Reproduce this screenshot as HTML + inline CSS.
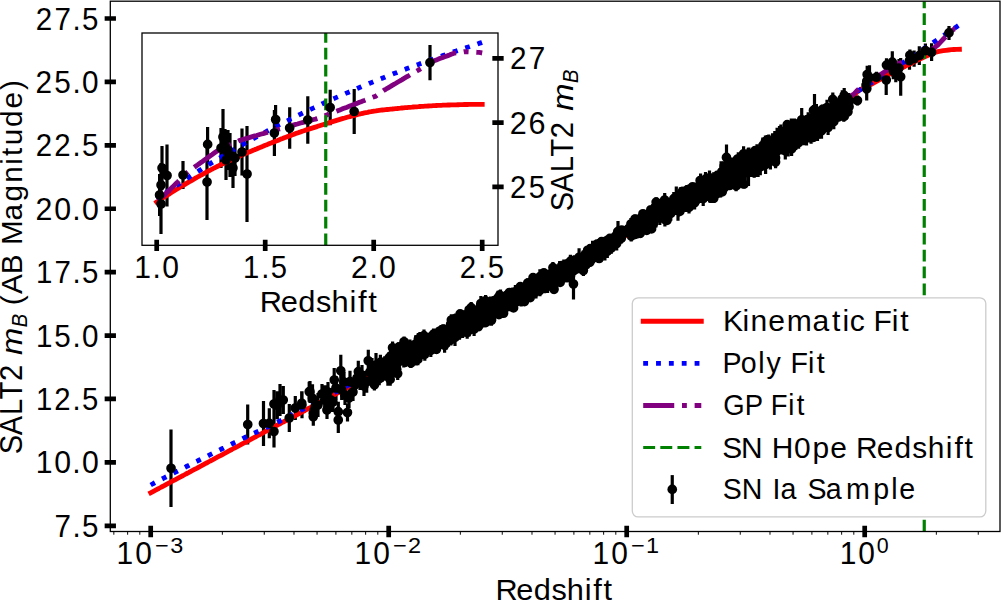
<!DOCTYPE html>
<html><head><meta charset="utf-8"><title>SN Ia Hubble diagram</title>
<style>html,body{margin:0;padding:0;background:#fff;width:1001px;height:600px;overflow:hidden}
svg{display:block}
text{font-family:"Liberation Sans",sans-serif;fill:#000}</style></head><body>
<svg width="1001" height="600" viewBox="0 0 1001 600">
<rect x="0" y="0" width="1001" height="600" fill="#fff"/>
<defs><clipPath id="cm"><rect x="110.30" y="1.20" width="889.70" height="530.30"/></clipPath>
<clipPath id="ci"><rect x="142.00" y="33.00" width="356.00" height="212.30"/></clipPath></defs>
<g clip-path="url(#cm)">
<path d="M171.0 507.1V429.5M247.7 444.5V404.5M263.5 446.0V401.0M269.3 438.3V408.3M274.0 447.5V415.5M274.0 418.0V390.0M277.3 419.3V391.3M280.0 416.0V384.0M283.3 414.0V386.0M289.3 432.0V404.0M295.3 420.0V396.0M302.0 418.2V391.2M310.0 403.0V381.0M312.7 408.7V388.7M313.3 425.3V401.3M315.3 416.7V396.7M324.7 412.5V387.5M328.7 408.7V388.7M301.7 415.3V391.3M309.2 401.7V381.7M312.5 412.3V384.3M314.2 420.0V400.0M313.3 425.7V407.7M325.0 411.3V385.3M328.0 402.0V382.0M331.0 412.0V388.0M334.2 392.0V368.0M340.8 386.8V354.8M338.3 421.7V401.7M338.3 433.0V407.0M347.5 421.5V403.5M341.7 400.0V380.0M345.0 405.0V385.0M350.0 392.7V370.7M358.3 382.7V360.7M368.3 371.8V349.8M366.7 392.7V370.7M355.0 395.0V375.0M362.0 385.0V365.0M372.0 378.0V358.0M376.0 377.0V353.0M318.0 417.0V393.0M322.0 404.0V384.0M336.0 400.0V376.0M344.0 392.0V372.0M353.0 401.0V383.0M360.0 390.0V370.0M370.0 383.0V361.0M333.0 412.0V392.0M327.0 419.0V401.0M364.0 396.0V376.0M357.0 387.0V369.0M349.0 408.0V388.0M377.0 379.1V365.8M379.2 385.3V372.5M378.2 374.9V363.5M373.8 385.1V373.7M374.4 390.4V379.0M379.0 380.2V368.9M372.0 382.3V368.5M378.6 379.9V369.3M378.4 383.5V370.6M375.7 380.4V369.0M374.4 385.3V373.3M428.4 346.1V334.5M394.0 368.5V358.5M405.9 354.3V340.3M380.3 379.8V365.9M438.1 342.0V329.2M390.8 363.0V351.6M398.7 352.2V342.3M441.6 338.9V327.4M415.7 352.9V335.2M439.3 335.3V327.3M424.8 360.7V347.8M431.9 353.1V342.7M386.4 366.7V356.2M417.9 365.2V353.7M415.5 353.9V343.4M441.0 341.9V333.5M405.3 367.1V356.0M421.9 355.7V347.5M384.1 371.7V359.2M407.1 354.7V345.1M402.6 362.7V352.8M390.5 374.8V362.3M437.1 349.9V338.6M406.6 359.8V341.2M448.5 346.8V334.0M421.3 352.5V341.7M422.4 358.9V349.1M424.7 346.6V336.1M427.4 348.8V338.9M390.6 362.1V350.0M410.8 368.0V358.1M396.8 373.9V365.0M408.2 362.4V347.1M386.8 371.5V360.7M447.7 345.5V331.7M395.1 364.3V352.3M427.0 350.0V339.3M401.0 356.4V343.5M441.2 340.7V332.6M426.4 346.5V337.3M389.2 362.8V352.3M439.2 344.8V334.6M446.1 349.8V333.2M443.3 333.7V324.6M419.9 348.9V337.1M390.2 385.7V373.0M393.5 367.1V354.9M445.0 345.7V336.2M418.7 355.9V341.4M392.6 365.3V353.3M441.9 334.1V325.1M424.9 351.2V343.3M419.9 345.5V331.9M406.3 353.8V340.8M408.8 356.8V345.1M396.8 365.0V353.5M382.7 378.0V361.1M441.3 339.9V329.9M412.7 358.1V348.3M418.3 345.2V333.0M402.6 359.0V348.2M432.6 353.3V343.0M381.8 371.1V359.0M406.1 359.4V348.5M382.1 375.1V364.2M388.6 371.7V360.7M447.7 333.6V325.2M426.0 349.6V333.8M410.0 357.9V347.8M416.7 352.9V341.9M441.1 348.6V337.2M404.1 347.3V336.4M421.3 352.2V343.3M427.9 346.6V338.2M404.9 367.0V351.8M416.3 360.6V346.5M433.6 339.6V328.6M443.6 342.4V324.6M390.6 369.9V358.7M445.3 347.2V337.0M380.4 369.9V354.8M432.7 351.6V342.9M436.7 348.6V337.5M389.6 371.5V358.9M409.3 355.0V344.4M437.1 345.9V335.1M381.0 378.8V364.9M424.0 341.7V329.5M435.5 344.7V337.2M415.9 350.7V342.5M430.8 356.9V343.9M395.8 360.2V348.6M393.9 376.2V364.8M405.4 363.2V350.2M392.6 354.0V341.5M404.2 362.6V353.0M446.4 339.8V330.1M420.1 358.8V347.8M403.8 367.4V352.8M399.0 357.0V342.3M446.6 342.7V331.1M411.1 356.6V346.2M448.6 338.8V331.3M416.1 363.1V350.0M416.5 355.3V343.8M442.8 335.3V328.2M432.0 352.1V341.2M420.6 349.8V339.8M409.9 351.2V339.5M441.5 347.9V339.7M408.8 353.2V340.8M444.6 352.7V338.0M384.8 372.4V356.2M410.1 358.5V347.9M416.4 365.5V344.0M446.6 343.4V327.5M397.6 367.0V354.8M436.4 354.0V344.5M427.4 343.2V334.9M430.2 343.3V331.9M424.1 355.9V346.3M448.0 341.0V331.0M403.3 361.8V351.7M407.9 358.4V348.8M394.2 373.6V361.8M383.5 368.9V358.2M394.9 364.8V353.9M444.1 347.4V334.6M438.8 349.6V334.1M387.9 376.8V363.7M422.3 352.1V342.8M413.5 351.8V341.1M421.6 348.6V337.9M426.1 355.7V345.3M401.5 361.2V347.1M447.3 343.7V333.7M412.6 366.0V353.2M424.0 355.3V347.4M424.5 352.7V338.7M392.9 375.5V365.1M384.3 378.6V367.6M408.8 354.3V344.5M433.5 351.8V339.8M437.1 349.9V338.4M431.1 352.1V343.9M387.9 385.8V367.6M443.9 343.2V332.4M436.1 346.3V335.6M441.4 346.2V328.6M416.6 358.4V349.9M444.1 345.0V337.4M383.3 371.9V357.4M382.1 382.0V371.0M381.4 381.5V365.0M397.7 380.1V367.1M397.4 370.9V356.3M527.7 295.1V283.6M534.8 286.9V276.6M456.2 322.0V314.0M530.6 289.1V281.4M539.9 284.2V269.2M499.0 318.0V311.2M456.9 331.7V319.4M525.1 292.7V284.3M477.1 321.4V310.1M520.8 300.4V288.3M491.4 325.8V314.7M520.1 304.8V292.9M478.4 321.9V314.5M502.4 305.7V298.9M507.7 308.0V302.3M519.4 300.0V289.8M472.3 320.2V311.1M555.8 277.2V268.8M481.8 321.2V310.2M483.7 313.5V305.2M478.2 322.8V313.9M457.4 332.1V324.2M496.5 306.5V298.5M534.9 288.1V281.6M528.1 293.4V283.6M471.5 331.8V314.0M465.1 330.9V314.4M485.4 312.7V305.1M534.5 293.5V283.7M503.7 307.5V298.5M551.6 282.9V278.1M522.2 296.5V291.9M518.3 297.2V290.3M534.4 294.0V286.1M532.5 289.4V284.0M487.8 323.4V316.6M478.3 330.3V323.1M498.1 302.5V295.8M503.8 303.3V297.3M465.6 327.1V318.3M498.5 311.7V301.0M520.4 291.2V282.0M464.9 327.7V320.2M465.2 326.1V317.1M469.1 323.0V313.6M481.2 310.4V304.7M555.8 284.3V273.0M452.8 336.8V328.6M470.2 326.3V319.5M468.2 332.5V311.9M502.2 302.2V295.8M451.7 340.5V331.5M500.4 304.1V297.1M467.9 332.4V320.0M479.7 316.6V308.2M537.2 293.2V287.9M470.2 327.8V322.1M517.9 295.9V288.7M494.7 314.3V297.7M495.9 305.5V299.0M539.9 287.1V274.6M467.7 330.3V322.8M551.6 282.3V277.2M548.3 276.6V272.6M523.5 301.3V293.3M455.4 335.9V325.6M523.0 295.7V287.6M516.0 294.0V289.3M534.9 290.2V283.4M473.5 324.2V314.2M554.9 285.0V278.2M547.5 282.5V273.1M462.6 338.1V320.1M484.7 306.2V299.9M453.6 339.7V318.5M541.4 285.1V276.0M550.7 284.1V277.1M558.9 280.4V273.4M517.3 296.5V288.8M523.3 297.6V291.6M524.6 295.4V288.9M512.7 305.4V293.0M554.8 281.3V271.4M516.9 299.0V290.1M486.9 317.2V308.8M506.4 301.7V295.2M452.1 329.8V319.7M529.7 296.1V288.7M526.3 298.5V289.4M496.3 317.0V304.0M543.7 288.3V284.1M533.1 293.1V288.4M487.0 318.9V306.2M458.5 328.3V321.2M464.5 336.7V320.1M470.3 324.8V315.3M483.4 319.7V299.3M499.2 304.6V295.2M552.1 282.7V272.4M480.6 322.2V315.3M548.8 283.4V277.2M524.9 296.5V287.6M543.9 276.1V269.7M494.4 313.2V304.6M450.4 336.8V323.4M536.6 291.4V284.9M477.0 329.2V321.9M465.7 326.4V316.7M537.9 293.5V286.0M525.5 296.4V286.2M473.4 327.1V318.3M479.4 328.5V321.6M553.3 273.9V269.6M479.5 323.0V313.1M527.3 295.4V288.8M464.3 330.0V320.4M539.7 287.4V282.6M462.9 330.2V322.4M506.8 308.8V299.3M453.9 333.6V320.9M510.5 307.7V295.9M543.1 284.3V272.0M459.3 325.5V316.1M480.2 322.9V311.0M534.1 297.6V288.4M516.9 302.3V294.6M484.4 325.5V318.3M519.2 300.8V289.2M500.0 305.2V296.5M544.9 286.4V279.9M482.2 317.5V308.9M533.4 292.6V277.2M519.9 297.4V291.9M531.4 294.8V289.3M491.6 322.2V308.4M529.7 290.9V285.5M526.8 294.5V281.4M492.6 314.7V307.2M452.9 338.0V327.3M555.9 280.9V268.5M528.5 291.0V278.2M472.5 319.7V308.2M530.4 299.5V291.3M480.7 318.6V310.3M501.6 304.4V296.3M544.6 293.2V279.5M499.3 307.5V297.9M481.7 317.5V304.6M483.6 315.3V310.1M458.5 335.6V326.9M474.1 329.1V319.1M479.8 314.9V306.8M469.0 336.6V318.8M456.9 334.7V327.4M501.2 308.7V298.5M473.6 329.1V317.1M531.3 293.7V287.3M551.5 284.0V273.2M480.0 324.3V314.1M512.9 310.0V287.4M505.7 312.3V298.4M458.3 333.1V323.6M463.7 328.0V315.4M547.3 280.6V271.2M502.2 310.6V303.0M538.5 288.2V277.9M457.3 327.2V316.2M515.4 299.5V285.1M545.2 284.1V278.9M545.4 289.7V284.4M450.6 328.3V320.1M507.4 301.2V290.5M490.6 308.9V296.4M533.6 291.8V283.8M458.1 332.9V322.7M479.1 323.8V314.6M539.4 280.5V275.5M501.7 306.7V299.8M499.8 310.4V298.7M556.5 282.7V271.9M485.2 327.2V314.2M454.6 338.9V327.2M493.1 310.6V305.8M466.9 332.2V322.0M459.0 325.4V314.8M512.5 300.3V294.5M554.9 279.6V264.1M513.7 301.8V293.6M521.2 306.6V295.0M485.6 306.5V295.0M512.8 298.0V287.6M532.7 298.7V285.3M514.8 306.8V298.6M538.3 289.8V278.4M510.6 302.7V292.8M471.8 327.8V321.0M514.1 300.9V293.9M504.0 312.0V305.9M468.3 328.1V322.0M518.1 304.0V298.7M539.9 288.7V279.0M464.9 318.3V311.6M509.9 308.8V297.0M530.7 293.5V285.8M494.3 304.7V296.6M479.7 325.1V318.5M491.0 313.7V303.7M509.6 309.4V302.9M525.5 294.3V283.9M511.5 307.3V296.5M461.8 326.7V320.2M540.0 290.7V281.0M551.6 283.8V279.5M461.1 334.0V321.9M477.4 313.1V307.5M469.1 313.4V306.2M543.4 285.3V272.6M550.1 280.2V271.4M454.9 341.5V329.8M486.6 318.4V313.4M471.2 313.5V301.9M501.6 299.7V292.9M551.4 280.4V266.1M457.7 325.6V315.9M468.8 332.7V323.6M503.6 315.9V310.4M507.6 304.0V297.5M532.0 292.9V284.7M498.1 304.4V290.8M465.5 331.3V317.5M488.9 319.1V310.8M558.0 275.4V269.8M532.6 291.9V286.2M462.8 333.0V317.2M538.9 292.8V283.6M484.2 321.5V314.7M536.0 298.5V284.7M451.4 325.7V314.3M545.8 290.2V279.6M467.9 330.6V318.5M500.1 308.8V299.0M522.8 293.9V286.7M505.9 306.6V301.2M468.2 328.2V321.5M465.3 328.8V321.3M481.3 320.4V309.8M455.8 340.4V332.4M473.8 330.0V318.2M464.3 322.8V310.5M501.1 313.4V299.1M489.2 325.4V310.8M514.6 302.4V298.2M480.9 311.1V295.9M453.7 340.8V330.4M486.4 318.4V309.0M533.1 297.4V290.5M478.1 320.1V310.1M494.5 307.5V298.2M533.0 281.0V274.2M494.7 309.7V304.3M547.6 293.0V279.8M551.0 288.5V278.5M484.2 317.7V310.8M531.0 293.7V286.4M477.8 325.6V313.9M465.3 325.3V317.1M498.2 315.3V305.5M516.3 303.0V290.8M552.9 273.2V262.0M466.0 328.7V319.5M528.4 296.8V290.3M502.3 312.5V304.6M464.5 332.8V320.9M557.0 282.4V274.6M526.5 303.6V288.7M464.2 330.8V314.2M549.6 283.8V269.9M461.3 333.6V321.7M460.2 317.5V310.3M486.5 315.2V299.4M553.2 282.2V271.4M453.6 328.4V320.0M551.0 281.0V274.7M517.3 302.5V295.4M457.4 334.4V324.2M512.5 299.3V293.6M500.5 302.5V289.4M512.0 299.4V291.6M531.1 294.1V283.7M524.6 292.7V287.5M559.7 284.1V260.9M467.2 338.8V325.9M539.4 287.3V279.1M495.2 304.7V298.3M536.2 292.6V278.5M548.1 285.4V278.1M559.1 279.0V271.8M479.3 312.9V305.7M499.8 304.5V298.3M553.7 279.5V271.4M554.0 293.5V285.1M491.0 319.2V311.2M553.4 274.7V269.0M494.6 320.4V305.9M491.2 317.1V302.0M533.2 289.3V282.9M501.8 311.3V297.9M499.3 305.8V296.9M492.5 313.5V304.8M497.6 317.8V300.7M465.4 327.8V320.7M456.7 337.4V325.3M532.9 288.9V280.8M512.1 306.2V297.3M523.9 302.6V296.9M538.3 285.4V278.2M475.3 323.9V310.1M475.7 320.2V310.8M480.6 311.5V300.1M483.4 321.9V310.2M533.7 288.8V282.3M491.2 314.1V305.5M485.6 326.9V318.1M520.0 299.5V291.9M470.5 333.8V325.2M461.7 331.4V321.5M526.7 301.2V290.5M533.2 296.9V288.9M482.6 312.4V304.8M520.0 303.0V290.5M453.7 337.0V327.9M494.5 313.6V300.9M513.6 311.2V304.5M477.9 325.7V318.8M488.3 319.3V312.1M517.1 298.0V291.4M514.9 301.7V291.7M467.0 332.0V322.0M527.7 287.8V278.2M458.8 335.8V326.2M556.7 285.5V276.3M472.3 320.1V312.6M477.9 325.0V311.8M472.0 328.0V318.0M559.1 283.4V277.1M481.5 327.1V308.6M516.6 301.8V294.4M559.0 282.2V274.4M554.5 279.7V270.8M454.7 325.1V314.6M507.3 299.7V290.1M516.1 296.7V291.1M527.3 295.2V286.8M487.0 316.2V310.9M486.1 313.0V304.8M450.5 339.1V329.8M453.9 337.1V326.0M510.5 308.5V301.9M458.3 331.7V321.5M472.3 326.3V318.2M486.7 320.9V311.9M457.8 326.4V318.8M453.4 329.4V316.9M552.0 286.5V275.6M497.9 315.8V310.2M472.5 330.7V322.2M527.9 295.2V287.9M451.0 334.7V328.2M477.0 318.9V312.4M555.7 283.8V276.6M548.7 288.1V282.7M520.0 303.2V294.5M460.3 329.9V318.5M485.0 321.8V314.4M453.1 341.0V329.8M474.1 336.0V322.2M452.8 337.5V329.3M463.9 330.0V316.9M519.7 299.3V287.0M461.0 332.9V319.0M467.1 322.0V312.7M549.3 278.7V269.9M486.9 315.6V308.5M486.6 319.8V308.1M459.5 339.7V328.0M537.6 288.8V279.5M524.4 305.8V297.4M510.2 300.4V293.4M518.0 297.4V292.9M461.0 327.4V319.3M478.6 315.9V310.0M514.2 298.6V290.5M554.7 277.6V271.4M539.9 296.3V278.1M520.5 301.3V294.3M507.1 306.0V299.4M451.7 334.0V317.4M548.0 286.3V281.4M457.4 329.6V316.1M464.2 327.8V314.2M526.2 298.9V290.7M539.3 293.4V288.0M536.5 285.3V278.5M499.8 299.8V290.6M469.5 331.1V319.1M453.9 327.2V315.9M543.7 292.8V283.2M557.5 274.4V267.3M476.9 328.0V315.2M545.3 284.5V278.6M494.3 313.7V306.5M484.2 317.3V307.8M505.6 302.7V291.6M450.9 345.4V334.3M498.7 307.1V296.8M472.0 319.9V311.7M528.4 299.8V288.1M505.3 309.6V304.7M545.6 281.0V274.4M548.6 284.6V279.2M484.8 323.1V316.3M480.8 322.7V312.3M553.3 293.5V282.7M505.4 310.8V304.4M460.6 328.3V318.8M455.0 345.9V328.8M558.9 284.1V275.0M513.7 303.9V290.0M456.0 338.1V325.0M506.2 311.6V298.8M505.5 309.7V301.8M497.9 302.9V293.0M554.6 286.4V268.5M554.4 279.7V273.3M463.7 325.2V318.0M466.7 325.0V311.3M494.8 314.4V306.9M541.7 287.2V278.7M518.6 304.7V294.2M530.3 301.4V293.9M513.4 303.8V295.8M473.1 322.0V315.2M540.0 286.0V278.0M451.5 338.6V331.3M526.8 300.7V291.0M471.4 330.4V320.7M501.8 305.8V293.4M557.3 274.0V266.5M509.3 311.2V298.9M456.3 334.4V320.8M497.2 313.4V300.2M522.6 294.8V283.9M456.2 332.2V321.2M477.8 321.4V311.4M452.0 330.9V322.1M509.4 296.8V288.3M492.0 309.6V300.8M505.4 312.1V294.8M482.5 319.6V313.0M522.2 300.2V292.4M469.0 317.1V307.0M588.6 259.2V253.6M587.7 258.5V246.5M605.3 248.0V243.5M601.4 259.3V247.8M596.9 249.6V240.5M606.2 244.3V237.7M563.3 278.3V270.0M598.5 251.8V246.9M583.2 263.4V250.5M597.6 258.9V253.7M574.8 268.0V261.4M583.4 275.9V265.0M601.2 252.2V245.2M561.8 270.0V261.3M574.6 273.7V265.1M584.4 267.5V261.1M602.6 250.3V243.5M573.5 276.1V261.5M601.2 251.2V240.4M572.2 270.5V260.7M575.2 264.0V255.8M587.7 253.3V247.3M592.7 258.4V253.2M604.0 253.8V244.0M604.0 244.9V238.3M572.5 271.2V263.9M597.3 257.6V252.1M591.7 257.4V252.8M579.3 267.0V258.7M598.8 256.5V250.6M604.9 260.5V244.8M584.0 272.9V258.8M605.8 247.5V240.3M566.4 282.2V270.4M568.3 266.1V260.1M598.2 258.4V246.6M575.3 272.7V256.2M589.3 264.2V254.3M584.9 273.4V256.4M567.3 276.0V271.9M597.7 256.0V248.2M597.1 247.8V240.4M567.3 276.0V265.9M573.0 264.8V256.7M600.0 250.7V240.9M605.6 251.9V243.5M603.5 250.7V244.7M585.1 257.2V252.0M578.4 264.8V253.3M582.3 265.0V258.6M568.8 275.7V266.0M584.8 261.3V252.2M571.5 267.5V260.7M568.1 271.9V266.9M579.0 264.6V256.0M563.2 281.4V269.1M583.5 259.4V256.1M594.8 255.8V250.7M592.6 260.2V240.7M608.8 250.5V242.1M604.3 253.0V243.7M591.7 259.2V246.4M604.9 258.1V244.0M582.2 269.8V260.7M599.9 250.6V240.1M574.2 273.6V267.1M586.3 264.8V256.7M609.0 241.9V236.6M589.9 259.7V249.5M585.3 262.0V252.3M599.4 249.1V239.4M575.6 267.1V257.1M601.6 243.9V239.6M560.9 273.4V265.8M571.9 272.1V266.1M568.9 281.3V274.0M572.9 275.1V265.3M607.3 258.1V244.7M561.2 277.4V269.8M574.9 272.2V265.8M588.7 265.4V258.5M595.2 257.0V249.3M598.7 260.5V253.0M579.2 271.4V262.7M571.0 265.9V255.7M602.6 252.1V247.3M566.1 279.9V275.1M563.3 273.7V267.2M571.6 271.3V264.6M584.6 266.2V252.9M607.1 251.9V244.6M596.4 261.2V250.1M588.2 264.7V259.0M586.1 267.3V262.1M594.7 261.6V241.6M591.3 265.4V254.0M576.8 266.7V261.0M564.6 277.6V269.9M570.0 280.0V264.0M599.1 263.1V253.8M591.7 257.4V250.6M599.9 255.1V244.0M562.2 278.2V268.7M605.0 246.1V242.0M579.1 266.3V248.3M606.3 247.8V236.2M589.7 266.4V258.5M587.4 264.9V258.1M600.9 248.7V242.4M591.3 258.4V254.0M593.7 259.0V250.5M567.9 276.7V270.2M590.2 251.3V245.8M577.8 271.7V265.4M563.8 276.7V259.6M566.7 273.2V266.7M584.0 268.0V256.1M573.1 277.8V264.2M598.3 249.6V241.2M566.1 274.3V263.6M560.7 271.6V265.7M609.8 242.0V234.8M575.6 273.0V264.5M585.5 263.2V257.3M570.5 278.5V272.4M570.4 271.0V254.8M580.1 266.3V253.9M599.5 256.5V248.5M562.0 276.0V270.2M601.9 257.2V248.7M609.5 247.7V242.0M588.0 259.9V252.4M578.0 264.0V255.8M571.7 273.7V265.0M569.1 273.7V267.1M576.2 272.3V261.6M602.6 252.2V239.4M560.2 286.1V278.8M599.3 256.6V247.9M593.4 259.6V252.7M612.0 245.1V234.2M610.4 245.1V238.6M631.5 240.3V225.7M620.3 239.8V232.4M630.9 230.0V218.1M633.4 230.6V223.4M635.1 223.7V214.4M628.5 232.4V224.7M635.4 236.9V231.7M629.8 233.4V224.0M637.8 231.4V226.0M636.9 237.5V230.3M611.3 253.7V242.5M618.0 243.0V221.1M621.7 233.6V226.9M617.6 242.0V239.4M615.3 245.2V237.5M636.2 229.4V219.3M610.8 244.6V235.7M615.5 242.8V229.3M632.8 237.2V230.2M616.7 250.6V236.3M617.8 237.0V226.3M639.0 236.5V227.9M632.9 234.5V226.1M623.5 238.1V228.3M614.1 247.0V236.0M618.1 239.4V232.0M639.4 231.1V224.1M633.7 229.5V222.0M612.1 243.9V236.7M631.2 241.6V230.4M621.3 243.6V233.3M631.6 230.4V225.7M618.9 243.3V236.5M613.9 246.1V240.7M610.6 243.4V235.9M680.1 208.0V195.5M691.1 203.4V196.8M664.3 211.8V198.6M695.2 197.0V188.9M692.9 199.1V188.8M688.5 197.3V191.0M662.8 214.1V205.6M671.7 216.6V206.6M650.4 221.8V214.5M685.6 200.8V194.9M693.5 201.7V190.2M649.7 223.9V211.6M684.7 208.8V203.1M681.7 206.1V194.9M642.2 221.5V211.3M695.0 205.8V192.6M668.7 214.4V208.9M656.2 207.0V197.3M641.8 227.5V217.6M686.9 195.6V184.9M660.3 209.2V203.0M670.8 220.8V205.7M651.7 216.0V205.8M676.4 208.2V198.2M663.8 220.6V205.3M688.4 200.9V189.3M680.0 207.5V193.9M683.3 204.6V192.2M655.1 224.6V214.3M643.8 218.2V211.3M692.8 203.4V189.9M696.1 195.7V183.2M678.6 216.4V205.2M695.3 204.4V196.9M682.4 203.0V194.4M676.3 214.6V186.4M665.1 211.6V200.1M661.3 218.5V211.4M669.4 216.2V208.6M653.3 223.9V217.1M665.7 213.2V206.9M670.5 216.4V210.7M641.9 227.8V219.4M663.6 211.9V199.0M657.1 219.8V208.8M678.0 220.7V199.8M688.7 196.8V187.8M676.9 214.8V204.1M679.8 215.0V207.8M676.8 205.4V195.7M655.4 222.3V210.2M662.6 220.0V210.2M690.7 203.3V195.9M696.8 195.1V188.0M650.9 213.3V206.3M640.6 221.1V215.5M697.7 193.7V187.1M691.6 208.5V198.1M676.5 204.1V198.1M689.0 195.9V188.5M675.7 209.4V198.7M694.3 194.9V189.6M654.6 213.0V202.5M666.6 213.8V207.5M680.2 213.4V207.5M652.9 217.6V210.0M682.9 210.5V202.5M655.7 210.9V203.1M682.6 211.7V196.3M688.3 201.1V191.2M665.5 214.6V209.3M699.4 202.7V194.2M677.9 209.9V199.2M685.4 202.4V191.9M641.2 228.0V222.2M646.8 233.9V226.9M682.7 209.5V201.9M696.6 198.6V192.1M677.7 213.4V204.3M694.8 198.4V190.4M643.6 225.8V218.1M693.5 205.8V195.7M692.6 190.7V182.9M677.7 205.7V190.5M665.8 205.7V198.9M682.3 196.7V186.7M654.6 219.8V211.8M680.1 204.4V194.8M681.7 210.0V195.0M672.4 212.7V206.3M655.6 216.0V204.9M640.1 225.3V219.6M651.7 217.6V207.5M690.0 192.0V185.7M652.7 219.3V211.5M644.5 233.1V226.6M654.8 213.4V206.1M671.2 216.3V203.8M675.2 206.8V193.7M692.6 204.9V195.2M691.3 195.7V187.8M698.1 203.7V190.2M693.1 191.5V184.8M667.0 223.0V217.6M648.5 228.2V220.1M697.3 195.3V185.7M653.7 223.1V214.0M677.3 212.9V203.7M655.9 227.5V205.4M689.0 197.7V190.3M652.0 224.8V217.5M665.2 220.2V213.2M653.2 225.0V213.3M691.6 202.5V195.0M677.2 213.3V207.1M677.8 208.2V199.5M658.9 210.6V203.6M650.6 218.3V209.0M691.4 199.2V194.3M685.9 212.1V199.5M684.1 198.9V188.6M699.8 192.8V184.0M673.6 211.1V203.7M650.7 218.7V209.1M676.6 209.5V201.1M657.2 215.2V205.5M670.8 219.1V202.4M667.6 211.7V202.6M673.8 205.3V192.1M695.3 201.2V189.1M688.6 207.3V199.5M664.9 226.5V212.7M689.0 213.5V201.1M691.6 204.2V197.2M686.4 205.5V194.9M673.1 211.7V194.5M694.0 200.4V186.8M669.5 216.0V204.3M646.4 224.6V217.5M656.3 218.0V209.5M679.5 207.3V196.4M662.7 216.1V209.2M665.4 208.4V203.4M664.1 220.3V204.9M651.5 232.3V225.5M645.6 221.8V217.1M642.9 215.5V212.1M680.4 203.7V187.3M659.4 211.9V203.7M667.4 210.1V203.4M696.1 193.6V186.8M677.6 211.6V198.3M688.6 207.9V199.3M685.7 201.9V195.8M697.2 193.5V182.1M644.0 234.0V225.9M663.0 217.3V210.2M697.0 197.3V189.5M667.9 207.3V200.2M696.9 193.9V184.0M651.1 217.6V210.5M643.6 228.8V223.3M693.7 199.6V185.8M664.7 207.1V193.0M670.5 210.1V201.6M696.2 197.2V187.3M653.2 215.7V203.7M698.1 201.4V193.5M663.8 208.8V198.8M654.8 222.1V209.0M654.0 220.8V213.0M671.1 211.2V206.6M668.0 207.2V201.2M693.2 202.5V194.8M643.0 225.5V217.4M642.6 227.0V222.4M649.2 222.2V217.2M676.3 208.2V197.5M686.9 209.1V189.2M668.8 211.0V199.8M676.8 207.8V199.0M678.6 205.6V191.7M641.2 237.3V225.5M654.8 218.4V206.4M699.9 193.2V186.6M659.8 225.1V208.5M696.8 195.7V189.6M669.5 209.9V201.8M653.4 225.7V221.8M640.1 237.9V228.9M653.1 220.2V212.3M659.3 216.1V205.2M666.4 222.4V214.2M666.8 215.3V209.4M672.9 212.9V204.1M668.4 211.9V206.4M642.0 235.6V219.0M656.0 220.6V215.7M697.7 198.2V185.8M641.6 226.5V220.9M684.0 199.3V192.0M668.6 216.7V209.3M682.4 207.9V195.7M660.0 213.2V204.5M662.2 211.0V201.9M671.0 205.5V199.9M694.6 209.5V196.4M659.7 221.8V213.9M645.2 226.6V219.6M642.3 233.6V220.3M735.3 181.5V175.1M772.6 152.8V133.3M723.4 183.9V178.9M775.7 143.4V132.7M775.1 146.0V134.8M782.8 148.1V138.4M748.5 166.9V147.7M722.2 195.7V187.9M763.2 150.3V140.1M791.0 148.8V137.5M731.0 181.4V170.7M702.0 198.2V189.0M718.5 190.7V178.7M793.3 143.7V133.5M700.6 200.6V184.6M705.4 192.4V182.4M709.8 190.2V178.1M789.2 137.3V123.8M738.3 170.4V152.2M769.2 156.3V146.4M770.6 151.9V138.2M743.4 172.6V165.8M773.2 165.1V152.2M746.1 170.4V155.0M754.2 177.8V161.1M730.7 185.0V172.3M700.2 193.8V186.1M759.3 164.5V158.9M726.6 185.8V180.0M727.5 180.6V169.4M787.9 138.8V126.0M736.2 182.6V169.9M710.2 195.2V182.3M763.0 157.9V149.7M753.8 168.1V156.3M705.8 197.8V183.7M734.9 168.7V158.8M761.1 161.6V156.4M728.0 182.6V173.1M798.6 148.8V136.5M779.9 144.3V135.5M750.4 171.0V162.7M791.6 134.2V127.6M703.5 202.1V181.8M722.5 186.2V173.5M791.5 139.8V132.3M750.9 171.3V157.8M717.0 194.5V182.5M757.0 161.2V144.3M773.0 161.4V153.3M760.3 175.3V158.5M704.6 193.2V180.0M703.7 198.2V191.3M740.7 175.6V163.8M701.6 201.1V190.3M708.4 190.0V178.7M764.3 163.4V157.9M743.8 176.0V163.8M708.6 193.5V184.5M787.6 148.8V134.3M736.8 178.4V166.7M788.3 147.3V138.2M760.9 160.2V152.1M762.1 168.7V158.4M742.4 168.5V156.2M767.2 149.7V138.7M724.4 184.1V177.4M725.7 190.5V172.5M787.5 143.2V128.6M720.4 182.8V172.1M738.6 178.4V166.6M774.5 150.1V136.7M733.0 177.5V165.7M736.6 181.9V171.6M790.9 148.9V132.9M720.6 197.4V187.4M724.1 171.1V161.4M788.7 149.0V137.8M727.5 175.5V165.1M733.1 176.7V165.1M788.2 156.4V122.4M732.1 179.1V169.9M799.7 139.0V126.2M782.1 146.8V131.9M784.7 142.4V135.6M722.6 182.1V172.3M721.7 185.3V178.9M775.3 154.4V145.5M782.7 144.9V138.1M722.5 185.5V174.2M720.6 191.5V182.8M724.4 191.2V176.3M713.8 202.9V193.5M742.1 183.8V173.9M750.3 164.5V155.2M762.8 159.2V150.7M705.5 186.3V172.1M719.2 179.2V172.5M711.7 199.4V184.1M727.0 183.7V173.7M718.6 183.9V177.0M793.6 135.1V123.8M737.3 173.8V164.8M713.9 186.2V177.9M766.6 156.0V138.9M797.3 133.0V119.6M779.4 142.2V137.8M764.8 154.7V144.3M737.8 176.3V166.1M740.3 183.0V173.6M730.2 181.3V163.2M780.6 150.4V142.2M780.3 138.9V130.6M748.9 159.4V147.6M786.2 151.6V135.7M765.2 147.7V140.8M768.6 147.8V137.4M726.9 174.4V164.8M724.2 194.3V181.3M722.8 186.2V163.6M791.3 132.8V118.5M780.0 149.3V139.8M789.9 142.1V133.7M782.3 145.4V140.8M780.5 147.5V136.2M743.6 161.3V146.3M776.6 155.4V141.5M716.7 194.1V185.5M765.6 174.0V155.0M704.3 190.3V183.5M796.6 140.0V124.4M787.9 141.2V128.3M716.5 192.2V183.7M776.9 152.8V137.1M782.4 150.0V142.4M704.2 187.8V180.4M756.6 160.3V147.7M742.0 174.9V153.9M761.9 160.0V144.9M788.6 146.6V137.8M772.3 155.0V135.4M721.1 185.5V161.2M755.5 165.5V153.0M756.2 160.6V148.9M701.1 195.4V188.4M713.2 183.5V176.3M735.9 173.3V166.5M717.8 180.5V173.1M723.7 178.0V171.7M767.6 163.5V146.1M796.1 142.4V131.0M745.8 172.7V167.5M764.6 159.4V146.0M776.1 159.3V145.4M767.3 161.1V153.0M765.7 158.1V149.1M700.1 183.4V177.5M787.0 141.9V126.0M716.1 197.0V191.2M718.0 184.0V175.0M751.0 170.7V153.4M758.7 164.9V156.9M775.6 168.2V155.9M729.3 187.7V175.4M794.5 135.4V128.5M762.8 154.2V137.4M784.4 138.9V131.4M747.7 173.4V163.8M707.1 194.1V187.0M701.2 194.9V183.8M764.0 157.6V147.9M742.6 167.8V155.6M744.0 188.6V179.4M732.6 182.7V167.1M717.8 189.1V179.3M747.4 177.6V163.0M725.5 185.4V176.5M789.3 147.7V134.0M717.9 188.4V182.5M796.8 132.7V123.9M786.0 143.2V130.3M738.4 172.8V156.5M777.3 153.9V143.1M758.1 177.1V156.2M746.6 173.8V154.9M781.2 146.9V141.4M783.1 138.1V126.4M720.2 186.1V175.2M790.6 138.9V125.4M703.2 206.1V191.1M700.6 198.9V190.3M748.4 163.9V147.8M730.1 180.7V174.9M742.3 175.3V161.5M747.9 170.4V162.9M746.8 175.1V167.6M790.8 141.9V126.9M791.8 133.6V124.9M734.6 179.0V165.4M728.8 184.7V174.3M765.4 147.8V135.5M719.8 181.4V172.2M740.0 173.4V167.1M771.8 158.1V140.7M700.6 188.9V173.5M777.2 147.2V135.6M773.4 156.9V146.1M738.7 172.1V163.5M724.8 177.6V169.9M754.0 176.5V168.4M729.6 188.9V182.0M782.1 140.5V130.0M759.1 165.9V148.5M730.7 173.3V164.0M780.8 141.6V128.6M760.8 164.0V150.5M713.2 196.7V188.6M741.4 177.4V163.3M749.0 173.3V162.2M794.5 137.0V118.6M732.1 179.3V162.0M744.9 175.4V165.0M797.7 134.4V124.4M742.6 182.2V161.8M782.7 146.4V138.3M709.7 194.4V174.5M739.4 179.1V161.7M718.4 189.2V180.2M788.4 146.5V135.7M755.3 154.4V146.7M721.9 175.4V167.8M709.2 195.5V181.5M742.1 172.1V159.5M709.6 201.6V189.7M748.5 186.0V157.5M772.9 155.8V143.5M731.0 186.5V177.1M716.7 197.6V182.6M736.2 181.0V167.3M716.6 191.4V182.5M784.4 136.7V128.7M709.6 202.5V190.5M774.1 159.0V149.2M733.4 173.3V164.9M772.8 147.9V138.9M777.1 145.9V127.8M713.5 192.4V182.6M775.7 157.3V145.0M794.6 130.1V123.4M756.7 158.5V151.2M764.5 162.6V156.4M732.3 168.8V157.4M717.4 185.8V177.3M774.4 143.9V138.5M782.0 153.8V129.3M720.6 188.6V177.8M711.3 186.6V178.6M735.2 180.9V165.2M762.6 161.3V148.2M736.5 180.7V168.1M796.4 141.0V122.4M779.1 144.9V134.5M791.6 156.1V141.6M760.0 157.6V149.2M775.6 161.7V154.0M795.1 131.5V123.8M703.6 198.2V187.1M757.5 158.3V146.7M718.7 187.1V178.3M779.5 142.6V126.1M723.3 183.5V176.9M774.2 159.0V145.0M733.3 185.9V170.6M765.2 158.3V145.6M767.9 155.1V141.5M790.9 145.4V135.4M787.2 128.4V121.0M743.8 179.5V162.8M768.9 156.6V147.9M718.2 196.0V183.0M709.8 190.2V173.1M771.4 157.4V140.9M790.7 147.5V135.6M774.7 157.1V144.9M751.7 167.9V150.9M763.0 170.3V152.4M773.0 155.0V147.1M756.9 164.5V157.5M736.3 178.8V166.3M785.1 147.5V133.8M736.9 179.6V168.4M790.4 149.7V138.3M779.9 153.0V143.2M779.3 150.3V138.2M783.4 153.4V146.8M798.7 138.8V125.6M799.0 135.9V120.7M750.1 164.2V150.4M737.7 175.8V168.0M773.3 158.4V148.7M796.8 136.3V124.2M763.0 161.1V150.1M702.6 193.1V182.1M703.9 194.3V182.9M746.4 174.2V166.1M778.8 147.9V134.7M788.7 143.1V133.3M737.5 163.4V154.7M751.7 171.4V158.6M751.3 176.9V164.7M709.5 185.0V170.5M700.1 195.2V182.7M752.4 170.8V154.5M750.4 170.6V160.6M786.4 145.7V130.2M718.2 187.5V173.9M785.3 159.4V142.2M727.1 173.5V156.0M753.9 168.3V159.7M770.7 152.5V144.4M714.5 185.0V176.2M794.6 136.8V118.7M795.8 150.0V137.6M797.0 138.9V132.1M700.2 199.9V190.5M764.3 152.1V145.3M767.1 158.2V134.9M788.0 140.9V127.3M720.1 185.0V177.9M712.4 188.8V176.7M780.9 152.3V124.4M726.2 180.5V167.8M706.6 183.8V177.3M709.2 197.8V188.7M764.5 165.6V150.9M753.6 175.0V153.6M774.8 145.8V130.9M780.7 151.9V137.8M700.3 191.4V184.4M793.3 139.3V124.9M788.0 146.0V126.5M793.3 131.4V123.0M776.9 149.1V140.6M738.4 172.3V164.0M724.8 180.1V167.6M791.2 135.2V124.5M742.0 188.3V167.1M748.8 176.1V157.3M769.8 155.4V140.9M768.8 147.3V134.4M769.3 146.4V139.6M762.4 156.4V145.7M750.9 171.0V159.3M776.7 153.8V133.5M739.6 187.1V175.5M726.2 190.2V173.8M790.9 144.6V131.4M784.6 149.2V134.9M771.8 148.4V138.4M716.8 186.2V179.7M704.6 195.1V181.2M792.2 146.1V129.5M794.3 147.9V142.1M727.2 189.8V180.5M762.9 161.2V149.9M701.8 198.1V185.0M739.4 177.2V169.9M770.4 169.4V145.4M736.1 191.2V180.6M780.7 141.1V127.7M791.3 145.6V134.4M713.7 188.3V172.2M768.8 164.0V149.1M737.6 178.7V162.1M717.4 180.2V170.7M734.9 187.9V175.0M748.2 163.1V148.3M789.6 148.2V122.1M776.5 159.5V143.9M700.5 200.0V189.7M705.6 197.5V180.0M799.4 139.9V130.7M755.7 177.1V163.3M761.0 166.4V153.0M735.3 184.1V174.2M783.1 140.4V129.7M755.7 164.2V150.3M759.3 163.7V157.0M725.0 179.2V167.6M777.7 142.1V136.5M721.4 192.2V187.1M713.7 197.1V181.9M759.7 160.4V149.0M783.2 147.5V132.7M729.3 184.4V171.7M730.2 177.7V172.6M714.9 194.8V177.7M760.3 165.3V154.3M777.1 153.6V144.0M712.6 184.3V174.8M753.5 170.4V166.5M754.0 168.4V162.5M710.7 203.0V189.1M753.0 161.7V155.7M727.2 179.3V166.4M719.9 192.7V178.8M798.6 143.4V136.0M709.0 198.4V191.3M734.3 172.2V165.2M761.9 167.2V158.9M740.5 174.2V164.1M701.8 190.8V182.9M786.6 150.4V140.9M723.9 183.1V175.2M741.2 179.1V157.6M790.9 144.6V133.2M797.0 128.6V119.7M791.5 143.8V136.2M741.1 174.5V160.9M774.4 154.0V142.5M842.6 117.4V105.8M841.0 115.7V103.0M816.2 130.9V109.6M806.4 128.6V117.8M806.8 125.0V115.1M820.4 133.8V110.3M841.6 116.0V107.1M803.8 131.1V123.6M821.5 138.7V123.2M817.7 130.1V121.2M844.6 111.1V103.7M807.6 137.6V126.1M832.8 106.2V92.5M816.1 121.1V114.8M832.3 116.3V109.3M841.1 108.1V98.4M841.2 112.2V102.0M842.3 113.0V106.8M814.6 122.9V116.2M813.8 134.5V124.8M806.1 136.4V124.5M812.8 123.9V112.1M806.0 131.0V120.1M839.2 106.6V101.1M802.4 130.3V122.5M809.6 137.3V126.4M839.5 116.9V103.9M838.4 105.3V100.7M848.7 113.8V93.1M819.2 124.9V107.0M802.3 131.2V124.6M840.4 120.6V107.1M814.3 121.8V113.4M838.7 116.0V104.5M801.0 143.9V134.3M801.7 131.6V108.1M829.9 124.8V104.7M834.2 118.3V110.3M828.1 134.9V120.0M826.6 130.4V106.2M829.9 118.1V106.7M806.5 145.6V127.2M803.2 135.1V124.8M817.5 141.0V126.1M827.4 114.7V106.0M812.4 129.4V117.0M809.0 125.6V114.3M822.3 114.4V104.5M820.5 127.9V118.8M813.4 141.3V133.2M846.4 104.8V93.3M847.1 114.2V102.4M802.3 144.6V134.7M824.0 121.8V108.1M811.9 135.7V120.8M816.8 116.1V106.8M801.4 128.1V121.7M804.0 145.2V131.6M801.7 134.5V122.8M806.3 134.6V124.8M832.5 117.8V98.4M803.9 131.8V125.7M844.3 105.2V92.2M840.1 109.9V98.6M813.5 116.0V104.9M834.6 111.2V105.6M847.6 110.9V102.6M805.8 133.0V120.7M828.0 129.2V109.6M823.3 128.7V119.5M815.5 124.5V117.5M814.4 126.4V112.9M804.3 139.6V118.3M832.4 118.0V106.3M809.9 133.2V127.1M821.1 127.8V118.2M846.4 113.6V99.9M817.4 138.2V130.9M815.8 140.9V123.6M846.6 111.6V102.8M829.2 127.9V113.2M828.5 123.0V111.4M811.1 143.7V127.3M832.1 117.1V104.2M819.0 119.0V108.9M827.2 123.6V109.8M819.9 122.9V113.0M804.1 131.8V122.6M843.9 109.2V94.6M834.6 121.4V100.9M847.9 116.5V106.8M815.3 117.6V108.3M814.1 140.6V122.9M806.8 126.8V119.6M815.3 121.9V114.3M816.3 134.5V124.2M809.2 131.5V124.1M813.2 129.1V121.5M814.7 127.7V117.0M842.9 106.8V97.8M822.3 129.5V122.7M841.0 117.8V99.7M802.5 127.9V119.2M809.4 123.4V116.2M847.6 102.8V93.6M802.5 130.8V117.2M803.5 135.4V123.1M825.9 127.6V117.2M814.5 139.6V93.9M809.7 126.6V115.4M830.4 127.0V111.5M830.5 126.8V118.7M809.4 126.6V119.5M827.0 115.4V99.7M822.7 126.1V117.2M842.3 117.0V110.5M803.4 132.0V118.4M811.7 128.0V116.1M828.3 124.3V112.1M801.7 142.6V131.6M842.3 107.1V90.3M848.4 110.3V101.0M816.4 124.4V104.1M838.7 121.3V112.2M812.5 130.7V114.0M847.4 114.8V101.6M810.6 138.7V113.6M800.3 132.5V122.1M803.4 137.5V121.6M822.9 118.4V111.0M801.9 130.9V124.0M849.0 110.2V103.5M831.6 124.5V116.1M828.4 126.8V113.9M831.3 113.8V104.0M820.9 133.0V118.7M844.3 119.1V113.7M835.6 113.3V99.9M821.5 118.9V109.0M814.2 134.4V125.3M807.2 127.0V118.7M815.8 129.4V122.7M817.7 135.0V120.5M804.0 128.5V121.2M846.2 114.5V105.9M812.9 124.0V116.8M827.0 119.3V114.3M803.3 141.1V128.4M827.6 114.2V107.0M832.3 123.9V109.7M804.0 134.1V125.1M848.8 105.8V94.5M808.2 126.6V112.2M813.1 131.7V121.3M836.8 113.4V106.8M816.8 134.7V119.4M843.8 121.8V106.8M811.9 127.5V117.1M815.7 125.6V112.8M834.6 109.2V99.9M843.0 112.3V102.6M844.2 102.8V88.1M814.4 132.7V123.0M826.5 125.4V114.6M820.5 130.8V106.6M833.8 129.2V113.9M811.4 125.9V117.4M842.0 112.1V103.2M835.7 117.8V102.6M808.7 142.4V125.1M815.7 133.4V115.0M816.8 127.7V111.0M846.5 108.9V93.5M822.8 122.2V114.1M830.8 116.7V102.9M866.1 93.4V76.8M866.7 100.5V76.8M866.7 89.8V72.5M867.2 83.1V65.8M869.5 89.6V65.2M876.5 82.7V71.7M886.5 72.1V58.2M886.2 95.0V65.0M892.3 73.3V51.2M891.5 74.5V58.7M894.1 75.2V59.5M894.8 78.0V60.7M895.8 82.3V66.6M893.3 79.2V63.4M896.5 77.6V63.4M893.0 72.5V59.1M899.0 77.4V58.9M900.7 95.8V57.9M909.9 61.0V49.6M909.5 69.7V51.6M914.1 66.8V50.5M919.3 64.9V46.2M925.4 57.6V43.6M931.6 61.0V43.3M949.0 39.9V25.9M857.5 105.5V95.5M726.5 170.2V144.6M573.5 299.5V268.5" stroke="#000" stroke-width="3.2" fill="none"/>
<path d="M150.7 492.8 153.4 491.3 156.1 489.9 158.8 488.5 161.5 487.0 164.2 485.6 166.9 484.1 169.6 482.7 172.3 481.2 175.0 479.8 177.7 478.4 180.5 476.9 183.2 475.5 185.9 474.0 188.6 472.6 191.3 471.1 194.0 469.7 196.7 468.3 199.4 466.8 202.1 465.4 204.8 463.9 207.5 462.5 210.2 461.0 212.9 459.6 215.6 458.1 218.3 456.7 221.0 455.3 223.7 453.8 226.4 452.4 229.1 450.9 231.8 449.5 234.5 448.0 237.3 446.6 240.0 445.2 242.7 443.7 245.4 442.3 248.1 440.8 250.8 439.4 253.5 437.9 256.2 436.5 258.9 435.0 261.6 433.6 264.3 432.2 267.0 430.7 269.7 429.3 272.4 427.8 275.1 426.4 277.8 424.9 280.5 423.5 283.2 422.0 285.9 420.6 288.6 419.1 291.3 417.7 294.0 416.3 296.8 414.8 299.5 413.4 302.2 411.9 304.9 410.5 307.6 409.0 310.3 407.6 313.0 406.1 315.7 404.7 318.4 403.2 321.1 401.8 323.8 400.3 326.5 398.9 329.2 397.4 331.9 396.0 334.6 394.6 337.3 393.1 340.0 391.7 342.7 390.2 345.4 388.8 348.1 387.3 350.8 385.9 353.6 384.4 356.3 383.0 359.0 381.5 361.7 380.1 364.4 378.6 367.1 377.2 369.8 375.7 372.5 374.3 375.2 372.8 377.9 371.4 380.6 369.9 383.3 368.5 386.0 367.0 388.7 365.5 391.4 364.1 394.1 362.6 396.8 361.2 399.5 359.7 402.2 358.3 404.9 356.8 407.6 355.4 410.4 353.9 413.1 352.5 415.8 351.0 418.5 349.5 421.2 348.1 423.9 346.6 426.6 345.2 429.3 343.7 432.0 342.3 434.7 340.8 437.4 339.3 440.1 337.9 442.8 336.4 445.5 335.0 448.2 333.5 450.9 332.0 453.6 330.6 456.3 329.1 459.0 327.7 461.7 326.2 464.4 324.7 467.2 323.3 469.9 321.8 472.6 320.3 475.3 318.9 478.0 317.4 480.7 315.9 483.4 314.5 486.1 313.0 488.8 311.5 491.5 310.0 494.2 308.6 496.9 307.1 499.6 305.6 502.3 304.1 505.0 302.7 507.7 301.2 510.4 299.7 513.1 298.2 515.8 296.8 518.5 295.3 521.2 293.8 524.0 292.3 526.7 290.8 529.4 289.4 532.1 287.9 534.8 286.4 537.5 284.9 540.2 283.4 542.9 281.9 545.6 280.4 548.3 278.9 551.0 277.4 553.7 276.0 556.4 274.5 559.1 273.0 561.8 271.5 564.5 270.0 567.2 268.5 569.9 267.0 572.6 265.5 575.3 264.0 578.0 262.4 580.7 260.9 583.5 259.4 586.2 257.9 588.9 256.4 591.6 254.9 594.3 253.4 597.0 251.9 599.7 250.3 602.4 248.8 605.1 247.3 607.8 245.8 610.5 244.2 613.2 242.7 615.9 241.2 618.6 239.6 621.3 238.1 624.0 236.6 626.7 235.0 629.4 233.5 632.1 231.9 634.8 230.4 637.5 228.8 640.3 227.3 643.0 225.7 645.7 224.2 648.4 222.6 651.1 221.0 653.8 219.5 656.5 217.9 659.2 216.3 661.9 214.8 664.6 213.2 667.3 211.6 670.0 210.0 672.7 208.5 675.4 206.9 678.1 205.3 680.8 203.7 683.5 202.1 686.2 200.5 688.9 198.9 691.6 197.3 694.3 195.7 697.1 194.1 699.8 192.4 702.5 190.8 705.2 189.2 707.9 187.6 710.6 185.9 713.3 184.3 716.0 182.7 718.7 181.0 721.4 179.4 724.1 177.7 726.8 176.1 729.5 174.4 732.2 172.8 734.9 171.1 737.6 169.5 740.3 167.8 743.0 166.1 745.7 164.5 748.4 162.8 751.1 161.1 753.9 159.4 756.6 157.7 759.3 156.0 762.0 154.3 764.7 152.7 767.4 151.0 770.1 149.3 772.8 147.5 775.5 145.8 778.2 144.1 780.9 142.4 783.6 140.7 786.3 139.0 789.0 137.3 791.7 135.5 794.4 133.8 797.1 132.1 799.8 130.4 802.5 128.6 805.2 126.9 807.9 125.2 810.7 123.4 813.4 121.7 816.1 120.0 818.8 118.2 821.5 116.5 824.2 114.8 826.9 113.0 829.6 111.3 832.3 109.6 835.0 107.8 837.7 106.1 840.4 104.4 843.1 102.7 845.8 100.9 848.5 99.2 851.2 97.5 853.9 95.7 856.6 92.5 859.3 90.2 862.0 88.8 864.7 87.9 867.4 86.4 870.2 84.9 872.9 83.4 875.6 81.9 878.3 80.4 881.0 78.9 883.7 77.4 886.4 75.9 889.1 74.4 891.8 73.0 894.5 71.6 897.2 70.2 899.9 68.9 902.6 67.5 905.3 66.2 908.0 64.8 910.7 63.5 913.4 62.1 916.1 60.8 918.8 59.5 921.5 58.3 924.2 57.0 927.0 55.8 929.7 54.5 932.4 53.4 935.1 52.4 937.8 51.7 940.5 51.2 943.2 50.7 945.9 50.3 948.6 50.0 951.3 49.7 954.0 49.5 956.7 49.4 959.4 49.3" stroke="#ff0000" stroke-width="4.85" fill="none" stroke-linecap="square" stroke-linejoin="round"/>
<path d="M150.7 485.0 153.4 483.5 156.1 482.1 158.8 480.7 161.5 479.3 164.2 477.9 166.9 476.5 169.6 475.1 172.3 473.7 175.0 472.3 177.7 471.0 180.5 469.6 183.2 468.2 185.9 466.8 188.6 465.5 191.3 464.1 194.0 462.7 196.7 461.4 199.4 460.0 202.1 458.7 204.8 457.3 207.5 456.0 210.2 454.6 212.9 453.3 215.6 452.0 218.3 450.6 221.0 449.3 223.7 448.0 226.4 446.6 229.1 445.3 231.8 444.0 234.5 442.6 237.3 441.3 240.0 440.0 242.7 438.6 245.4 437.3 248.1 436.0 250.8 434.7 253.5 433.4 256.2 432.2 258.9 431.0 261.6 429.7 264.3 428.5 267.0 427.3 269.7 426.0 272.4 424.7 275.1 423.4 277.8 422.0 280.5 420.7 283.2 419.3 285.9 417.9 288.6 416.5 291.3 415.1 294.0 413.7 296.8 412.3 299.5 410.9 302.2 409.5 304.9 408.1 307.6 406.7 310.3 405.3 313.0 403.9 315.7 402.5 318.4 401.0 321.1 399.6 323.8 398.2 326.5 396.8 329.2 395.4 331.9 394.0 334.6 392.5 337.3 391.1 340.0 389.7 342.7 388.3 345.4 386.9 348.1 385.4 350.8 384.0 353.6 382.6 356.3 381.1 359.0 379.7 361.7 378.3 364.4 376.8 367.1 375.4 369.8 374.0 372.5 372.5 375.2 371.1 377.9 369.6 380.6 368.2 383.3 366.7 386.0 365.3 388.7 363.8 391.4 362.4 394.1 360.9 396.8 359.5 399.5 358.0 402.2 356.6 404.9 355.1 407.6 353.6 410.4 352.2 413.1 350.7 415.8 349.3 418.5 347.8 421.2 346.4 423.9 344.9 426.6 343.4 429.3 342.0 432.0 340.5 434.7 339.0 437.4 337.6 440.1 336.1 442.8 334.6 445.5 333.2 448.2 331.7 450.9 330.2 453.6 328.8 456.3 327.3 459.0 325.8 461.7 324.4 464.4 322.9 467.2 321.4 469.9 320.0 472.6 318.5 475.3 317.0 478.0 315.5 480.7 314.1 483.4 312.6 486.1 311.1 488.8 309.6 491.5 308.1 494.2 306.7 496.9 305.2 499.6 303.7 502.3 302.2 505.0 300.7 507.7 299.3 510.4 297.8 513.1 296.3 515.8 294.8 518.5 293.3 521.2 291.8 524.0 290.3 526.7 288.9 529.4 287.4 532.1 285.9 534.8 284.4 537.5 282.9 540.2 281.4 542.9 279.9 545.6 278.4 548.3 276.9 551.0 275.4 553.7 273.9 556.4 272.4 559.1 270.9 561.8 269.4 564.5 267.9 567.2 266.4 569.9 264.9 572.6 263.4 575.3 261.9 578.0 260.4 580.7 258.8 583.5 257.3 586.2 255.8 588.9 254.3 591.6 252.8 594.3 251.3 597.0 249.8 599.7 248.2 602.4 246.7 605.1 245.2 607.8 243.7 610.5 242.1 613.2 240.6 615.9 239.1 618.6 237.5 621.3 236.0 624.0 234.5 626.7 232.9 629.4 231.4 632.1 229.9 634.8 228.3 637.5 226.8 640.3 225.2 643.0 223.7 645.7 222.1 648.4 220.6 651.1 219.0 653.8 217.5 656.5 215.9 659.2 214.3 661.9 212.8 664.6 211.2 667.3 209.6 670.0 208.1 672.7 206.5 675.4 204.9 678.1 203.3 680.8 201.7 683.5 200.2 686.2 198.6 688.9 197.0 691.6 195.4 694.3 193.8 697.1 192.2 699.8 190.6 702.5 189.0 705.2 187.4 707.9 185.8 710.6 184.2 713.3 182.5 716.0 180.9 718.7 179.3 721.4 177.7 724.1 176.0 726.8 174.4 729.5 172.8 732.2 171.1 734.9 169.5 737.6 167.8 740.3 166.2 743.0 164.5 745.7 162.9 748.4 161.2 751.1 159.6 753.9 157.9 756.6 156.2 759.3 154.5 762.0 152.9 764.7 151.2 767.4 149.5 770.1 147.8 772.8 146.1 775.5 144.4 778.2 142.7 780.9 141.0 783.6 139.3 786.3 137.6 789.0 135.9 791.7 134.2 794.4 132.5 797.1 130.8 799.8 129.1 802.5 127.4 805.2 125.7 807.9 124.0 810.7 122.3 813.4 120.5 816.1 118.8 818.8 117.1 821.5 115.4 824.2 113.7 826.9 112.0 829.6 110.3 832.3 108.6 835.0 106.9 837.7 105.1 840.4 103.4 843.1 101.7 845.8 100.0 848.5 98.2 851.2 96.1 853.9 94.1 856.6 92.2 859.3 90.3 862.0 88.5 864.7 86.7 867.4 85.1 870.2 83.5 872.9 81.9 875.6 80.2 878.3 78.6 881.0 76.9 883.7 75.2 886.4 73.5 889.1 71.7 891.8 70.0 894.5 68.3 897.2 66.5 899.9 64.7 902.6 63.0 905.3 61.2 908.0 59.4 910.7 57.6 913.4 55.8 916.1 54.0 918.8 52.2 921.5 50.3 924.2 48.5 927.0 46.7 929.7 44.9 932.4 43.1 935.1 41.2 937.8 39.4 940.5 37.6 943.2 35.8 945.9 34.0 948.6 32.2 951.3 30.4 954.0 28.5 956.7 26.7 959.4 24.9" stroke="#0000ff" stroke-width="4.85" fill="none" stroke-dasharray="4.85 8.00" stroke-linejoin="round"/>
<path d="M388.7 364.1 391.4 362.6 394.1 361.2 396.8 359.7 399.5 358.3 402.2 356.8 404.9 355.4 407.6 353.9 410.4 352.5 413.1 351.0 415.8 349.5 418.5 348.1 421.2 346.6 423.9 345.2 426.6 343.7 429.3 342.3 432.0 340.8 434.7 339.3 437.4 337.9 440.1 336.4 442.8 335.0 445.5 333.5 448.2 332.0 450.9 330.6 453.6 329.1 456.3 327.7 459.0 326.2 461.7 324.7 464.4 323.3 467.2 321.8 469.9 320.3 472.6 318.9 475.3 317.4 478.0 315.9 480.7 314.5 483.4 313.0 486.1 311.5 488.8 310.1 491.5 308.6 494.2 307.1 496.9 305.7 499.6 304.2 502.3 302.7 505.0 301.2 507.7 299.8 510.4 298.3 513.1 296.8 515.8 295.3 518.5 293.9 521.2 292.4 524.0 290.9 526.7 289.4 529.4 287.9 532.1 286.5 534.8 285.0 537.5 283.5 540.2 282.0 542.9 280.5 545.6 279.0 548.3 277.5 551.0 276.0 553.7 274.6 556.4 273.1 559.1 271.6 561.8 270.1 564.5 268.6 567.2 267.1 569.9 265.6 572.6 264.1 575.3 262.6 578.0 261.1 580.7 259.6 583.5 258.1 586.2 256.5 588.9 255.0 591.6 253.5 594.3 252.0 597.0 250.5 599.7 249.0 602.4 247.5 605.1 245.9 607.8 244.4 610.5 242.9 613.2 241.4 615.9 239.8 618.6 238.3 621.3 236.8 624.0 235.2 626.7 233.7 629.4 232.2 632.1 230.6 634.8 229.1 637.5 227.5 640.3 226.0 643.0 224.4 645.7 222.9 648.4 221.3 651.1 219.8 653.8 218.2 656.5 216.6 659.2 215.1 661.9 213.5 664.6 211.9 667.3 210.4 670.0 208.8 672.7 207.2 675.4 205.6 678.1 204.0 680.8 202.4 683.5 200.9 686.2 199.3 688.9 197.7 691.6 196.1 694.3 194.5 697.1 192.9 699.8 191.2 702.5 189.6 705.2 188.0 707.9 186.4 710.6 184.8 713.3 183.2 716.0 181.5 718.7 179.9 721.4 178.3 724.1 176.6 726.8 175.0 729.5 173.3 732.2 171.7 734.9 170.0 737.6 168.4 740.3 166.7 743.0 165.0 745.7 163.4 748.4 161.7 751.1 160.0 753.9 158.3 756.6 156.7 759.3 155.0 762.0 153.3 764.7 151.6 767.4 149.9 770.1 148.2 772.8 146.5 775.5 144.8 778.2 143.1 780.9 141.4 783.6 139.6 786.3 137.9 789.0 136.2 791.7 134.5 794.4 132.7 797.1 131.0 799.8 129.3 802.5 127.5 805.2 125.8 807.9 124.1 810.7 122.3 813.4 120.6 816.1 118.8 818.8 117.1 821.5 115.3 824.2 113.5 826.9 111.8 829.6 110.0 832.3 108.3 835.0 106.5 837.7 104.7 840.4 102.9 843.1 101.2 845.8 99.4 848.5 97.6 851.2 95.8 853.9 94.0 856.6 91.0 859.3 88.6 862.0 86.9 864.7 85.9 867.4 85.5 870.2 83.5 872.9 81.2 875.6 78.8 878.3 76.3 881.0 74.3 883.7 72.4 886.4 70.5 889.1 68.5 891.8 66.9 894.5 65.5 897.2 64.1 899.9 63.0 902.6 62.0 905.3 61.1 908.0 60.1 910.7 59.2 913.4 58.2 916.1 57.2 918.8 56.1 921.5 55.1 924.2 53.7 927.0 52.1 929.7 50.5 932.4 48.9 935.1 47.2 937.8 45.0 940.5 42.1 943.2 39.3 945.9 36.5 948.6 33.5 951.3 31.1 954.0 29.1 956.7 28.6 959.4 29.1" stroke="#800080" stroke-width="4.85" fill="none" stroke-dasharray="31.04 7.76 4.85 7.76" stroke-linejoin="round"/>
<path d="M924.24 531.50V1.20" stroke="#008000" stroke-width="3.19" fill="none" stroke-dasharray="11.78 5.10"/>
<path d="M166.2 468.3a4.85 4.85 0 1 0 9.70 0a4.85 4.85 0 1 0 -9.70 0M242.9 424.5a4.85 4.85 0 1 0 9.70 0a4.85 4.85 0 1 0 -9.70 0M258.6 423.5a4.85 4.85 0 1 0 9.70 0a4.85 4.85 0 1 0 -9.70 0M264.4 423.3a4.85 4.85 0 1 0 9.70 0a4.85 4.85 0 1 0 -9.70 0M269.1 431.5a4.85 4.85 0 1 0 9.70 0a4.85 4.85 0 1 0 -9.70 0M269.1 404.0a4.85 4.85 0 1 0 9.70 0a4.85 4.85 0 1 0 -9.70 0M272.4 405.3a4.85 4.85 0 1 0 9.70 0a4.85 4.85 0 1 0 -9.70 0M275.1 400.0a4.85 4.85 0 1 0 9.70 0a4.85 4.85 0 1 0 -9.70 0M278.4 400.0a4.85 4.85 0 1 0 9.70 0a4.85 4.85 0 1 0 -9.70 0M284.4 418.0a4.85 4.85 0 1 0 9.70 0a4.85 4.85 0 1 0 -9.70 0M290.4 408.0a4.85 4.85 0 1 0 9.70 0a4.85 4.85 0 1 0 -9.70 0M297.1 404.7a4.85 4.85 0 1 0 9.70 0a4.85 4.85 0 1 0 -9.70 0M305.1 392.0a4.85 4.85 0 1 0 9.70 0a4.85 4.85 0 1 0 -9.70 0M307.9 398.7a4.85 4.85 0 1 0 9.70 0a4.85 4.85 0 1 0 -9.70 0M308.4 413.3a4.85 4.85 0 1 0 9.70 0a4.85 4.85 0 1 0 -9.70 0M310.4 406.7a4.85 4.85 0 1 0 9.70 0a4.85 4.85 0 1 0 -9.70 0M319.9 400.0a4.85 4.85 0 1 0 9.70 0a4.85 4.85 0 1 0 -9.70 0M323.9 398.7a4.85 4.85 0 1 0 9.70 0a4.85 4.85 0 1 0 -9.70 0M296.9 403.3a4.85 4.85 0 1 0 9.70 0a4.85 4.85 0 1 0 -9.70 0M304.4 391.7a4.85 4.85 0 1 0 9.70 0a4.85 4.85 0 1 0 -9.70 0M307.6 398.3a4.85 4.85 0 1 0 9.70 0a4.85 4.85 0 1 0 -9.70 0M309.4 410.0a4.85 4.85 0 1 0 9.70 0a4.85 4.85 0 1 0 -9.70 0M308.4 416.7a4.85 4.85 0 1 0 9.70 0a4.85 4.85 0 1 0 -9.70 0M320.1 398.3a4.85 4.85 0 1 0 9.70 0a4.85 4.85 0 1 0 -9.70 0M323.1 392.0a4.85 4.85 0 1 0 9.70 0a4.85 4.85 0 1 0 -9.70 0M326.1 400.0a4.85 4.85 0 1 0 9.70 0a4.85 4.85 0 1 0 -9.70 0M329.4 380.0a4.85 4.85 0 1 0 9.70 0a4.85 4.85 0 1 0 -9.70 0M335.9 370.8a4.85 4.85 0 1 0 9.70 0a4.85 4.85 0 1 0 -9.70 0M333.4 411.7a4.85 4.85 0 1 0 9.70 0a4.85 4.85 0 1 0 -9.70 0M333.4 420.0a4.85 4.85 0 1 0 9.70 0a4.85 4.85 0 1 0 -9.70 0M342.6 412.5a4.85 4.85 0 1 0 9.70 0a4.85 4.85 0 1 0 -9.70 0M336.9 390.0a4.85 4.85 0 1 0 9.70 0a4.85 4.85 0 1 0 -9.70 0M340.1 395.0a4.85 4.85 0 1 0 9.70 0a4.85 4.85 0 1 0 -9.70 0M345.1 381.7a4.85 4.85 0 1 0 9.70 0a4.85 4.85 0 1 0 -9.70 0M353.5 371.7a4.85 4.85 0 1 0 9.70 0a4.85 4.85 0 1 0 -9.70 0M363.4 360.8a4.85 4.85 0 1 0 9.70 0a4.85 4.85 0 1 0 -9.70 0M361.9 381.7a4.85 4.85 0 1 0 9.70 0a4.85 4.85 0 1 0 -9.70 0M350.1 385.0a4.85 4.85 0 1 0 9.70 0a4.85 4.85 0 1 0 -9.70 0M357.2 375.0a4.85 4.85 0 1 0 9.70 0a4.85 4.85 0 1 0 -9.70 0M367.1 368.0a4.85 4.85 0 1 0 9.70 0a4.85 4.85 0 1 0 -9.70 0M371.1 365.0a4.85 4.85 0 1 0 9.70 0a4.85 4.85 0 1 0 -9.70 0M313.1 405.0a4.85 4.85 0 1 0 9.70 0a4.85 4.85 0 1 0 -9.70 0M317.1 394.0a4.85 4.85 0 1 0 9.70 0a4.85 4.85 0 1 0 -9.70 0M331.1 388.0a4.85 4.85 0 1 0 9.70 0a4.85 4.85 0 1 0 -9.70 0M339.1 382.0a4.85 4.85 0 1 0 9.70 0a4.85 4.85 0 1 0 -9.70 0M348.1 392.0a4.85 4.85 0 1 0 9.70 0a4.85 4.85 0 1 0 -9.70 0M355.2 380.0a4.85 4.85 0 1 0 9.70 0a4.85 4.85 0 1 0 -9.70 0M365.1 372.0a4.85 4.85 0 1 0 9.70 0a4.85 4.85 0 1 0 -9.70 0M328.1 402.0a4.85 4.85 0 1 0 9.70 0a4.85 4.85 0 1 0 -9.70 0M322.1 410.0a4.85 4.85 0 1 0 9.70 0a4.85 4.85 0 1 0 -9.70 0M359.1 386.0a4.85 4.85 0 1 0 9.70 0a4.85 4.85 0 1 0 -9.70 0M352.2 378.0a4.85 4.85 0 1 0 9.70 0a4.85 4.85 0 1 0 -9.70 0M344.1 398.0a4.85 4.85 0 1 0 9.70 0a4.85 4.85 0 1 0 -9.70 0M372.2 372.4a4.85 4.85 0 1 0 9.70 0a4.85 4.85 0 1 0 -9.70 0M374.3 378.9a4.85 4.85 0 1 0 9.70 0a4.85 4.85 0 1 0 -9.70 0M373.4 369.2a4.85 4.85 0 1 0 9.70 0a4.85 4.85 0 1 0 -9.70 0M369.0 379.4a4.85 4.85 0 1 0 9.70 0a4.85 4.85 0 1 0 -9.70 0M369.6 384.7a4.85 4.85 0 1 0 9.70 0a4.85 4.85 0 1 0 -9.70 0M374.1 374.6a4.85 4.85 0 1 0 9.70 0a4.85 4.85 0 1 0 -9.70 0M367.2 375.4a4.85 4.85 0 1 0 9.70 0a4.85 4.85 0 1 0 -9.70 0M373.7 374.6a4.85 4.85 0 1 0 9.70 0a4.85 4.85 0 1 0 -9.70 0M373.5 377.1a4.85 4.85 0 1 0 9.70 0a4.85 4.85 0 1 0 -9.70 0M370.9 374.7a4.85 4.85 0 1 0 9.70 0a4.85 4.85 0 1 0 -9.70 0M369.6 379.3a4.85 4.85 0 1 0 9.70 0a4.85 4.85 0 1 0 -9.70 0M423.6 340.3a4.85 4.85 0 1 0 9.70 0a4.85 4.85 0 1 0 -9.70 0M389.2 363.5a4.85 4.85 0 1 0 9.70 0a4.85 4.85 0 1 0 -9.70 0M401.0 347.3a4.85 4.85 0 1 0 9.70 0a4.85 4.85 0 1 0 -9.70 0M375.4 372.8a4.85 4.85 0 1 0 9.70 0a4.85 4.85 0 1 0 -9.70 0M433.3 335.6a4.85 4.85 0 1 0 9.70 0a4.85 4.85 0 1 0 -9.70 0M386.0 357.3a4.85 4.85 0 1 0 9.70 0a4.85 4.85 0 1 0 -9.70 0M393.9 347.2a4.85 4.85 0 1 0 9.70 0a4.85 4.85 0 1 0 -9.70 0M436.8 333.1a4.85 4.85 0 1 0 9.70 0a4.85 4.85 0 1 0 -9.70 0M410.8 344.0a4.85 4.85 0 1 0 9.70 0a4.85 4.85 0 1 0 -9.70 0M434.5 331.3a4.85 4.85 0 1 0 9.70 0a4.85 4.85 0 1 0 -9.70 0M419.9 354.2a4.85 4.85 0 1 0 9.70 0a4.85 4.85 0 1 0 -9.70 0M427.1 347.9a4.85 4.85 0 1 0 9.70 0a4.85 4.85 0 1 0 -9.70 0M381.6 361.4a4.85 4.85 0 1 0 9.70 0a4.85 4.85 0 1 0 -9.70 0M413.0 359.4a4.85 4.85 0 1 0 9.70 0a4.85 4.85 0 1 0 -9.70 0M410.7 348.6a4.85 4.85 0 1 0 9.70 0a4.85 4.85 0 1 0 -9.70 0M436.1 337.7a4.85 4.85 0 1 0 9.70 0a4.85 4.85 0 1 0 -9.70 0M400.4 361.6a4.85 4.85 0 1 0 9.70 0a4.85 4.85 0 1 0 -9.70 0M417.0 351.6a4.85 4.85 0 1 0 9.70 0a4.85 4.85 0 1 0 -9.70 0M379.3 365.4a4.85 4.85 0 1 0 9.70 0a4.85 4.85 0 1 0 -9.70 0M402.3 349.9a4.85 4.85 0 1 0 9.70 0a4.85 4.85 0 1 0 -9.70 0M397.8 357.8a4.85 4.85 0 1 0 9.70 0a4.85 4.85 0 1 0 -9.70 0M385.7 368.5a4.85 4.85 0 1 0 9.70 0a4.85 4.85 0 1 0 -9.70 0M432.3 344.2a4.85 4.85 0 1 0 9.70 0a4.85 4.85 0 1 0 -9.70 0M401.7 350.5a4.85 4.85 0 1 0 9.70 0a4.85 4.85 0 1 0 -9.70 0M443.7 340.4a4.85 4.85 0 1 0 9.70 0a4.85 4.85 0 1 0 -9.70 0M416.4 347.1a4.85 4.85 0 1 0 9.70 0a4.85 4.85 0 1 0 -9.70 0M417.5 354.0a4.85 4.85 0 1 0 9.70 0a4.85 4.85 0 1 0 -9.70 0M419.8 341.3a4.85 4.85 0 1 0 9.70 0a4.85 4.85 0 1 0 -9.70 0M422.5 343.8a4.85 4.85 0 1 0 9.70 0a4.85 4.85 0 1 0 -9.70 0M385.7 356.1a4.85 4.85 0 1 0 9.70 0a4.85 4.85 0 1 0 -9.70 0M406.0 363.0a4.85 4.85 0 1 0 9.70 0a4.85 4.85 0 1 0 -9.70 0M391.9 369.4a4.85 4.85 0 1 0 9.70 0a4.85 4.85 0 1 0 -9.70 0M403.3 354.8a4.85 4.85 0 1 0 9.70 0a4.85 4.85 0 1 0 -9.70 0M381.9 366.1a4.85 4.85 0 1 0 9.70 0a4.85 4.85 0 1 0 -9.70 0M442.9 338.6a4.85 4.85 0 1 0 9.70 0a4.85 4.85 0 1 0 -9.70 0M390.2 358.3a4.85 4.85 0 1 0 9.70 0a4.85 4.85 0 1 0 -9.70 0M422.2 344.7a4.85 4.85 0 1 0 9.70 0a4.85 4.85 0 1 0 -9.70 0M396.2 349.9a4.85 4.85 0 1 0 9.70 0a4.85 4.85 0 1 0 -9.70 0M436.3 336.7a4.85 4.85 0 1 0 9.70 0a4.85 4.85 0 1 0 -9.70 0M421.5 341.9a4.85 4.85 0 1 0 9.70 0a4.85 4.85 0 1 0 -9.70 0M384.4 357.6a4.85 4.85 0 1 0 9.70 0a4.85 4.85 0 1 0 -9.70 0M434.3 339.7a4.85 4.85 0 1 0 9.70 0a4.85 4.85 0 1 0 -9.70 0M441.3 341.5a4.85 4.85 0 1 0 9.70 0a4.85 4.85 0 1 0 -9.70 0M438.4 329.1a4.85 4.85 0 1 0 9.70 0a4.85 4.85 0 1 0 -9.70 0M415.0 343.0a4.85 4.85 0 1 0 9.70 0a4.85 4.85 0 1 0 -9.70 0M385.3 379.4a4.85 4.85 0 1 0 9.70 0a4.85 4.85 0 1 0 -9.70 0M388.6 361.0a4.85 4.85 0 1 0 9.70 0a4.85 4.85 0 1 0 -9.70 0M440.1 341.0a4.85 4.85 0 1 0 9.70 0a4.85 4.85 0 1 0 -9.70 0M413.8 348.6a4.85 4.85 0 1 0 9.70 0a4.85 4.85 0 1 0 -9.70 0M387.8 359.3a4.85 4.85 0 1 0 9.70 0a4.85 4.85 0 1 0 -9.70 0M437.0 329.6a4.85 4.85 0 1 0 9.70 0a4.85 4.85 0 1 0 -9.70 0M420.1 347.3a4.85 4.85 0 1 0 9.70 0a4.85 4.85 0 1 0 -9.70 0M415.0 338.7a4.85 4.85 0 1 0 9.70 0a4.85 4.85 0 1 0 -9.70 0M401.5 347.3a4.85 4.85 0 1 0 9.70 0a4.85 4.85 0 1 0 -9.70 0M403.9 350.9a4.85 4.85 0 1 0 9.70 0a4.85 4.85 0 1 0 -9.70 0M391.9 359.3a4.85 4.85 0 1 0 9.70 0a4.85 4.85 0 1 0 -9.70 0M377.8 369.5a4.85 4.85 0 1 0 9.70 0a4.85 4.85 0 1 0 -9.70 0M436.5 334.9a4.85 4.85 0 1 0 9.70 0a4.85 4.85 0 1 0 -9.70 0M407.9 353.2a4.85 4.85 0 1 0 9.70 0a4.85 4.85 0 1 0 -9.70 0M413.5 339.1a4.85 4.85 0 1 0 9.70 0a4.85 4.85 0 1 0 -9.70 0M397.7 353.6a4.85 4.85 0 1 0 9.70 0a4.85 4.85 0 1 0 -9.70 0M427.7 348.1a4.85 4.85 0 1 0 9.70 0a4.85 4.85 0 1 0 -9.70 0M376.9 365.1a4.85 4.85 0 1 0 9.70 0a4.85 4.85 0 1 0 -9.70 0M401.2 353.9a4.85 4.85 0 1 0 9.70 0a4.85 4.85 0 1 0 -9.70 0M377.3 369.6a4.85 4.85 0 1 0 9.70 0a4.85 4.85 0 1 0 -9.70 0M383.8 366.2a4.85 4.85 0 1 0 9.70 0a4.85 4.85 0 1 0 -9.70 0M442.9 329.4a4.85 4.85 0 1 0 9.70 0a4.85 4.85 0 1 0 -9.70 0M421.2 341.7a4.85 4.85 0 1 0 9.70 0a4.85 4.85 0 1 0 -9.70 0M405.1 352.8a4.85 4.85 0 1 0 9.70 0a4.85 4.85 0 1 0 -9.70 0M411.8 347.4a4.85 4.85 0 1 0 9.70 0a4.85 4.85 0 1 0 -9.70 0M436.2 342.9a4.85 4.85 0 1 0 9.70 0a4.85 4.85 0 1 0 -9.70 0M399.2 341.8a4.85 4.85 0 1 0 9.70 0a4.85 4.85 0 1 0 -9.70 0M416.5 347.7a4.85 4.85 0 1 0 9.70 0a4.85 4.85 0 1 0 -9.70 0M423.0 342.4a4.85 4.85 0 1 0 9.70 0a4.85 4.85 0 1 0 -9.70 0M400.0 359.4a4.85 4.85 0 1 0 9.70 0a4.85 4.85 0 1 0 -9.70 0M411.5 353.5a4.85 4.85 0 1 0 9.70 0a4.85 4.85 0 1 0 -9.70 0M428.7 334.1a4.85 4.85 0 1 0 9.70 0a4.85 4.85 0 1 0 -9.70 0M438.8 333.5a4.85 4.85 0 1 0 9.70 0a4.85 4.85 0 1 0 -9.70 0M385.7 364.3a4.85 4.85 0 1 0 9.70 0a4.85 4.85 0 1 0 -9.70 0M440.5 342.1a4.85 4.85 0 1 0 9.70 0a4.85 4.85 0 1 0 -9.70 0M375.5 362.4a4.85 4.85 0 1 0 9.70 0a4.85 4.85 0 1 0 -9.70 0M427.9 347.2a4.85 4.85 0 1 0 9.70 0a4.85 4.85 0 1 0 -9.70 0M431.9 343.1a4.85 4.85 0 1 0 9.70 0a4.85 4.85 0 1 0 -9.70 0M384.7 365.2a4.85 4.85 0 1 0 9.70 0a4.85 4.85 0 1 0 -9.70 0M404.5 349.7a4.85 4.85 0 1 0 9.70 0a4.85 4.85 0 1 0 -9.70 0M432.2 340.5a4.85 4.85 0 1 0 9.70 0a4.85 4.85 0 1 0 -9.70 0M376.1 371.8a4.85 4.85 0 1 0 9.70 0a4.85 4.85 0 1 0 -9.70 0M419.1 335.6a4.85 4.85 0 1 0 9.70 0a4.85 4.85 0 1 0 -9.70 0M430.7 340.9a4.85 4.85 0 1 0 9.70 0a4.85 4.85 0 1 0 -9.70 0M411.1 346.6a4.85 4.85 0 1 0 9.70 0a4.85 4.85 0 1 0 -9.70 0M426.0 350.4a4.85 4.85 0 1 0 9.70 0a4.85 4.85 0 1 0 -9.70 0M391.0 354.4a4.85 4.85 0 1 0 9.70 0a4.85 4.85 0 1 0 -9.70 0M389.0 370.5a4.85 4.85 0 1 0 9.70 0a4.85 4.85 0 1 0 -9.70 0M400.6 356.7a4.85 4.85 0 1 0 9.70 0a4.85 4.85 0 1 0 -9.70 0M387.7 347.8a4.85 4.85 0 1 0 9.70 0a4.85 4.85 0 1 0 -9.70 0M399.4 357.8a4.85 4.85 0 1 0 9.70 0a4.85 4.85 0 1 0 -9.70 0M441.5 335.0a4.85 4.85 0 1 0 9.70 0a4.85 4.85 0 1 0 -9.70 0M415.3 353.3a4.85 4.85 0 1 0 9.70 0a4.85 4.85 0 1 0 -9.70 0M399.0 360.1a4.85 4.85 0 1 0 9.70 0a4.85 4.85 0 1 0 -9.70 0M394.2 349.6a4.85 4.85 0 1 0 9.70 0a4.85 4.85 0 1 0 -9.70 0M441.8 336.9a4.85 4.85 0 1 0 9.70 0a4.85 4.85 0 1 0 -9.70 0M406.3 351.4a4.85 4.85 0 1 0 9.70 0a4.85 4.85 0 1 0 -9.70 0M443.8 335.0a4.85 4.85 0 1 0 9.70 0a4.85 4.85 0 1 0 -9.70 0M411.2 356.6a4.85 4.85 0 1 0 9.70 0a4.85 4.85 0 1 0 -9.70 0M411.6 349.6a4.85 4.85 0 1 0 9.70 0a4.85 4.85 0 1 0 -9.70 0M437.9 331.8a4.85 4.85 0 1 0 9.70 0a4.85 4.85 0 1 0 -9.70 0M427.1 346.7a4.85 4.85 0 1 0 9.70 0a4.85 4.85 0 1 0 -9.70 0M415.8 344.8a4.85 4.85 0 1 0 9.70 0a4.85 4.85 0 1 0 -9.70 0M405.0 345.4a4.85 4.85 0 1 0 9.70 0a4.85 4.85 0 1 0 -9.70 0M436.6 343.8a4.85 4.85 0 1 0 9.70 0a4.85 4.85 0 1 0 -9.70 0M404.0 347.0a4.85 4.85 0 1 0 9.70 0a4.85 4.85 0 1 0 -9.70 0M439.7 345.3a4.85 4.85 0 1 0 9.70 0a4.85 4.85 0 1 0 -9.70 0M380.0 364.3a4.85 4.85 0 1 0 9.70 0a4.85 4.85 0 1 0 -9.70 0M405.2 353.2a4.85 4.85 0 1 0 9.70 0a4.85 4.85 0 1 0 -9.70 0M411.5 354.7a4.85 4.85 0 1 0 9.70 0a4.85 4.85 0 1 0 -9.70 0M441.7 335.4a4.85 4.85 0 1 0 9.70 0a4.85 4.85 0 1 0 -9.70 0M392.7 360.9a4.85 4.85 0 1 0 9.70 0a4.85 4.85 0 1 0 -9.70 0M431.6 349.3a4.85 4.85 0 1 0 9.70 0a4.85 4.85 0 1 0 -9.70 0M422.5 339.1a4.85 4.85 0 1 0 9.70 0a4.85 4.85 0 1 0 -9.70 0M425.3 337.6a4.85 4.85 0 1 0 9.70 0a4.85 4.85 0 1 0 -9.70 0M419.2 351.1a4.85 4.85 0 1 0 9.70 0a4.85 4.85 0 1 0 -9.70 0M443.2 336.0a4.85 4.85 0 1 0 9.70 0a4.85 4.85 0 1 0 -9.70 0M398.4 356.8a4.85 4.85 0 1 0 9.70 0a4.85 4.85 0 1 0 -9.70 0M403.0 353.6a4.85 4.85 0 1 0 9.70 0a4.85 4.85 0 1 0 -9.70 0M389.4 367.7a4.85 4.85 0 1 0 9.70 0a4.85 4.85 0 1 0 -9.70 0M378.7 363.5a4.85 4.85 0 1 0 9.70 0a4.85 4.85 0 1 0 -9.70 0M390.1 359.4a4.85 4.85 0 1 0 9.70 0a4.85 4.85 0 1 0 -9.70 0M439.2 341.0a4.85 4.85 0 1 0 9.70 0a4.85 4.85 0 1 0 -9.70 0M434.0 341.9a4.85 4.85 0 1 0 9.70 0a4.85 4.85 0 1 0 -9.70 0M383.0 370.2a4.85 4.85 0 1 0 9.70 0a4.85 4.85 0 1 0 -9.70 0M417.4 347.5a4.85 4.85 0 1 0 9.70 0a4.85 4.85 0 1 0 -9.70 0M408.7 346.4a4.85 4.85 0 1 0 9.70 0a4.85 4.85 0 1 0 -9.70 0M416.8 343.3a4.85 4.85 0 1 0 9.70 0a4.85 4.85 0 1 0 -9.70 0M421.3 350.5a4.85 4.85 0 1 0 9.70 0a4.85 4.85 0 1 0 -9.70 0M396.6 354.1a4.85 4.85 0 1 0 9.70 0a4.85 4.85 0 1 0 -9.70 0M442.4 338.7a4.85 4.85 0 1 0 9.70 0a4.85 4.85 0 1 0 -9.70 0M407.8 359.6a4.85 4.85 0 1 0 9.70 0a4.85 4.85 0 1 0 -9.70 0M419.1 351.3a4.85 4.85 0 1 0 9.70 0a4.85 4.85 0 1 0 -9.70 0M419.6 345.7a4.85 4.85 0 1 0 9.70 0a4.85 4.85 0 1 0 -9.70 0M388.0 370.3a4.85 4.85 0 1 0 9.70 0a4.85 4.85 0 1 0 -9.70 0M379.5 373.1a4.85 4.85 0 1 0 9.70 0a4.85 4.85 0 1 0 -9.70 0M404.0 349.4a4.85 4.85 0 1 0 9.70 0a4.85 4.85 0 1 0 -9.70 0M428.6 345.8a4.85 4.85 0 1 0 9.70 0a4.85 4.85 0 1 0 -9.70 0M432.2 344.1a4.85 4.85 0 1 0 9.70 0a4.85 4.85 0 1 0 -9.70 0M426.2 348.0a4.85 4.85 0 1 0 9.70 0a4.85 4.85 0 1 0 -9.70 0M383.1 376.7a4.85 4.85 0 1 0 9.70 0a4.85 4.85 0 1 0 -9.70 0M439.1 337.8a4.85 4.85 0 1 0 9.70 0a4.85 4.85 0 1 0 -9.70 0M431.3 341.0a4.85 4.85 0 1 0 9.70 0a4.85 4.85 0 1 0 -9.70 0M436.6 337.4a4.85 4.85 0 1 0 9.70 0a4.85 4.85 0 1 0 -9.70 0M411.8 354.1a4.85 4.85 0 1 0 9.70 0a4.85 4.85 0 1 0 -9.70 0M439.2 341.2a4.85 4.85 0 1 0 9.70 0a4.85 4.85 0 1 0 -9.70 0M378.4 364.6a4.85 4.85 0 1 0 9.70 0a4.85 4.85 0 1 0 -9.70 0M377.3 376.5a4.85 4.85 0 1 0 9.70 0a4.85 4.85 0 1 0 -9.70 0M376.6 373.2a4.85 4.85 0 1 0 9.70 0a4.85 4.85 0 1 0 -9.70 0M392.8 373.6a4.85 4.85 0 1 0 9.70 0a4.85 4.85 0 1 0 -9.70 0M392.5 363.6a4.85 4.85 0 1 0 9.70 0a4.85 4.85 0 1 0 -9.70 0M522.9 289.3a4.85 4.85 0 1 0 9.70 0a4.85 4.85 0 1 0 -9.70 0M529.9 281.7a4.85 4.85 0 1 0 9.70 0a4.85 4.85 0 1 0 -9.70 0M451.4 318.0a4.85 4.85 0 1 0 9.70 0a4.85 4.85 0 1 0 -9.70 0M525.8 285.3a4.85 4.85 0 1 0 9.70 0a4.85 4.85 0 1 0 -9.70 0M535.1 276.7a4.85 4.85 0 1 0 9.70 0a4.85 4.85 0 1 0 -9.70 0M494.1 314.6a4.85 4.85 0 1 0 9.70 0a4.85 4.85 0 1 0 -9.70 0M452.0 325.6a4.85 4.85 0 1 0 9.70 0a4.85 4.85 0 1 0 -9.70 0M520.3 288.5a4.85 4.85 0 1 0 9.70 0a4.85 4.85 0 1 0 -9.70 0M472.2 315.7a4.85 4.85 0 1 0 9.70 0a4.85 4.85 0 1 0 -9.70 0M515.9 294.4a4.85 4.85 0 1 0 9.70 0a4.85 4.85 0 1 0 -9.70 0M486.6 320.2a4.85 4.85 0 1 0 9.70 0a4.85 4.85 0 1 0 -9.70 0M515.2 298.9a4.85 4.85 0 1 0 9.70 0a4.85 4.85 0 1 0 -9.70 0M473.5 318.2a4.85 4.85 0 1 0 9.70 0a4.85 4.85 0 1 0 -9.70 0M497.6 302.3a4.85 4.85 0 1 0 9.70 0a4.85 4.85 0 1 0 -9.70 0M502.9 305.2a4.85 4.85 0 1 0 9.70 0a4.85 4.85 0 1 0 -9.70 0M514.6 294.9a4.85 4.85 0 1 0 9.70 0a4.85 4.85 0 1 0 -9.70 0M467.5 315.6a4.85 4.85 0 1 0 9.70 0a4.85 4.85 0 1 0 -9.70 0M551.0 273.0a4.85 4.85 0 1 0 9.70 0a4.85 4.85 0 1 0 -9.70 0M477.0 315.7a4.85 4.85 0 1 0 9.70 0a4.85 4.85 0 1 0 -9.70 0M478.8 309.4a4.85 4.85 0 1 0 9.70 0a4.85 4.85 0 1 0 -9.70 0M473.3 318.4a4.85 4.85 0 1 0 9.70 0a4.85 4.85 0 1 0 -9.70 0M452.6 328.1a4.85 4.85 0 1 0 9.70 0a4.85 4.85 0 1 0 -9.70 0M491.7 302.5a4.85 4.85 0 1 0 9.70 0a4.85 4.85 0 1 0 -9.70 0M530.1 284.8a4.85 4.85 0 1 0 9.70 0a4.85 4.85 0 1 0 -9.70 0M523.2 288.5a4.85 4.85 0 1 0 9.70 0a4.85 4.85 0 1 0 -9.70 0M466.7 322.9a4.85 4.85 0 1 0 9.70 0a4.85 4.85 0 1 0 -9.70 0M460.2 322.7a4.85 4.85 0 1 0 9.70 0a4.85 4.85 0 1 0 -9.70 0M480.5 308.9a4.85 4.85 0 1 0 9.70 0a4.85 4.85 0 1 0 -9.70 0M529.7 288.6a4.85 4.85 0 1 0 9.70 0a4.85 4.85 0 1 0 -9.70 0M498.8 303.0a4.85 4.85 0 1 0 9.70 0a4.85 4.85 0 1 0 -9.70 0M546.7 280.5a4.85 4.85 0 1 0 9.70 0a4.85 4.85 0 1 0 -9.70 0M517.4 294.2a4.85 4.85 0 1 0 9.70 0a4.85 4.85 0 1 0 -9.70 0M513.4 293.7a4.85 4.85 0 1 0 9.70 0a4.85 4.85 0 1 0 -9.70 0M529.6 290.1a4.85 4.85 0 1 0 9.70 0a4.85 4.85 0 1 0 -9.70 0M527.7 286.7a4.85 4.85 0 1 0 9.70 0a4.85 4.85 0 1 0 -9.70 0M483.0 320.0a4.85 4.85 0 1 0 9.70 0a4.85 4.85 0 1 0 -9.70 0M473.4 326.7a4.85 4.85 0 1 0 9.70 0a4.85 4.85 0 1 0 -9.70 0M493.3 299.2a4.85 4.85 0 1 0 9.70 0a4.85 4.85 0 1 0 -9.70 0M499.0 300.3a4.85 4.85 0 1 0 9.70 0a4.85 4.85 0 1 0 -9.70 0M460.7 322.7a4.85 4.85 0 1 0 9.70 0a4.85 4.85 0 1 0 -9.70 0M493.7 306.3a4.85 4.85 0 1 0 9.70 0a4.85 4.85 0 1 0 -9.70 0M515.5 286.6a4.85 4.85 0 1 0 9.70 0a4.85 4.85 0 1 0 -9.70 0M460.1 323.9a4.85 4.85 0 1 0 9.70 0a4.85 4.85 0 1 0 -9.70 0M460.3 321.6a4.85 4.85 0 1 0 9.70 0a4.85 4.85 0 1 0 -9.70 0M464.3 318.3a4.85 4.85 0 1 0 9.70 0a4.85 4.85 0 1 0 -9.70 0M476.3 307.5a4.85 4.85 0 1 0 9.70 0a4.85 4.85 0 1 0 -9.70 0M550.9 278.6a4.85 4.85 0 1 0 9.70 0a4.85 4.85 0 1 0 -9.70 0M448.0 332.7a4.85 4.85 0 1 0 9.70 0a4.85 4.85 0 1 0 -9.70 0M465.4 322.9a4.85 4.85 0 1 0 9.70 0a4.85 4.85 0 1 0 -9.70 0M463.3 322.2a4.85 4.85 0 1 0 9.70 0a4.85 4.85 0 1 0 -9.70 0M497.3 299.0a4.85 4.85 0 1 0 9.70 0a4.85 4.85 0 1 0 -9.70 0M446.8 336.0a4.85 4.85 0 1 0 9.70 0a4.85 4.85 0 1 0 -9.70 0M495.5 300.6a4.85 4.85 0 1 0 9.70 0a4.85 4.85 0 1 0 -9.70 0M463.1 326.2a4.85 4.85 0 1 0 9.70 0a4.85 4.85 0 1 0 -9.70 0M474.8 312.4a4.85 4.85 0 1 0 9.70 0a4.85 4.85 0 1 0 -9.70 0M532.3 290.5a4.85 4.85 0 1 0 9.70 0a4.85 4.85 0 1 0 -9.70 0M465.4 324.9a4.85 4.85 0 1 0 9.70 0a4.85 4.85 0 1 0 -9.70 0M513.0 292.3a4.85 4.85 0 1 0 9.70 0a4.85 4.85 0 1 0 -9.70 0M489.8 306.0a4.85 4.85 0 1 0 9.70 0a4.85 4.85 0 1 0 -9.70 0M491.1 302.2a4.85 4.85 0 1 0 9.70 0a4.85 4.85 0 1 0 -9.70 0M535.0 280.9a4.85 4.85 0 1 0 9.70 0a4.85 4.85 0 1 0 -9.70 0M462.9 326.6a4.85 4.85 0 1 0 9.70 0a4.85 4.85 0 1 0 -9.70 0M546.8 279.7a4.85 4.85 0 1 0 9.70 0a4.85 4.85 0 1 0 -9.70 0M543.4 274.6a4.85 4.85 0 1 0 9.70 0a4.85 4.85 0 1 0 -9.70 0M518.7 297.3a4.85 4.85 0 1 0 9.70 0a4.85 4.85 0 1 0 -9.70 0M450.6 330.7a4.85 4.85 0 1 0 9.70 0a4.85 4.85 0 1 0 -9.70 0M518.1 291.7a4.85 4.85 0 1 0 9.70 0a4.85 4.85 0 1 0 -9.70 0M511.2 291.6a4.85 4.85 0 1 0 9.70 0a4.85 4.85 0 1 0 -9.70 0M530.1 286.8a4.85 4.85 0 1 0 9.70 0a4.85 4.85 0 1 0 -9.70 0M468.7 319.2a4.85 4.85 0 1 0 9.70 0a4.85 4.85 0 1 0 -9.70 0M550.0 281.6a4.85 4.85 0 1 0 9.70 0a4.85 4.85 0 1 0 -9.70 0M542.6 277.8a4.85 4.85 0 1 0 9.70 0a4.85 4.85 0 1 0 -9.70 0M457.7 329.1a4.85 4.85 0 1 0 9.70 0a4.85 4.85 0 1 0 -9.70 0M479.8 303.1a4.85 4.85 0 1 0 9.70 0a4.85 4.85 0 1 0 -9.70 0M448.7 329.1a4.85 4.85 0 1 0 9.70 0a4.85 4.85 0 1 0 -9.70 0M536.6 280.6a4.85 4.85 0 1 0 9.70 0a4.85 4.85 0 1 0 -9.70 0M545.8 280.6a4.85 4.85 0 1 0 9.70 0a4.85 4.85 0 1 0 -9.70 0M554.0 276.9a4.85 4.85 0 1 0 9.70 0a4.85 4.85 0 1 0 -9.70 0M512.5 292.7a4.85 4.85 0 1 0 9.70 0a4.85 4.85 0 1 0 -9.70 0M518.4 294.6a4.85 4.85 0 1 0 9.70 0a4.85 4.85 0 1 0 -9.70 0M519.8 292.1a4.85 4.85 0 1 0 9.70 0a4.85 4.85 0 1 0 -9.70 0M507.9 299.2a4.85 4.85 0 1 0 9.70 0a4.85 4.85 0 1 0 -9.70 0M549.9 276.3a4.85 4.85 0 1 0 9.70 0a4.85 4.85 0 1 0 -9.70 0M512.0 294.6a4.85 4.85 0 1 0 9.70 0a4.85 4.85 0 1 0 -9.70 0M482.1 313.0a4.85 4.85 0 1 0 9.70 0a4.85 4.85 0 1 0 -9.70 0M501.6 298.5a4.85 4.85 0 1 0 9.70 0a4.85 4.85 0 1 0 -9.70 0M447.2 324.7a4.85 4.85 0 1 0 9.70 0a4.85 4.85 0 1 0 -9.70 0M524.8 292.4a4.85 4.85 0 1 0 9.70 0a4.85 4.85 0 1 0 -9.70 0M521.5 293.9a4.85 4.85 0 1 0 9.70 0a4.85 4.85 0 1 0 -9.70 0M491.5 310.5a4.85 4.85 0 1 0 9.70 0a4.85 4.85 0 1 0 -9.70 0M538.8 286.2a4.85 4.85 0 1 0 9.70 0a4.85 4.85 0 1 0 -9.70 0M528.3 290.7a4.85 4.85 0 1 0 9.70 0a4.85 4.85 0 1 0 -9.70 0M482.2 312.6a4.85 4.85 0 1 0 9.70 0a4.85 4.85 0 1 0 -9.70 0M453.7 324.8a4.85 4.85 0 1 0 9.70 0a4.85 4.85 0 1 0 -9.70 0M459.7 328.4a4.85 4.85 0 1 0 9.70 0a4.85 4.85 0 1 0 -9.70 0M465.4 320.1a4.85 4.85 0 1 0 9.70 0a4.85 4.85 0 1 0 -9.70 0M478.6 309.5a4.85 4.85 0 1 0 9.70 0a4.85 4.85 0 1 0 -9.70 0M494.4 299.9a4.85 4.85 0 1 0 9.70 0a4.85 4.85 0 1 0 -9.70 0M547.2 277.6a4.85 4.85 0 1 0 9.70 0a4.85 4.85 0 1 0 -9.70 0M475.8 318.8a4.85 4.85 0 1 0 9.70 0a4.85 4.85 0 1 0 -9.70 0M544.0 280.3a4.85 4.85 0 1 0 9.70 0a4.85 4.85 0 1 0 -9.70 0M520.0 292.1a4.85 4.85 0 1 0 9.70 0a4.85 4.85 0 1 0 -9.70 0M539.0 272.9a4.85 4.85 0 1 0 9.70 0a4.85 4.85 0 1 0 -9.70 0M489.5 308.9a4.85 4.85 0 1 0 9.70 0a4.85 4.85 0 1 0 -9.70 0M445.5 330.1a4.85 4.85 0 1 0 9.70 0a4.85 4.85 0 1 0 -9.70 0M531.7 288.1a4.85 4.85 0 1 0 9.70 0a4.85 4.85 0 1 0 -9.70 0M472.2 325.6a4.85 4.85 0 1 0 9.70 0a4.85 4.85 0 1 0 -9.70 0M460.8 321.6a4.85 4.85 0 1 0 9.70 0a4.85 4.85 0 1 0 -9.70 0M533.1 289.8a4.85 4.85 0 1 0 9.70 0a4.85 4.85 0 1 0 -9.70 0M520.6 291.3a4.85 4.85 0 1 0 9.70 0a4.85 4.85 0 1 0 -9.70 0M468.5 322.7a4.85 4.85 0 1 0 9.70 0a4.85 4.85 0 1 0 -9.70 0M474.6 325.0a4.85 4.85 0 1 0 9.70 0a4.85 4.85 0 1 0 -9.70 0M548.5 271.8a4.85 4.85 0 1 0 9.70 0a4.85 4.85 0 1 0 -9.70 0M474.7 318.1a4.85 4.85 0 1 0 9.70 0a4.85 4.85 0 1 0 -9.70 0M522.4 292.1a4.85 4.85 0 1 0 9.70 0a4.85 4.85 0 1 0 -9.70 0M459.4 325.2a4.85 4.85 0 1 0 9.70 0a4.85 4.85 0 1 0 -9.70 0M534.8 285.0a4.85 4.85 0 1 0 9.70 0a4.85 4.85 0 1 0 -9.70 0M458.1 326.3a4.85 4.85 0 1 0 9.70 0a4.85 4.85 0 1 0 -9.70 0M501.9 304.1a4.85 4.85 0 1 0 9.70 0a4.85 4.85 0 1 0 -9.70 0M449.0 327.3a4.85 4.85 0 1 0 9.70 0a4.85 4.85 0 1 0 -9.70 0M505.7 301.8a4.85 4.85 0 1 0 9.70 0a4.85 4.85 0 1 0 -9.70 0M538.3 278.2a4.85 4.85 0 1 0 9.70 0a4.85 4.85 0 1 0 -9.70 0M454.4 320.8a4.85 4.85 0 1 0 9.70 0a4.85 4.85 0 1 0 -9.70 0M475.3 317.0a4.85 4.85 0 1 0 9.70 0a4.85 4.85 0 1 0 -9.70 0M529.3 293.0a4.85 4.85 0 1 0 9.70 0a4.85 4.85 0 1 0 -9.70 0M512.0 298.4a4.85 4.85 0 1 0 9.70 0a4.85 4.85 0 1 0 -9.70 0M479.6 321.9a4.85 4.85 0 1 0 9.70 0a4.85 4.85 0 1 0 -9.70 0M514.3 295.0a4.85 4.85 0 1 0 9.70 0a4.85 4.85 0 1 0 -9.70 0M495.2 300.9a4.85 4.85 0 1 0 9.70 0a4.85 4.85 0 1 0 -9.70 0M540.0 283.1a4.85 4.85 0 1 0 9.70 0a4.85 4.85 0 1 0 -9.70 0M477.4 313.2a4.85 4.85 0 1 0 9.70 0a4.85 4.85 0 1 0 -9.70 0M528.5 284.9a4.85 4.85 0 1 0 9.70 0a4.85 4.85 0 1 0 -9.70 0M515.1 294.6a4.85 4.85 0 1 0 9.70 0a4.85 4.85 0 1 0 -9.70 0M526.6 292.0a4.85 4.85 0 1 0 9.70 0a4.85 4.85 0 1 0 -9.70 0M486.8 315.3a4.85 4.85 0 1 0 9.70 0a4.85 4.85 0 1 0 -9.70 0M524.9 288.2a4.85 4.85 0 1 0 9.70 0a4.85 4.85 0 1 0 -9.70 0M522.0 287.9a4.85 4.85 0 1 0 9.70 0a4.85 4.85 0 1 0 -9.70 0M487.8 310.9a4.85 4.85 0 1 0 9.70 0a4.85 4.85 0 1 0 -9.70 0M448.1 332.6a4.85 4.85 0 1 0 9.70 0a4.85 4.85 0 1 0 -9.70 0M551.1 274.7a4.85 4.85 0 1 0 9.70 0a4.85 4.85 0 1 0 -9.70 0M523.6 284.6a4.85 4.85 0 1 0 9.70 0a4.85 4.85 0 1 0 -9.70 0M467.7 313.9a4.85 4.85 0 1 0 9.70 0a4.85 4.85 0 1 0 -9.70 0M525.5 295.4a4.85 4.85 0 1 0 9.70 0a4.85 4.85 0 1 0 -9.70 0M475.8 314.4a4.85 4.85 0 1 0 9.70 0a4.85 4.85 0 1 0 -9.70 0M496.8 300.3a4.85 4.85 0 1 0 9.70 0a4.85 4.85 0 1 0 -9.70 0M539.7 286.4a4.85 4.85 0 1 0 9.70 0a4.85 4.85 0 1 0 -9.70 0M494.4 302.7a4.85 4.85 0 1 0 9.70 0a4.85 4.85 0 1 0 -9.70 0M476.8 311.0a4.85 4.85 0 1 0 9.70 0a4.85 4.85 0 1 0 -9.70 0M478.8 312.7a4.85 4.85 0 1 0 9.70 0a4.85 4.85 0 1 0 -9.70 0M453.6 331.3a4.85 4.85 0 1 0 9.70 0a4.85 4.85 0 1 0 -9.70 0M469.3 324.1a4.85 4.85 0 1 0 9.70 0a4.85 4.85 0 1 0 -9.70 0M475.0 310.8a4.85 4.85 0 1 0 9.70 0a4.85 4.85 0 1 0 -9.70 0M464.2 327.7a4.85 4.85 0 1 0 9.70 0a4.85 4.85 0 1 0 -9.70 0M452.1 331.0a4.85 4.85 0 1 0 9.70 0a4.85 4.85 0 1 0 -9.70 0M496.4 303.6a4.85 4.85 0 1 0 9.70 0a4.85 4.85 0 1 0 -9.70 0M468.7 323.1a4.85 4.85 0 1 0 9.70 0a4.85 4.85 0 1 0 -9.70 0M526.4 290.5a4.85 4.85 0 1 0 9.70 0a4.85 4.85 0 1 0 -9.70 0M546.6 278.6a4.85 4.85 0 1 0 9.70 0a4.85 4.85 0 1 0 -9.70 0M475.2 319.2a4.85 4.85 0 1 0 9.70 0a4.85 4.85 0 1 0 -9.70 0M508.1 298.7a4.85 4.85 0 1 0 9.70 0a4.85 4.85 0 1 0 -9.70 0M500.9 305.3a4.85 4.85 0 1 0 9.70 0a4.85 4.85 0 1 0 -9.70 0M453.4 328.4a4.85 4.85 0 1 0 9.70 0a4.85 4.85 0 1 0 -9.70 0M458.9 321.7a4.85 4.85 0 1 0 9.70 0a4.85 4.85 0 1 0 -9.70 0M542.5 275.9a4.85 4.85 0 1 0 9.70 0a4.85 4.85 0 1 0 -9.70 0M497.3 306.8a4.85 4.85 0 1 0 9.70 0a4.85 4.85 0 1 0 -9.70 0M533.7 283.0a4.85 4.85 0 1 0 9.70 0a4.85 4.85 0 1 0 -9.70 0M452.5 321.7a4.85 4.85 0 1 0 9.70 0a4.85 4.85 0 1 0 -9.70 0M510.6 292.3a4.85 4.85 0 1 0 9.70 0a4.85 4.85 0 1 0 -9.70 0M540.3 281.5a4.85 4.85 0 1 0 9.70 0a4.85 4.85 0 1 0 -9.70 0M540.5 287.1a4.85 4.85 0 1 0 9.70 0a4.85 4.85 0 1 0 -9.70 0M445.8 324.2a4.85 4.85 0 1 0 9.70 0a4.85 4.85 0 1 0 -9.70 0M502.5 295.8a4.85 4.85 0 1 0 9.70 0a4.85 4.85 0 1 0 -9.70 0M485.7 302.6a4.85 4.85 0 1 0 9.70 0a4.85 4.85 0 1 0 -9.70 0M528.8 287.8a4.85 4.85 0 1 0 9.70 0a4.85 4.85 0 1 0 -9.70 0M453.2 327.8a4.85 4.85 0 1 0 9.70 0a4.85 4.85 0 1 0 -9.70 0M474.3 319.2a4.85 4.85 0 1 0 9.70 0a4.85 4.85 0 1 0 -9.70 0M534.5 278.0a4.85 4.85 0 1 0 9.70 0a4.85 4.85 0 1 0 -9.70 0M496.8 303.2a4.85 4.85 0 1 0 9.70 0a4.85 4.85 0 1 0 -9.70 0M495.0 304.5a4.85 4.85 0 1 0 9.70 0a4.85 4.85 0 1 0 -9.70 0M551.7 277.3a4.85 4.85 0 1 0 9.70 0a4.85 4.85 0 1 0 -9.70 0M480.3 320.7a4.85 4.85 0 1 0 9.70 0a4.85 4.85 0 1 0 -9.70 0M449.7 333.0a4.85 4.85 0 1 0 9.70 0a4.85 4.85 0 1 0 -9.70 0M488.3 308.2a4.85 4.85 0 1 0 9.70 0a4.85 4.85 0 1 0 -9.70 0M462.0 327.1a4.85 4.85 0 1 0 9.70 0a4.85 4.85 0 1 0 -9.70 0M454.2 320.1a4.85 4.85 0 1 0 9.70 0a4.85 4.85 0 1 0 -9.70 0M507.6 297.4a4.85 4.85 0 1 0 9.70 0a4.85 4.85 0 1 0 -9.70 0M550.0 271.8a4.85 4.85 0 1 0 9.70 0a4.85 4.85 0 1 0 -9.70 0M508.9 297.7a4.85 4.85 0 1 0 9.70 0a4.85 4.85 0 1 0 -9.70 0M516.3 300.8a4.85 4.85 0 1 0 9.70 0a4.85 4.85 0 1 0 -9.70 0M480.7 300.8a4.85 4.85 0 1 0 9.70 0a4.85 4.85 0 1 0 -9.70 0M508.0 292.8a4.85 4.85 0 1 0 9.70 0a4.85 4.85 0 1 0 -9.70 0M527.9 292.0a4.85 4.85 0 1 0 9.70 0a4.85 4.85 0 1 0 -9.70 0M510.0 302.7a4.85 4.85 0 1 0 9.70 0a4.85 4.85 0 1 0 -9.70 0M533.5 284.1a4.85 4.85 0 1 0 9.70 0a4.85 4.85 0 1 0 -9.70 0M505.7 297.7a4.85 4.85 0 1 0 9.70 0a4.85 4.85 0 1 0 -9.70 0M466.9 324.4a4.85 4.85 0 1 0 9.70 0a4.85 4.85 0 1 0 -9.70 0M509.2 297.4a4.85 4.85 0 1 0 9.70 0a4.85 4.85 0 1 0 -9.70 0M499.2 308.9a4.85 4.85 0 1 0 9.70 0a4.85 4.85 0 1 0 -9.70 0M463.4 325.1a4.85 4.85 0 1 0 9.70 0a4.85 4.85 0 1 0 -9.70 0M513.3 301.3a4.85 4.85 0 1 0 9.70 0a4.85 4.85 0 1 0 -9.70 0M535.0 283.8a4.85 4.85 0 1 0 9.70 0a4.85 4.85 0 1 0 -9.70 0M460.0 314.9a4.85 4.85 0 1 0 9.70 0a4.85 4.85 0 1 0 -9.70 0M505.1 302.9a4.85 4.85 0 1 0 9.70 0a4.85 4.85 0 1 0 -9.70 0M525.9 289.6a4.85 4.85 0 1 0 9.70 0a4.85 4.85 0 1 0 -9.70 0M489.5 300.6a4.85 4.85 0 1 0 9.70 0a4.85 4.85 0 1 0 -9.70 0M474.9 321.8a4.85 4.85 0 1 0 9.70 0a4.85 4.85 0 1 0 -9.70 0M486.1 308.7a4.85 4.85 0 1 0 9.70 0a4.85 4.85 0 1 0 -9.70 0M504.7 306.1a4.85 4.85 0 1 0 9.70 0a4.85 4.85 0 1 0 -9.70 0M520.7 289.1a4.85 4.85 0 1 0 9.70 0a4.85 4.85 0 1 0 -9.70 0M506.7 301.9a4.85 4.85 0 1 0 9.70 0a4.85 4.85 0 1 0 -9.70 0M456.9 323.5a4.85 4.85 0 1 0 9.70 0a4.85 4.85 0 1 0 -9.70 0M535.1 285.9a4.85 4.85 0 1 0 9.70 0a4.85 4.85 0 1 0 -9.70 0M546.8 281.7a4.85 4.85 0 1 0 9.70 0a4.85 4.85 0 1 0 -9.70 0M456.3 327.9a4.85 4.85 0 1 0 9.70 0a4.85 4.85 0 1 0 -9.70 0M472.6 310.3a4.85 4.85 0 1 0 9.70 0a4.85 4.85 0 1 0 -9.70 0M464.3 309.8a4.85 4.85 0 1 0 9.70 0a4.85 4.85 0 1 0 -9.70 0M538.6 278.9a4.85 4.85 0 1 0 9.70 0a4.85 4.85 0 1 0 -9.70 0M545.3 275.8a4.85 4.85 0 1 0 9.70 0a4.85 4.85 0 1 0 -9.70 0M450.0 335.6a4.85 4.85 0 1 0 9.70 0a4.85 4.85 0 1 0 -9.70 0M481.7 315.9a4.85 4.85 0 1 0 9.70 0a4.85 4.85 0 1 0 -9.70 0M466.3 307.7a4.85 4.85 0 1 0 9.70 0a4.85 4.85 0 1 0 -9.70 0M496.8 296.3a4.85 4.85 0 1 0 9.70 0a4.85 4.85 0 1 0 -9.70 0M546.5 273.2a4.85 4.85 0 1 0 9.70 0a4.85 4.85 0 1 0 -9.70 0M452.9 320.8a4.85 4.85 0 1 0 9.70 0a4.85 4.85 0 1 0 -9.70 0M464.0 328.1a4.85 4.85 0 1 0 9.70 0a4.85 4.85 0 1 0 -9.70 0M498.7 313.2a4.85 4.85 0 1 0 9.70 0a4.85 4.85 0 1 0 -9.70 0M502.8 300.7a4.85 4.85 0 1 0 9.70 0a4.85 4.85 0 1 0 -9.70 0M527.2 288.8a4.85 4.85 0 1 0 9.70 0a4.85 4.85 0 1 0 -9.70 0M493.3 297.6a4.85 4.85 0 1 0 9.70 0a4.85 4.85 0 1 0 -9.70 0M460.7 324.4a4.85 4.85 0 1 0 9.70 0a4.85 4.85 0 1 0 -9.70 0M484.0 314.9a4.85 4.85 0 1 0 9.70 0a4.85 4.85 0 1 0 -9.70 0M553.2 272.6a4.85 4.85 0 1 0 9.70 0a4.85 4.85 0 1 0 -9.70 0M527.7 289.0a4.85 4.85 0 1 0 9.70 0a4.85 4.85 0 1 0 -9.70 0M457.9 325.1a4.85 4.85 0 1 0 9.70 0a4.85 4.85 0 1 0 -9.70 0M534.1 288.2a4.85 4.85 0 1 0 9.70 0a4.85 4.85 0 1 0 -9.70 0M479.4 318.1a4.85 4.85 0 1 0 9.70 0a4.85 4.85 0 1 0 -9.70 0M531.1 291.6a4.85 4.85 0 1 0 9.70 0a4.85 4.85 0 1 0 -9.70 0M446.5 320.0a4.85 4.85 0 1 0 9.70 0a4.85 4.85 0 1 0 -9.70 0M541.0 284.9a4.85 4.85 0 1 0 9.70 0a4.85 4.85 0 1 0 -9.70 0M463.0 324.5a4.85 4.85 0 1 0 9.70 0a4.85 4.85 0 1 0 -9.70 0M495.3 303.9a4.85 4.85 0 1 0 9.70 0a4.85 4.85 0 1 0 -9.70 0M517.9 290.3a4.85 4.85 0 1 0 9.70 0a4.85 4.85 0 1 0 -9.70 0M501.0 303.9a4.85 4.85 0 1 0 9.70 0a4.85 4.85 0 1 0 -9.70 0M463.3 324.9a4.85 4.85 0 1 0 9.70 0a4.85 4.85 0 1 0 -9.70 0M460.5 325.0a4.85 4.85 0 1 0 9.70 0a4.85 4.85 0 1 0 -9.70 0M476.4 315.1a4.85 4.85 0 1 0 9.70 0a4.85 4.85 0 1 0 -9.70 0M450.9 336.4a4.85 4.85 0 1 0 9.70 0a4.85 4.85 0 1 0 -9.70 0M469.0 324.1a4.85 4.85 0 1 0 9.70 0a4.85 4.85 0 1 0 -9.70 0M459.5 316.7a4.85 4.85 0 1 0 9.70 0a4.85 4.85 0 1 0 -9.70 0M496.3 306.2a4.85 4.85 0 1 0 9.70 0a4.85 4.85 0 1 0 -9.70 0M484.4 318.1a4.85 4.85 0 1 0 9.70 0a4.85 4.85 0 1 0 -9.70 0M509.7 300.3a4.85 4.85 0 1 0 9.70 0a4.85 4.85 0 1 0 -9.70 0M476.0 303.5a4.85 4.85 0 1 0 9.70 0a4.85 4.85 0 1 0 -9.70 0M448.9 335.6a4.85 4.85 0 1 0 9.70 0a4.85 4.85 0 1 0 -9.70 0M481.6 313.7a4.85 4.85 0 1 0 9.70 0a4.85 4.85 0 1 0 -9.70 0M528.2 294.0a4.85 4.85 0 1 0 9.70 0a4.85 4.85 0 1 0 -9.70 0M473.3 315.1a4.85 4.85 0 1 0 9.70 0a4.85 4.85 0 1 0 -9.70 0M489.7 302.9a4.85 4.85 0 1 0 9.70 0a4.85 4.85 0 1 0 -9.70 0M528.2 277.6a4.85 4.85 0 1 0 9.70 0a4.85 4.85 0 1 0 -9.70 0M489.9 307.0a4.85 4.85 0 1 0 9.70 0a4.85 4.85 0 1 0 -9.70 0M542.7 286.4a4.85 4.85 0 1 0 9.70 0a4.85 4.85 0 1 0 -9.70 0M546.1 283.5a4.85 4.85 0 1 0 9.70 0a4.85 4.85 0 1 0 -9.70 0M479.3 314.3a4.85 4.85 0 1 0 9.70 0a4.85 4.85 0 1 0 -9.70 0M526.1 290.1a4.85 4.85 0 1 0 9.70 0a4.85 4.85 0 1 0 -9.70 0M473.0 319.7a4.85 4.85 0 1 0 9.70 0a4.85 4.85 0 1 0 -9.70 0M460.5 321.2a4.85 4.85 0 1 0 9.70 0a4.85 4.85 0 1 0 -9.70 0M493.3 310.4a4.85 4.85 0 1 0 9.70 0a4.85 4.85 0 1 0 -9.70 0M511.4 296.9a4.85 4.85 0 1 0 9.70 0a4.85 4.85 0 1 0 -9.70 0M548.1 267.6a4.85 4.85 0 1 0 9.70 0a4.85 4.85 0 1 0 -9.70 0M461.2 324.1a4.85 4.85 0 1 0 9.70 0a4.85 4.85 0 1 0 -9.70 0M523.5 293.6a4.85 4.85 0 1 0 9.70 0a4.85 4.85 0 1 0 -9.70 0M497.5 308.5a4.85 4.85 0 1 0 9.70 0a4.85 4.85 0 1 0 -9.70 0M459.6 326.8a4.85 4.85 0 1 0 9.70 0a4.85 4.85 0 1 0 -9.70 0M552.1 278.5a4.85 4.85 0 1 0 9.70 0a4.85 4.85 0 1 0 -9.70 0M521.7 296.1a4.85 4.85 0 1 0 9.70 0a4.85 4.85 0 1 0 -9.70 0M459.3 322.5a4.85 4.85 0 1 0 9.70 0a4.85 4.85 0 1 0 -9.70 0M544.8 276.8a4.85 4.85 0 1 0 9.70 0a4.85 4.85 0 1 0 -9.70 0M456.5 327.7a4.85 4.85 0 1 0 9.70 0a4.85 4.85 0 1 0 -9.70 0M455.3 313.9a4.85 4.85 0 1 0 9.70 0a4.85 4.85 0 1 0 -9.70 0M481.6 307.3a4.85 4.85 0 1 0 9.70 0a4.85 4.85 0 1 0 -9.70 0M548.3 276.8a4.85 4.85 0 1 0 9.70 0a4.85 4.85 0 1 0 -9.70 0M448.8 324.2a4.85 4.85 0 1 0 9.70 0a4.85 4.85 0 1 0 -9.70 0M546.2 277.8a4.85 4.85 0 1 0 9.70 0a4.85 4.85 0 1 0 -9.70 0M512.4 298.9a4.85 4.85 0 1 0 9.70 0a4.85 4.85 0 1 0 -9.70 0M452.5 329.3a4.85 4.85 0 1 0 9.70 0a4.85 4.85 0 1 0 -9.70 0M507.7 296.5a4.85 4.85 0 1 0 9.70 0a4.85 4.85 0 1 0 -9.70 0M495.6 296.0a4.85 4.85 0 1 0 9.70 0a4.85 4.85 0 1 0 -9.70 0M507.2 295.5a4.85 4.85 0 1 0 9.70 0a4.85 4.85 0 1 0 -9.70 0M526.2 288.9a4.85 4.85 0 1 0 9.70 0a4.85 4.85 0 1 0 -9.70 0M519.8 290.1a4.85 4.85 0 1 0 9.70 0a4.85 4.85 0 1 0 -9.70 0M554.8 272.5a4.85 4.85 0 1 0 9.70 0a4.85 4.85 0 1 0 -9.70 0M462.4 332.3a4.85 4.85 0 1 0 9.70 0a4.85 4.85 0 1 0 -9.70 0M534.6 283.2a4.85 4.85 0 1 0 9.70 0a4.85 4.85 0 1 0 -9.70 0M490.4 301.5a4.85 4.85 0 1 0 9.70 0a4.85 4.85 0 1 0 -9.70 0M531.3 285.5a4.85 4.85 0 1 0 9.70 0a4.85 4.85 0 1 0 -9.70 0M543.2 281.7a4.85 4.85 0 1 0 9.70 0a4.85 4.85 0 1 0 -9.70 0M554.3 275.4a4.85 4.85 0 1 0 9.70 0a4.85 4.85 0 1 0 -9.70 0M474.4 309.3a4.85 4.85 0 1 0 9.70 0a4.85 4.85 0 1 0 -9.70 0M495.0 301.4a4.85 4.85 0 1 0 9.70 0a4.85 4.85 0 1 0 -9.70 0M548.9 275.5a4.85 4.85 0 1 0 9.70 0a4.85 4.85 0 1 0 -9.70 0M549.2 289.3a4.85 4.85 0 1 0 9.70 0a4.85 4.85 0 1 0 -9.70 0M486.2 315.2a4.85 4.85 0 1 0 9.70 0a4.85 4.85 0 1 0 -9.70 0M548.6 271.9a4.85 4.85 0 1 0 9.70 0a4.85 4.85 0 1 0 -9.70 0M489.8 313.1a4.85 4.85 0 1 0 9.70 0a4.85 4.85 0 1 0 -9.70 0M486.4 309.5a4.85 4.85 0 1 0 9.70 0a4.85 4.85 0 1 0 -9.70 0M528.4 286.1a4.85 4.85 0 1 0 9.70 0a4.85 4.85 0 1 0 -9.70 0M497.0 304.6a4.85 4.85 0 1 0 9.70 0a4.85 4.85 0 1 0 -9.70 0M494.5 301.3a4.85 4.85 0 1 0 9.70 0a4.85 4.85 0 1 0 -9.70 0M487.6 309.2a4.85 4.85 0 1 0 9.70 0a4.85 4.85 0 1 0 -9.70 0M492.8 309.3a4.85 4.85 0 1 0 9.70 0a4.85 4.85 0 1 0 -9.70 0M460.5 324.3a4.85 4.85 0 1 0 9.70 0a4.85 4.85 0 1 0 -9.70 0M451.9 331.3a4.85 4.85 0 1 0 9.70 0a4.85 4.85 0 1 0 -9.70 0M528.1 284.9a4.85 4.85 0 1 0 9.70 0a4.85 4.85 0 1 0 -9.70 0M507.2 301.8a4.85 4.85 0 1 0 9.70 0a4.85 4.85 0 1 0 -9.70 0M519.1 299.8a4.85 4.85 0 1 0 9.70 0a4.85 4.85 0 1 0 -9.70 0M533.4 281.8a4.85 4.85 0 1 0 9.70 0a4.85 4.85 0 1 0 -9.70 0M470.5 317.0a4.85 4.85 0 1 0 9.70 0a4.85 4.85 0 1 0 -9.70 0M470.9 315.5a4.85 4.85 0 1 0 9.70 0a4.85 4.85 0 1 0 -9.70 0M475.7 305.8a4.85 4.85 0 1 0 9.70 0a4.85 4.85 0 1 0 -9.70 0M478.6 316.1a4.85 4.85 0 1 0 9.70 0a4.85 4.85 0 1 0 -9.70 0M528.8 285.6a4.85 4.85 0 1 0 9.70 0a4.85 4.85 0 1 0 -9.70 0M486.3 309.8a4.85 4.85 0 1 0 9.70 0a4.85 4.85 0 1 0 -9.70 0M480.7 322.5a4.85 4.85 0 1 0 9.70 0a4.85 4.85 0 1 0 -9.70 0M515.1 295.7a4.85 4.85 0 1 0 9.70 0a4.85 4.85 0 1 0 -9.70 0M465.7 329.5a4.85 4.85 0 1 0 9.70 0a4.85 4.85 0 1 0 -9.70 0M456.9 326.5a4.85 4.85 0 1 0 9.70 0a4.85 4.85 0 1 0 -9.70 0M521.8 295.8a4.85 4.85 0 1 0 9.70 0a4.85 4.85 0 1 0 -9.70 0M528.4 292.9a4.85 4.85 0 1 0 9.70 0a4.85 4.85 0 1 0 -9.70 0M477.8 308.6a4.85 4.85 0 1 0 9.70 0a4.85 4.85 0 1 0 -9.70 0M515.1 296.7a4.85 4.85 0 1 0 9.70 0a4.85 4.85 0 1 0 -9.70 0M448.9 332.5a4.85 4.85 0 1 0 9.70 0a4.85 4.85 0 1 0 -9.70 0M489.6 307.3a4.85 4.85 0 1 0 9.70 0a4.85 4.85 0 1 0 -9.70 0M508.7 307.9a4.85 4.85 0 1 0 9.70 0a4.85 4.85 0 1 0 -9.70 0M473.0 322.3a4.85 4.85 0 1 0 9.70 0a4.85 4.85 0 1 0 -9.70 0M483.5 315.7a4.85 4.85 0 1 0 9.70 0a4.85 4.85 0 1 0 -9.70 0M512.2 294.7a4.85 4.85 0 1 0 9.70 0a4.85 4.85 0 1 0 -9.70 0M510.0 296.7a4.85 4.85 0 1 0 9.70 0a4.85 4.85 0 1 0 -9.70 0M462.1 327.0a4.85 4.85 0 1 0 9.70 0a4.85 4.85 0 1 0 -9.70 0M522.9 283.0a4.85 4.85 0 1 0 9.70 0a4.85 4.85 0 1 0 -9.70 0M454.0 331.0a4.85 4.85 0 1 0 9.70 0a4.85 4.85 0 1 0 -9.70 0M551.8 280.9a4.85 4.85 0 1 0 9.70 0a4.85 4.85 0 1 0 -9.70 0M467.4 316.3a4.85 4.85 0 1 0 9.70 0a4.85 4.85 0 1 0 -9.70 0M473.0 318.4a4.85 4.85 0 1 0 9.70 0a4.85 4.85 0 1 0 -9.70 0M467.2 323.0a4.85 4.85 0 1 0 9.70 0a4.85 4.85 0 1 0 -9.70 0M554.2 280.3a4.85 4.85 0 1 0 9.70 0a4.85 4.85 0 1 0 -9.70 0M476.7 317.8a4.85 4.85 0 1 0 9.70 0a4.85 4.85 0 1 0 -9.70 0M511.7 298.1a4.85 4.85 0 1 0 9.70 0a4.85 4.85 0 1 0 -9.70 0M554.1 278.3a4.85 4.85 0 1 0 9.70 0a4.85 4.85 0 1 0 -9.70 0M549.7 275.2a4.85 4.85 0 1 0 9.70 0a4.85 4.85 0 1 0 -9.70 0M449.8 319.9a4.85 4.85 0 1 0 9.70 0a4.85 4.85 0 1 0 -9.70 0M502.5 294.9a4.85 4.85 0 1 0 9.70 0a4.85 4.85 0 1 0 -9.70 0M511.3 293.9a4.85 4.85 0 1 0 9.70 0a4.85 4.85 0 1 0 -9.70 0M522.4 291.0a4.85 4.85 0 1 0 9.70 0a4.85 4.85 0 1 0 -9.70 0M482.1 313.5a4.85 4.85 0 1 0 9.70 0a4.85 4.85 0 1 0 -9.70 0M481.2 308.9a4.85 4.85 0 1 0 9.70 0a4.85 4.85 0 1 0 -9.70 0M445.6 334.4a4.85 4.85 0 1 0 9.70 0a4.85 4.85 0 1 0 -9.70 0M449.0 331.6a4.85 4.85 0 1 0 9.70 0a4.85 4.85 0 1 0 -9.70 0M505.7 305.2a4.85 4.85 0 1 0 9.70 0a4.85 4.85 0 1 0 -9.70 0M453.5 326.6a4.85 4.85 0 1 0 9.70 0a4.85 4.85 0 1 0 -9.70 0M467.4 322.3a4.85 4.85 0 1 0 9.70 0a4.85 4.85 0 1 0 -9.70 0M481.8 316.4a4.85 4.85 0 1 0 9.70 0a4.85 4.85 0 1 0 -9.70 0M452.9 322.6a4.85 4.85 0 1 0 9.70 0a4.85 4.85 0 1 0 -9.70 0M448.5 323.1a4.85 4.85 0 1 0 9.70 0a4.85 4.85 0 1 0 -9.70 0M547.1 281.0a4.85 4.85 0 1 0 9.70 0a4.85 4.85 0 1 0 -9.70 0M493.0 313.0a4.85 4.85 0 1 0 9.70 0a4.85 4.85 0 1 0 -9.70 0M467.7 326.5a4.85 4.85 0 1 0 9.70 0a4.85 4.85 0 1 0 -9.70 0M523.1 291.5a4.85 4.85 0 1 0 9.70 0a4.85 4.85 0 1 0 -9.70 0M446.2 331.4a4.85 4.85 0 1 0 9.70 0a4.85 4.85 0 1 0 -9.70 0M472.1 315.6a4.85 4.85 0 1 0 9.70 0a4.85 4.85 0 1 0 -9.70 0M550.8 280.2a4.85 4.85 0 1 0 9.70 0a4.85 4.85 0 1 0 -9.70 0M543.9 285.4a4.85 4.85 0 1 0 9.70 0a4.85 4.85 0 1 0 -9.70 0M515.1 298.8a4.85 4.85 0 1 0 9.70 0a4.85 4.85 0 1 0 -9.70 0M455.4 324.2a4.85 4.85 0 1 0 9.70 0a4.85 4.85 0 1 0 -9.70 0M480.1 318.1a4.85 4.85 0 1 0 9.70 0a4.85 4.85 0 1 0 -9.70 0M448.2 335.4a4.85 4.85 0 1 0 9.70 0a4.85 4.85 0 1 0 -9.70 0M469.3 329.1a4.85 4.85 0 1 0 9.70 0a4.85 4.85 0 1 0 -9.70 0M447.9 333.4a4.85 4.85 0 1 0 9.70 0a4.85 4.85 0 1 0 -9.70 0M459.0 323.5a4.85 4.85 0 1 0 9.70 0a4.85 4.85 0 1 0 -9.70 0M514.8 293.1a4.85 4.85 0 1 0 9.70 0a4.85 4.85 0 1 0 -9.70 0M456.2 326.0a4.85 4.85 0 1 0 9.70 0a4.85 4.85 0 1 0 -9.70 0M462.3 317.4a4.85 4.85 0 1 0 9.70 0a4.85 4.85 0 1 0 -9.70 0M544.5 274.3a4.85 4.85 0 1 0 9.70 0a4.85 4.85 0 1 0 -9.70 0M482.0 312.1a4.85 4.85 0 1 0 9.70 0a4.85 4.85 0 1 0 -9.70 0M481.8 313.9a4.85 4.85 0 1 0 9.70 0a4.85 4.85 0 1 0 -9.70 0M454.7 333.8a4.85 4.85 0 1 0 9.70 0a4.85 4.85 0 1 0 -9.70 0M532.7 284.1a4.85 4.85 0 1 0 9.70 0a4.85 4.85 0 1 0 -9.70 0M519.6 301.6a4.85 4.85 0 1 0 9.70 0a4.85 4.85 0 1 0 -9.70 0M505.3 296.9a4.85 4.85 0 1 0 9.70 0a4.85 4.85 0 1 0 -9.70 0M513.1 295.2a4.85 4.85 0 1 0 9.70 0a4.85 4.85 0 1 0 -9.70 0M456.2 323.4a4.85 4.85 0 1 0 9.70 0a4.85 4.85 0 1 0 -9.70 0M473.8 312.9a4.85 4.85 0 1 0 9.70 0a4.85 4.85 0 1 0 -9.70 0M509.4 294.6a4.85 4.85 0 1 0 9.70 0a4.85 4.85 0 1 0 -9.70 0M549.9 274.5a4.85 4.85 0 1 0 9.70 0a4.85 4.85 0 1 0 -9.70 0M535.0 287.2a4.85 4.85 0 1 0 9.70 0a4.85 4.85 0 1 0 -9.70 0M515.6 297.8a4.85 4.85 0 1 0 9.70 0a4.85 4.85 0 1 0 -9.70 0M502.2 302.7a4.85 4.85 0 1 0 9.70 0a4.85 4.85 0 1 0 -9.70 0M446.8 325.7a4.85 4.85 0 1 0 9.70 0a4.85 4.85 0 1 0 -9.70 0M543.1 283.9a4.85 4.85 0 1 0 9.70 0a4.85 4.85 0 1 0 -9.70 0M452.5 322.8a4.85 4.85 0 1 0 9.70 0a4.85 4.85 0 1 0 -9.70 0M459.3 321.0a4.85 4.85 0 1 0 9.70 0a4.85 4.85 0 1 0 -9.70 0M521.4 294.8a4.85 4.85 0 1 0 9.70 0a4.85 4.85 0 1 0 -9.70 0M534.5 290.7a4.85 4.85 0 1 0 9.70 0a4.85 4.85 0 1 0 -9.70 0M531.7 281.9a4.85 4.85 0 1 0 9.70 0a4.85 4.85 0 1 0 -9.70 0M494.9 295.2a4.85 4.85 0 1 0 9.70 0a4.85 4.85 0 1 0 -9.70 0M464.6 325.1a4.85 4.85 0 1 0 9.70 0a4.85 4.85 0 1 0 -9.70 0M449.0 321.5a4.85 4.85 0 1 0 9.70 0a4.85 4.85 0 1 0 -9.70 0M538.8 288.0a4.85 4.85 0 1 0 9.70 0a4.85 4.85 0 1 0 -9.70 0M552.7 270.9a4.85 4.85 0 1 0 9.70 0a4.85 4.85 0 1 0 -9.70 0M472.0 321.6a4.85 4.85 0 1 0 9.70 0a4.85 4.85 0 1 0 -9.70 0M540.4 281.6a4.85 4.85 0 1 0 9.70 0a4.85 4.85 0 1 0 -9.70 0M489.4 310.1a4.85 4.85 0 1 0 9.70 0a4.85 4.85 0 1 0 -9.70 0M479.4 312.6a4.85 4.85 0 1 0 9.70 0a4.85 4.85 0 1 0 -9.70 0M500.7 297.2a4.85 4.85 0 1 0 9.70 0a4.85 4.85 0 1 0 -9.70 0M446.0 339.8a4.85 4.85 0 1 0 9.70 0a4.85 4.85 0 1 0 -9.70 0M493.8 302.0a4.85 4.85 0 1 0 9.70 0a4.85 4.85 0 1 0 -9.70 0M467.1 315.8a4.85 4.85 0 1 0 9.70 0a4.85 4.85 0 1 0 -9.70 0M523.5 294.0a4.85 4.85 0 1 0 9.70 0a4.85 4.85 0 1 0 -9.70 0M500.4 307.2a4.85 4.85 0 1 0 9.70 0a4.85 4.85 0 1 0 -9.70 0M540.7 277.7a4.85 4.85 0 1 0 9.70 0a4.85 4.85 0 1 0 -9.70 0M543.8 281.9a4.85 4.85 0 1 0 9.70 0a4.85 4.85 0 1 0 -9.70 0M480.0 319.7a4.85 4.85 0 1 0 9.70 0a4.85 4.85 0 1 0 -9.70 0M476.0 317.5a4.85 4.85 0 1 0 9.70 0a4.85 4.85 0 1 0 -9.70 0M548.5 288.1a4.85 4.85 0 1 0 9.70 0a4.85 4.85 0 1 0 -9.70 0M500.6 307.6a4.85 4.85 0 1 0 9.70 0a4.85 4.85 0 1 0 -9.70 0M455.8 323.5a4.85 4.85 0 1 0 9.70 0a4.85 4.85 0 1 0 -9.70 0M450.2 337.4a4.85 4.85 0 1 0 9.70 0a4.85 4.85 0 1 0 -9.70 0M554.1 279.6a4.85 4.85 0 1 0 9.70 0a4.85 4.85 0 1 0 -9.70 0M508.9 297.0a4.85 4.85 0 1 0 9.70 0a4.85 4.85 0 1 0 -9.70 0M451.1 331.5a4.85 4.85 0 1 0 9.70 0a4.85 4.85 0 1 0 -9.70 0M501.4 305.2a4.85 4.85 0 1 0 9.70 0a4.85 4.85 0 1 0 -9.70 0M500.6 305.7a4.85 4.85 0 1 0 9.70 0a4.85 4.85 0 1 0 -9.70 0M493.0 297.9a4.85 4.85 0 1 0 9.70 0a4.85 4.85 0 1 0 -9.70 0M549.8 277.5a4.85 4.85 0 1 0 9.70 0a4.85 4.85 0 1 0 -9.70 0M549.5 276.5a4.85 4.85 0 1 0 9.70 0a4.85 4.85 0 1 0 -9.70 0M458.9 321.6a4.85 4.85 0 1 0 9.70 0a4.85 4.85 0 1 0 -9.70 0M461.8 318.2a4.85 4.85 0 1 0 9.70 0a4.85 4.85 0 1 0 -9.70 0M490.0 310.7a4.85 4.85 0 1 0 9.70 0a4.85 4.85 0 1 0 -9.70 0M536.9 283.0a4.85 4.85 0 1 0 9.70 0a4.85 4.85 0 1 0 -9.70 0M513.8 299.5a4.85 4.85 0 1 0 9.70 0a4.85 4.85 0 1 0 -9.70 0M525.4 297.6a4.85 4.85 0 1 0 9.70 0a4.85 4.85 0 1 0 -9.70 0M508.5 299.8a4.85 4.85 0 1 0 9.70 0a4.85 4.85 0 1 0 -9.70 0M468.3 318.6a4.85 4.85 0 1 0 9.70 0a4.85 4.85 0 1 0 -9.70 0M535.1 282.0a4.85 4.85 0 1 0 9.70 0a4.85 4.85 0 1 0 -9.70 0M446.7 334.9a4.85 4.85 0 1 0 9.70 0a4.85 4.85 0 1 0 -9.70 0M522.0 295.8a4.85 4.85 0 1 0 9.70 0a4.85 4.85 0 1 0 -9.70 0M466.5 325.6a4.85 4.85 0 1 0 9.70 0a4.85 4.85 0 1 0 -9.70 0M497.0 299.6a4.85 4.85 0 1 0 9.70 0a4.85 4.85 0 1 0 -9.70 0M552.4 270.2a4.85 4.85 0 1 0 9.70 0a4.85 4.85 0 1 0 -9.70 0M504.4 305.0a4.85 4.85 0 1 0 9.70 0a4.85 4.85 0 1 0 -9.70 0M451.4 327.6a4.85 4.85 0 1 0 9.70 0a4.85 4.85 0 1 0 -9.70 0M492.3 306.8a4.85 4.85 0 1 0 9.70 0a4.85 4.85 0 1 0 -9.70 0M517.8 289.3a4.85 4.85 0 1 0 9.70 0a4.85 4.85 0 1 0 -9.70 0M451.4 326.7a4.85 4.85 0 1 0 9.70 0a4.85 4.85 0 1 0 -9.70 0M472.9 316.4a4.85 4.85 0 1 0 9.70 0a4.85 4.85 0 1 0 -9.70 0M447.2 326.5a4.85 4.85 0 1 0 9.70 0a4.85 4.85 0 1 0 -9.70 0M504.6 292.5a4.85 4.85 0 1 0 9.70 0a4.85 4.85 0 1 0 -9.70 0M487.1 305.2a4.85 4.85 0 1 0 9.70 0a4.85 4.85 0 1 0 -9.70 0M500.6 303.5a4.85 4.85 0 1 0 9.70 0a4.85 4.85 0 1 0 -9.70 0M477.7 316.3a4.85 4.85 0 1 0 9.70 0a4.85 4.85 0 1 0 -9.70 0M517.4 296.3a4.85 4.85 0 1 0 9.70 0a4.85 4.85 0 1 0 -9.70 0M464.2 312.0a4.85 4.85 0 1 0 9.70 0a4.85 4.85 0 1 0 -9.70 0M583.7 256.4a4.85 4.85 0 1 0 9.70 0a4.85 4.85 0 1 0 -9.70 0M582.9 252.5a4.85 4.85 0 1 0 9.70 0a4.85 4.85 0 1 0 -9.70 0M600.4 245.8a4.85 4.85 0 1 0 9.70 0a4.85 4.85 0 1 0 -9.70 0M596.5 253.5a4.85 4.85 0 1 0 9.70 0a4.85 4.85 0 1 0 -9.70 0M592.0 245.1a4.85 4.85 0 1 0 9.70 0a4.85 4.85 0 1 0 -9.70 0M601.3 241.0a4.85 4.85 0 1 0 9.70 0a4.85 4.85 0 1 0 -9.70 0M558.5 274.2a4.85 4.85 0 1 0 9.70 0a4.85 4.85 0 1 0 -9.70 0M593.6 249.3a4.85 4.85 0 1 0 9.70 0a4.85 4.85 0 1 0 -9.70 0M578.3 256.9a4.85 4.85 0 1 0 9.70 0a4.85 4.85 0 1 0 -9.70 0M592.7 256.3a4.85 4.85 0 1 0 9.70 0a4.85 4.85 0 1 0 -9.70 0M570.0 264.7a4.85 4.85 0 1 0 9.70 0a4.85 4.85 0 1 0 -9.70 0M578.5 270.5a4.85 4.85 0 1 0 9.70 0a4.85 4.85 0 1 0 -9.70 0M596.4 248.7a4.85 4.85 0 1 0 9.70 0a4.85 4.85 0 1 0 -9.70 0M556.9 265.6a4.85 4.85 0 1 0 9.70 0a4.85 4.85 0 1 0 -9.70 0M569.7 269.4a4.85 4.85 0 1 0 9.70 0a4.85 4.85 0 1 0 -9.70 0M579.6 264.3a4.85 4.85 0 1 0 9.70 0a4.85 4.85 0 1 0 -9.70 0M597.7 246.9a4.85 4.85 0 1 0 9.70 0a4.85 4.85 0 1 0 -9.70 0M568.7 268.8a4.85 4.85 0 1 0 9.70 0a4.85 4.85 0 1 0 -9.70 0M596.3 245.8a4.85 4.85 0 1 0 9.70 0a4.85 4.85 0 1 0 -9.70 0M567.4 265.6a4.85 4.85 0 1 0 9.70 0a4.85 4.85 0 1 0 -9.70 0M570.3 259.9a4.85 4.85 0 1 0 9.70 0a4.85 4.85 0 1 0 -9.70 0M582.8 250.3a4.85 4.85 0 1 0 9.70 0a4.85 4.85 0 1 0 -9.70 0M587.8 255.8a4.85 4.85 0 1 0 9.70 0a4.85 4.85 0 1 0 -9.70 0M599.2 248.9a4.85 4.85 0 1 0 9.70 0a4.85 4.85 0 1 0 -9.70 0M599.1 241.6a4.85 4.85 0 1 0 9.70 0a4.85 4.85 0 1 0 -9.70 0M567.7 267.6a4.85 4.85 0 1 0 9.70 0a4.85 4.85 0 1 0 -9.70 0M592.4 254.9a4.85 4.85 0 1 0 9.70 0a4.85 4.85 0 1 0 -9.70 0M586.9 255.1a4.85 4.85 0 1 0 9.70 0a4.85 4.85 0 1 0 -9.70 0M574.5 262.8a4.85 4.85 0 1 0 9.70 0a4.85 4.85 0 1 0 -9.70 0M594.0 253.6a4.85 4.85 0 1 0 9.70 0a4.85 4.85 0 1 0 -9.70 0M600.0 252.6a4.85 4.85 0 1 0 9.70 0a4.85 4.85 0 1 0 -9.70 0M579.1 265.8a4.85 4.85 0 1 0 9.70 0a4.85 4.85 0 1 0 -9.70 0M601.0 243.9a4.85 4.85 0 1 0 9.70 0a4.85 4.85 0 1 0 -9.70 0M561.5 276.3a4.85 4.85 0 1 0 9.70 0a4.85 4.85 0 1 0 -9.70 0M563.5 263.1a4.85 4.85 0 1 0 9.70 0a4.85 4.85 0 1 0 -9.70 0M593.4 252.5a4.85 4.85 0 1 0 9.70 0a4.85 4.85 0 1 0 -9.70 0M570.4 264.4a4.85 4.85 0 1 0 9.70 0a4.85 4.85 0 1 0 -9.70 0M584.4 259.3a4.85 4.85 0 1 0 9.70 0a4.85 4.85 0 1 0 -9.70 0M580.0 264.9a4.85 4.85 0 1 0 9.70 0a4.85 4.85 0 1 0 -9.70 0M562.4 273.9a4.85 4.85 0 1 0 9.70 0a4.85 4.85 0 1 0 -9.70 0M592.9 252.1a4.85 4.85 0 1 0 9.70 0a4.85 4.85 0 1 0 -9.70 0M592.2 244.1a4.85 4.85 0 1 0 9.70 0a4.85 4.85 0 1 0 -9.70 0M562.4 271.0a4.85 4.85 0 1 0 9.70 0a4.85 4.85 0 1 0 -9.70 0M568.1 260.7a4.85 4.85 0 1 0 9.70 0a4.85 4.85 0 1 0 -9.70 0M595.2 245.8a4.85 4.85 0 1 0 9.70 0a4.85 4.85 0 1 0 -9.70 0M600.8 247.7a4.85 4.85 0 1 0 9.70 0a4.85 4.85 0 1 0 -9.70 0M598.7 247.7a4.85 4.85 0 1 0 9.70 0a4.85 4.85 0 1 0 -9.70 0M580.2 254.6a4.85 4.85 0 1 0 9.70 0a4.85 4.85 0 1 0 -9.70 0M573.5 259.0a4.85 4.85 0 1 0 9.70 0a4.85 4.85 0 1 0 -9.70 0M577.4 261.8a4.85 4.85 0 1 0 9.70 0a4.85 4.85 0 1 0 -9.70 0M564.0 270.9a4.85 4.85 0 1 0 9.70 0a4.85 4.85 0 1 0 -9.70 0M579.9 256.7a4.85 4.85 0 1 0 9.70 0a4.85 4.85 0 1 0 -9.70 0M566.7 264.1a4.85 4.85 0 1 0 9.70 0a4.85 4.85 0 1 0 -9.70 0M563.2 269.4a4.85 4.85 0 1 0 9.70 0a4.85 4.85 0 1 0 -9.70 0M574.2 260.3a4.85 4.85 0 1 0 9.70 0a4.85 4.85 0 1 0 -9.70 0M558.3 275.2a4.85 4.85 0 1 0 9.70 0a4.85 4.85 0 1 0 -9.70 0M578.7 257.8a4.85 4.85 0 1 0 9.70 0a4.85 4.85 0 1 0 -9.70 0M590.0 253.2a4.85 4.85 0 1 0 9.70 0a4.85 4.85 0 1 0 -9.70 0M587.7 250.5a4.85 4.85 0 1 0 9.70 0a4.85 4.85 0 1 0 -9.70 0M603.9 246.3a4.85 4.85 0 1 0 9.70 0a4.85 4.85 0 1 0 -9.70 0M599.4 248.4a4.85 4.85 0 1 0 9.70 0a4.85 4.85 0 1 0 -9.70 0M586.8 252.8a4.85 4.85 0 1 0 9.70 0a4.85 4.85 0 1 0 -9.70 0M600.0 251.0a4.85 4.85 0 1 0 9.70 0a4.85 4.85 0 1 0 -9.70 0M577.4 265.3a4.85 4.85 0 1 0 9.70 0a4.85 4.85 0 1 0 -9.70 0M595.1 245.4a4.85 4.85 0 1 0 9.70 0a4.85 4.85 0 1 0 -9.70 0M569.4 270.4a4.85 4.85 0 1 0 9.70 0a4.85 4.85 0 1 0 -9.70 0M581.5 260.7a4.85 4.85 0 1 0 9.70 0a4.85 4.85 0 1 0 -9.70 0M604.1 239.3a4.85 4.85 0 1 0 9.70 0a4.85 4.85 0 1 0 -9.70 0M585.1 254.6a4.85 4.85 0 1 0 9.70 0a4.85 4.85 0 1 0 -9.70 0M580.5 257.1a4.85 4.85 0 1 0 9.70 0a4.85 4.85 0 1 0 -9.70 0M594.5 244.3a4.85 4.85 0 1 0 9.70 0a4.85 4.85 0 1 0 -9.70 0M570.8 262.1a4.85 4.85 0 1 0 9.70 0a4.85 4.85 0 1 0 -9.70 0M596.7 241.7a4.85 4.85 0 1 0 9.70 0a4.85 4.85 0 1 0 -9.70 0M556.1 269.6a4.85 4.85 0 1 0 9.70 0a4.85 4.85 0 1 0 -9.70 0M567.1 269.1a4.85 4.85 0 1 0 9.70 0a4.85 4.85 0 1 0 -9.70 0M564.0 277.6a4.85 4.85 0 1 0 9.70 0a4.85 4.85 0 1 0 -9.70 0M568.0 270.2a4.85 4.85 0 1 0 9.70 0a4.85 4.85 0 1 0 -9.70 0M602.4 251.4a4.85 4.85 0 1 0 9.70 0a4.85 4.85 0 1 0 -9.70 0M556.3 273.6a4.85 4.85 0 1 0 9.70 0a4.85 4.85 0 1 0 -9.70 0M570.1 269.0a4.85 4.85 0 1 0 9.70 0a4.85 4.85 0 1 0 -9.70 0M583.9 261.9a4.85 4.85 0 1 0 9.70 0a4.85 4.85 0 1 0 -9.70 0M590.3 253.2a4.85 4.85 0 1 0 9.70 0a4.85 4.85 0 1 0 -9.70 0M593.8 256.7a4.85 4.85 0 1 0 9.70 0a4.85 4.85 0 1 0 -9.70 0M574.3 267.1a4.85 4.85 0 1 0 9.70 0a4.85 4.85 0 1 0 -9.70 0M566.2 260.8a4.85 4.85 0 1 0 9.70 0a4.85 4.85 0 1 0 -9.70 0M597.8 249.7a4.85 4.85 0 1 0 9.70 0a4.85 4.85 0 1 0 -9.70 0M561.3 277.5a4.85 4.85 0 1 0 9.70 0a4.85 4.85 0 1 0 -9.70 0M558.4 270.4a4.85 4.85 0 1 0 9.70 0a4.85 4.85 0 1 0 -9.70 0M566.7 267.9a4.85 4.85 0 1 0 9.70 0a4.85 4.85 0 1 0 -9.70 0M579.8 259.5a4.85 4.85 0 1 0 9.70 0a4.85 4.85 0 1 0 -9.70 0M602.3 248.3a4.85 4.85 0 1 0 9.70 0a4.85 4.85 0 1 0 -9.70 0M591.6 255.7a4.85 4.85 0 1 0 9.70 0a4.85 4.85 0 1 0 -9.70 0M583.3 261.8a4.85 4.85 0 1 0 9.70 0a4.85 4.85 0 1 0 -9.70 0M581.2 264.7a4.85 4.85 0 1 0 9.70 0a4.85 4.85 0 1 0 -9.70 0M589.8 251.6a4.85 4.85 0 1 0 9.70 0a4.85 4.85 0 1 0 -9.70 0M586.5 259.7a4.85 4.85 0 1 0 9.70 0a4.85 4.85 0 1 0 -9.70 0M572.0 263.8a4.85 4.85 0 1 0 9.70 0a4.85 4.85 0 1 0 -9.70 0M559.8 273.7a4.85 4.85 0 1 0 9.70 0a4.85 4.85 0 1 0 -9.70 0M565.2 272.0a4.85 4.85 0 1 0 9.70 0a4.85 4.85 0 1 0 -9.70 0M594.3 258.5a4.85 4.85 0 1 0 9.70 0a4.85 4.85 0 1 0 -9.70 0M586.9 254.0a4.85 4.85 0 1 0 9.70 0a4.85 4.85 0 1 0 -9.70 0M595.0 249.6a4.85 4.85 0 1 0 9.70 0a4.85 4.85 0 1 0 -9.70 0M557.4 273.5a4.85 4.85 0 1 0 9.70 0a4.85 4.85 0 1 0 -9.70 0M600.2 244.0a4.85 4.85 0 1 0 9.70 0a4.85 4.85 0 1 0 -9.70 0M574.3 257.3a4.85 4.85 0 1 0 9.70 0a4.85 4.85 0 1 0 -9.70 0M601.5 242.0a4.85 4.85 0 1 0 9.70 0a4.85 4.85 0 1 0 -9.70 0M584.9 262.4a4.85 4.85 0 1 0 9.70 0a4.85 4.85 0 1 0 -9.70 0M582.5 261.5a4.85 4.85 0 1 0 9.70 0a4.85 4.85 0 1 0 -9.70 0M596.1 245.5a4.85 4.85 0 1 0 9.70 0a4.85 4.85 0 1 0 -9.70 0M586.4 256.2a4.85 4.85 0 1 0 9.70 0a4.85 4.85 0 1 0 -9.70 0M588.9 254.7a4.85 4.85 0 1 0 9.70 0a4.85 4.85 0 1 0 -9.70 0M563.0 273.4a4.85 4.85 0 1 0 9.70 0a4.85 4.85 0 1 0 -9.70 0M585.4 248.6a4.85 4.85 0 1 0 9.70 0a4.85 4.85 0 1 0 -9.70 0M573.0 268.6a4.85 4.85 0 1 0 9.70 0a4.85 4.85 0 1 0 -9.70 0M558.9 268.1a4.85 4.85 0 1 0 9.70 0a4.85 4.85 0 1 0 -9.70 0M561.8 269.9a4.85 4.85 0 1 0 9.70 0a4.85 4.85 0 1 0 -9.70 0M579.1 262.1a4.85 4.85 0 1 0 9.70 0a4.85 4.85 0 1 0 -9.70 0M568.3 271.0a4.85 4.85 0 1 0 9.70 0a4.85 4.85 0 1 0 -9.70 0M593.4 245.4a4.85 4.85 0 1 0 9.70 0a4.85 4.85 0 1 0 -9.70 0M561.3 269.0a4.85 4.85 0 1 0 9.70 0a4.85 4.85 0 1 0 -9.70 0M555.8 268.6a4.85 4.85 0 1 0 9.70 0a4.85 4.85 0 1 0 -9.70 0M605.0 238.4a4.85 4.85 0 1 0 9.70 0a4.85 4.85 0 1 0 -9.70 0M570.8 268.8a4.85 4.85 0 1 0 9.70 0a4.85 4.85 0 1 0 -9.70 0M580.6 260.2a4.85 4.85 0 1 0 9.70 0a4.85 4.85 0 1 0 -9.70 0M565.7 275.5a4.85 4.85 0 1 0 9.70 0a4.85 4.85 0 1 0 -9.70 0M565.6 262.9a4.85 4.85 0 1 0 9.70 0a4.85 4.85 0 1 0 -9.70 0M575.3 260.1a4.85 4.85 0 1 0 9.70 0a4.85 4.85 0 1 0 -9.70 0M594.6 252.5a4.85 4.85 0 1 0 9.70 0a4.85 4.85 0 1 0 -9.70 0M557.1 273.1a4.85 4.85 0 1 0 9.70 0a4.85 4.85 0 1 0 -9.70 0M597.0 253.0a4.85 4.85 0 1 0 9.70 0a4.85 4.85 0 1 0 -9.70 0M604.7 244.9a4.85 4.85 0 1 0 9.70 0a4.85 4.85 0 1 0 -9.70 0M583.1 256.2a4.85 4.85 0 1 0 9.70 0a4.85 4.85 0 1 0 -9.70 0M573.2 259.9a4.85 4.85 0 1 0 9.70 0a4.85 4.85 0 1 0 -9.70 0M566.8 269.3a4.85 4.85 0 1 0 9.70 0a4.85 4.85 0 1 0 -9.70 0M564.3 270.4a4.85 4.85 0 1 0 9.70 0a4.85 4.85 0 1 0 -9.70 0M571.3 266.9a4.85 4.85 0 1 0 9.70 0a4.85 4.85 0 1 0 -9.70 0M597.7 245.8a4.85 4.85 0 1 0 9.70 0a4.85 4.85 0 1 0 -9.70 0M555.3 282.4a4.85 4.85 0 1 0 9.70 0a4.85 4.85 0 1 0 -9.70 0M594.4 252.2a4.85 4.85 0 1 0 9.70 0a4.85 4.85 0 1 0 -9.70 0M588.5 256.2a4.85 4.85 0 1 0 9.70 0a4.85 4.85 0 1 0 -9.70 0M607.1 239.7a4.85 4.85 0 1 0 9.70 0a4.85 4.85 0 1 0 -9.70 0M605.6 241.9a4.85 4.85 0 1 0 9.70 0a4.85 4.85 0 1 0 -9.70 0M626.6 233.0a4.85 4.85 0 1 0 9.70 0a4.85 4.85 0 1 0 -9.70 0M615.4 236.1a4.85 4.85 0 1 0 9.70 0a4.85 4.85 0 1 0 -9.70 0M626.1 224.0a4.85 4.85 0 1 0 9.70 0a4.85 4.85 0 1 0 -9.70 0M628.5 227.0a4.85 4.85 0 1 0 9.70 0a4.85 4.85 0 1 0 -9.70 0M630.2 219.0a4.85 4.85 0 1 0 9.70 0a4.85 4.85 0 1 0 -9.70 0M623.6 228.6a4.85 4.85 0 1 0 9.70 0a4.85 4.85 0 1 0 -9.70 0M630.6 234.3a4.85 4.85 0 1 0 9.70 0a4.85 4.85 0 1 0 -9.70 0M624.9 228.7a4.85 4.85 0 1 0 9.70 0a4.85 4.85 0 1 0 -9.70 0M633.0 228.7a4.85 4.85 0 1 0 9.70 0a4.85 4.85 0 1 0 -9.70 0M632.1 233.9a4.85 4.85 0 1 0 9.70 0a4.85 4.85 0 1 0 -9.70 0M606.4 248.1a4.85 4.85 0 1 0 9.70 0a4.85 4.85 0 1 0 -9.70 0M613.2 232.0a4.85 4.85 0 1 0 9.70 0a4.85 4.85 0 1 0 -9.70 0M616.8 230.2a4.85 4.85 0 1 0 9.70 0a4.85 4.85 0 1 0 -9.70 0M612.7 240.7a4.85 4.85 0 1 0 9.70 0a4.85 4.85 0 1 0 -9.70 0M610.5 241.3a4.85 4.85 0 1 0 9.70 0a4.85 4.85 0 1 0 -9.70 0M631.4 224.3a4.85 4.85 0 1 0 9.70 0a4.85 4.85 0 1 0 -9.70 0M605.9 240.2a4.85 4.85 0 1 0 9.70 0a4.85 4.85 0 1 0 -9.70 0M610.6 236.1a4.85 4.85 0 1 0 9.70 0a4.85 4.85 0 1 0 -9.70 0M628.0 233.7a4.85 4.85 0 1 0 9.70 0a4.85 4.85 0 1 0 -9.70 0M611.8 243.5a4.85 4.85 0 1 0 9.70 0a4.85 4.85 0 1 0 -9.70 0M612.9 231.7a4.85 4.85 0 1 0 9.70 0a4.85 4.85 0 1 0 -9.70 0M634.2 232.2a4.85 4.85 0 1 0 9.70 0a4.85 4.85 0 1 0 -9.70 0M628.0 230.3a4.85 4.85 0 1 0 9.70 0a4.85 4.85 0 1 0 -9.70 0M618.6 233.2a4.85 4.85 0 1 0 9.70 0a4.85 4.85 0 1 0 -9.70 0M609.2 241.5a4.85 4.85 0 1 0 9.70 0a4.85 4.85 0 1 0 -9.70 0M613.2 235.7a4.85 4.85 0 1 0 9.70 0a4.85 4.85 0 1 0 -9.70 0M634.6 227.6a4.85 4.85 0 1 0 9.70 0a4.85 4.85 0 1 0 -9.70 0M628.9 225.8a4.85 4.85 0 1 0 9.70 0a4.85 4.85 0 1 0 -9.70 0M607.2 240.3a4.85 4.85 0 1 0 9.70 0a4.85 4.85 0 1 0 -9.70 0M626.4 236.0a4.85 4.85 0 1 0 9.70 0a4.85 4.85 0 1 0 -9.70 0M616.4 238.4a4.85 4.85 0 1 0 9.70 0a4.85 4.85 0 1 0 -9.70 0M626.7 228.1a4.85 4.85 0 1 0 9.70 0a4.85 4.85 0 1 0 -9.70 0M614.0 239.9a4.85 4.85 0 1 0 9.70 0a4.85 4.85 0 1 0 -9.70 0M609.1 243.4a4.85 4.85 0 1 0 9.70 0a4.85 4.85 0 1 0 -9.70 0M605.7 239.7a4.85 4.85 0 1 0 9.70 0a4.85 4.85 0 1 0 -9.70 0M675.3 201.8a4.85 4.85 0 1 0 9.70 0a4.85 4.85 0 1 0 -9.70 0M686.2 200.1a4.85 4.85 0 1 0 9.70 0a4.85 4.85 0 1 0 -9.70 0M659.5 205.2a4.85 4.85 0 1 0 9.70 0a4.85 4.85 0 1 0 -9.70 0M690.3 192.9a4.85 4.85 0 1 0 9.70 0a4.85 4.85 0 1 0 -9.70 0M688.0 194.0a4.85 4.85 0 1 0 9.70 0a4.85 4.85 0 1 0 -9.70 0M683.6 194.2a4.85 4.85 0 1 0 9.70 0a4.85 4.85 0 1 0 -9.70 0M657.9 209.8a4.85 4.85 0 1 0 9.70 0a4.85 4.85 0 1 0 -9.70 0M666.8 211.6a4.85 4.85 0 1 0 9.70 0a4.85 4.85 0 1 0 -9.70 0M645.5 218.2a4.85 4.85 0 1 0 9.70 0a4.85 4.85 0 1 0 -9.70 0M680.7 197.8a4.85 4.85 0 1 0 9.70 0a4.85 4.85 0 1 0 -9.70 0M688.6 195.9a4.85 4.85 0 1 0 9.70 0a4.85 4.85 0 1 0 -9.70 0M644.8 217.7a4.85 4.85 0 1 0 9.70 0a4.85 4.85 0 1 0 -9.70 0M679.8 205.9a4.85 4.85 0 1 0 9.70 0a4.85 4.85 0 1 0 -9.70 0M676.8 200.5a4.85 4.85 0 1 0 9.70 0a4.85 4.85 0 1 0 -9.70 0M637.3 216.4a4.85 4.85 0 1 0 9.70 0a4.85 4.85 0 1 0 -9.70 0M690.2 199.2a4.85 4.85 0 1 0 9.70 0a4.85 4.85 0 1 0 -9.70 0M663.9 211.6a4.85 4.85 0 1 0 9.70 0a4.85 4.85 0 1 0 -9.70 0M651.3 202.1a4.85 4.85 0 1 0 9.70 0a4.85 4.85 0 1 0 -9.70 0M637.0 222.5a4.85 4.85 0 1 0 9.70 0a4.85 4.85 0 1 0 -9.70 0M682.1 190.2a4.85 4.85 0 1 0 9.70 0a4.85 4.85 0 1 0 -9.70 0M655.4 206.1a4.85 4.85 0 1 0 9.70 0a4.85 4.85 0 1 0 -9.70 0M666.0 213.3a4.85 4.85 0 1 0 9.70 0a4.85 4.85 0 1 0 -9.70 0M646.8 210.9a4.85 4.85 0 1 0 9.70 0a4.85 4.85 0 1 0 -9.70 0M671.6 203.2a4.85 4.85 0 1 0 9.70 0a4.85 4.85 0 1 0 -9.70 0M659.0 213.0a4.85 4.85 0 1 0 9.70 0a4.85 4.85 0 1 0 -9.70 0M683.5 195.1a4.85 4.85 0 1 0 9.70 0a4.85 4.85 0 1 0 -9.70 0M675.1 200.7a4.85 4.85 0 1 0 9.70 0a4.85 4.85 0 1 0 -9.70 0M678.5 198.4a4.85 4.85 0 1 0 9.70 0a4.85 4.85 0 1 0 -9.70 0M650.2 219.4a4.85 4.85 0 1 0 9.70 0a4.85 4.85 0 1 0 -9.70 0M639.0 214.7a4.85 4.85 0 1 0 9.70 0a4.85 4.85 0 1 0 -9.70 0M687.9 196.7a4.85 4.85 0 1 0 9.70 0a4.85 4.85 0 1 0 -9.70 0M691.3 189.5a4.85 4.85 0 1 0 9.70 0a4.85 4.85 0 1 0 -9.70 0M673.8 210.8a4.85 4.85 0 1 0 9.70 0a4.85 4.85 0 1 0 -9.70 0M690.5 200.6a4.85 4.85 0 1 0 9.70 0a4.85 4.85 0 1 0 -9.70 0M677.5 198.7a4.85 4.85 0 1 0 9.70 0a4.85 4.85 0 1 0 -9.70 0M671.5 200.5a4.85 4.85 0 1 0 9.70 0a4.85 4.85 0 1 0 -9.70 0M660.3 205.9a4.85 4.85 0 1 0 9.70 0a4.85 4.85 0 1 0 -9.70 0M656.5 215.0a4.85 4.85 0 1 0 9.70 0a4.85 4.85 0 1 0 -9.70 0M664.5 212.4a4.85 4.85 0 1 0 9.70 0a4.85 4.85 0 1 0 -9.70 0M648.5 220.5a4.85 4.85 0 1 0 9.70 0a4.85 4.85 0 1 0 -9.70 0M660.8 210.1a4.85 4.85 0 1 0 9.70 0a4.85 4.85 0 1 0 -9.70 0M665.6 213.5a4.85 4.85 0 1 0 9.70 0a4.85 4.85 0 1 0 -9.70 0M637.0 223.6a4.85 4.85 0 1 0 9.70 0a4.85 4.85 0 1 0 -9.70 0M658.8 205.4a4.85 4.85 0 1 0 9.70 0a4.85 4.85 0 1 0 -9.70 0M652.2 214.3a4.85 4.85 0 1 0 9.70 0a4.85 4.85 0 1 0 -9.70 0M673.2 210.2a4.85 4.85 0 1 0 9.70 0a4.85 4.85 0 1 0 -9.70 0M683.9 192.3a4.85 4.85 0 1 0 9.70 0a4.85 4.85 0 1 0 -9.70 0M672.0 209.5a4.85 4.85 0 1 0 9.70 0a4.85 4.85 0 1 0 -9.70 0M675.0 211.4a4.85 4.85 0 1 0 9.70 0a4.85 4.85 0 1 0 -9.70 0M672.0 200.5a4.85 4.85 0 1 0 9.70 0a4.85 4.85 0 1 0 -9.70 0M650.5 216.2a4.85 4.85 0 1 0 9.70 0a4.85 4.85 0 1 0 -9.70 0M657.7 215.1a4.85 4.85 0 1 0 9.70 0a4.85 4.85 0 1 0 -9.70 0M685.8 199.6a4.85 4.85 0 1 0 9.70 0a4.85 4.85 0 1 0 -9.70 0M691.9 191.6a4.85 4.85 0 1 0 9.70 0a4.85 4.85 0 1 0 -9.70 0M646.0 209.8a4.85 4.85 0 1 0 9.70 0a4.85 4.85 0 1 0 -9.70 0M635.8 218.3a4.85 4.85 0 1 0 9.70 0a4.85 4.85 0 1 0 -9.70 0M692.8 190.4a4.85 4.85 0 1 0 9.70 0a4.85 4.85 0 1 0 -9.70 0M686.7 203.3a4.85 4.85 0 1 0 9.70 0a4.85 4.85 0 1 0 -9.70 0M671.6 201.1a4.85 4.85 0 1 0 9.70 0a4.85 4.85 0 1 0 -9.70 0M684.2 192.2a4.85 4.85 0 1 0 9.70 0a4.85 4.85 0 1 0 -9.70 0M670.8 204.0a4.85 4.85 0 1 0 9.70 0a4.85 4.85 0 1 0 -9.70 0M689.4 192.3a4.85 4.85 0 1 0 9.70 0a4.85 4.85 0 1 0 -9.70 0M649.8 207.8a4.85 4.85 0 1 0 9.70 0a4.85 4.85 0 1 0 -9.70 0M661.8 210.6a4.85 4.85 0 1 0 9.70 0a4.85 4.85 0 1 0 -9.70 0M675.4 210.4a4.85 4.85 0 1 0 9.70 0a4.85 4.85 0 1 0 -9.70 0M648.1 213.8a4.85 4.85 0 1 0 9.70 0a4.85 4.85 0 1 0 -9.70 0M678.0 206.5a4.85 4.85 0 1 0 9.70 0a4.85 4.85 0 1 0 -9.70 0M650.9 207.0a4.85 4.85 0 1 0 9.70 0a4.85 4.85 0 1 0 -9.70 0M677.8 204.0a4.85 4.85 0 1 0 9.70 0a4.85 4.85 0 1 0 -9.70 0M683.4 196.1a4.85 4.85 0 1 0 9.70 0a4.85 4.85 0 1 0 -9.70 0M660.6 212.0a4.85 4.85 0 1 0 9.70 0a4.85 4.85 0 1 0 -9.70 0M694.6 198.4a4.85 4.85 0 1 0 9.70 0a4.85 4.85 0 1 0 -9.70 0M673.0 204.6a4.85 4.85 0 1 0 9.70 0a4.85 4.85 0 1 0 -9.70 0M680.5 197.1a4.85 4.85 0 1 0 9.70 0a4.85 4.85 0 1 0 -9.70 0M636.4 225.1a4.85 4.85 0 1 0 9.70 0a4.85 4.85 0 1 0 -9.70 0M641.9 230.4a4.85 4.85 0 1 0 9.70 0a4.85 4.85 0 1 0 -9.70 0M677.8 205.7a4.85 4.85 0 1 0 9.70 0a4.85 4.85 0 1 0 -9.70 0M691.7 195.4a4.85 4.85 0 1 0 9.70 0a4.85 4.85 0 1 0 -9.70 0M672.8 208.9a4.85 4.85 0 1 0 9.70 0a4.85 4.85 0 1 0 -9.70 0M689.9 194.4a4.85 4.85 0 1 0 9.70 0a4.85 4.85 0 1 0 -9.70 0M638.7 222.0a4.85 4.85 0 1 0 9.70 0a4.85 4.85 0 1 0 -9.70 0M688.6 200.7a4.85 4.85 0 1 0 9.70 0a4.85 4.85 0 1 0 -9.70 0M687.8 186.8a4.85 4.85 0 1 0 9.70 0a4.85 4.85 0 1 0 -9.70 0M672.9 198.1a4.85 4.85 0 1 0 9.70 0a4.85 4.85 0 1 0 -9.70 0M660.9 202.3a4.85 4.85 0 1 0 9.70 0a4.85 4.85 0 1 0 -9.70 0M677.4 191.7a4.85 4.85 0 1 0 9.70 0a4.85 4.85 0 1 0 -9.70 0M649.8 215.8a4.85 4.85 0 1 0 9.70 0a4.85 4.85 0 1 0 -9.70 0M675.2 199.6a4.85 4.85 0 1 0 9.70 0a4.85 4.85 0 1 0 -9.70 0M676.8 202.5a4.85 4.85 0 1 0 9.70 0a4.85 4.85 0 1 0 -9.70 0M667.5 209.5a4.85 4.85 0 1 0 9.70 0a4.85 4.85 0 1 0 -9.70 0M650.8 210.5a4.85 4.85 0 1 0 9.70 0a4.85 4.85 0 1 0 -9.70 0M635.3 222.4a4.85 4.85 0 1 0 9.70 0a4.85 4.85 0 1 0 -9.70 0M646.9 212.5a4.85 4.85 0 1 0 9.70 0a4.85 4.85 0 1 0 -9.70 0M685.2 188.8a4.85 4.85 0 1 0 9.70 0a4.85 4.85 0 1 0 -9.70 0M647.9 215.4a4.85 4.85 0 1 0 9.70 0a4.85 4.85 0 1 0 -9.70 0M639.6 229.9a4.85 4.85 0 1 0 9.70 0a4.85 4.85 0 1 0 -9.70 0M649.9 209.7a4.85 4.85 0 1 0 9.70 0a4.85 4.85 0 1 0 -9.70 0M666.3 210.1a4.85 4.85 0 1 0 9.70 0a4.85 4.85 0 1 0 -9.70 0M670.3 200.3a4.85 4.85 0 1 0 9.70 0a4.85 4.85 0 1 0 -9.70 0M687.8 200.0a4.85 4.85 0 1 0 9.70 0a4.85 4.85 0 1 0 -9.70 0M686.4 191.7a4.85 4.85 0 1 0 9.70 0a4.85 4.85 0 1 0 -9.70 0M693.3 197.0a4.85 4.85 0 1 0 9.70 0a4.85 4.85 0 1 0 -9.70 0M688.2 188.1a4.85 4.85 0 1 0 9.70 0a4.85 4.85 0 1 0 -9.70 0M662.2 220.3a4.85 4.85 0 1 0 9.70 0a4.85 4.85 0 1 0 -9.70 0M643.7 224.1a4.85 4.85 0 1 0 9.70 0a4.85 4.85 0 1 0 -9.70 0M692.5 190.5a4.85 4.85 0 1 0 9.70 0a4.85 4.85 0 1 0 -9.70 0M648.9 218.5a4.85 4.85 0 1 0 9.70 0a4.85 4.85 0 1 0 -9.70 0M672.5 208.3a4.85 4.85 0 1 0 9.70 0a4.85 4.85 0 1 0 -9.70 0M651.0 216.5a4.85 4.85 0 1 0 9.70 0a4.85 4.85 0 1 0 -9.70 0M684.2 194.0a4.85 4.85 0 1 0 9.70 0a4.85 4.85 0 1 0 -9.70 0M647.2 221.2a4.85 4.85 0 1 0 9.70 0a4.85 4.85 0 1 0 -9.70 0M660.4 216.7a4.85 4.85 0 1 0 9.70 0a4.85 4.85 0 1 0 -9.70 0M648.3 219.1a4.85 4.85 0 1 0 9.70 0a4.85 4.85 0 1 0 -9.70 0M686.8 198.7a4.85 4.85 0 1 0 9.70 0a4.85 4.85 0 1 0 -9.70 0M672.3 210.2a4.85 4.85 0 1 0 9.70 0a4.85 4.85 0 1 0 -9.70 0M673.0 203.9a4.85 4.85 0 1 0 9.70 0a4.85 4.85 0 1 0 -9.70 0M654.0 207.1a4.85 4.85 0 1 0 9.70 0a4.85 4.85 0 1 0 -9.70 0M645.7 213.6a4.85 4.85 0 1 0 9.70 0a4.85 4.85 0 1 0 -9.70 0M686.6 196.8a4.85 4.85 0 1 0 9.70 0a4.85 4.85 0 1 0 -9.70 0M681.0 205.8a4.85 4.85 0 1 0 9.70 0a4.85 4.85 0 1 0 -9.70 0M679.2 193.7a4.85 4.85 0 1 0 9.70 0a4.85 4.85 0 1 0 -9.70 0M695.0 188.4a4.85 4.85 0 1 0 9.70 0a4.85 4.85 0 1 0 -9.70 0M668.7 207.4a4.85 4.85 0 1 0 9.70 0a4.85 4.85 0 1 0 -9.70 0M645.9 213.9a4.85 4.85 0 1 0 9.70 0a4.85 4.85 0 1 0 -9.70 0M671.7 205.3a4.85 4.85 0 1 0 9.70 0a4.85 4.85 0 1 0 -9.70 0M652.4 210.3a4.85 4.85 0 1 0 9.70 0a4.85 4.85 0 1 0 -9.70 0M665.9 210.7a4.85 4.85 0 1 0 9.70 0a4.85 4.85 0 1 0 -9.70 0M662.7 207.1a4.85 4.85 0 1 0 9.70 0a4.85 4.85 0 1 0 -9.70 0M669.0 198.7a4.85 4.85 0 1 0 9.70 0a4.85 4.85 0 1 0 -9.70 0M690.4 195.1a4.85 4.85 0 1 0 9.70 0a4.85 4.85 0 1 0 -9.70 0M683.8 203.4a4.85 4.85 0 1 0 9.70 0a4.85 4.85 0 1 0 -9.70 0M660.1 219.6a4.85 4.85 0 1 0 9.70 0a4.85 4.85 0 1 0 -9.70 0M684.2 207.3a4.85 4.85 0 1 0 9.70 0a4.85 4.85 0 1 0 -9.70 0M686.8 200.7a4.85 4.85 0 1 0 9.70 0a4.85 4.85 0 1 0 -9.70 0M681.6 200.2a4.85 4.85 0 1 0 9.70 0a4.85 4.85 0 1 0 -9.70 0M668.2 203.1a4.85 4.85 0 1 0 9.70 0a4.85 4.85 0 1 0 -9.70 0M689.1 193.6a4.85 4.85 0 1 0 9.70 0a4.85 4.85 0 1 0 -9.70 0M664.7 210.2a4.85 4.85 0 1 0 9.70 0a4.85 4.85 0 1 0 -9.70 0M641.5 221.0a4.85 4.85 0 1 0 9.70 0a4.85 4.85 0 1 0 -9.70 0M651.5 213.7a4.85 4.85 0 1 0 9.70 0a4.85 4.85 0 1 0 -9.70 0M674.6 201.9a4.85 4.85 0 1 0 9.70 0a4.85 4.85 0 1 0 -9.70 0M657.9 212.7a4.85 4.85 0 1 0 9.70 0a4.85 4.85 0 1 0 -9.70 0M660.5 205.9a4.85 4.85 0 1 0 9.70 0a4.85 4.85 0 1 0 -9.70 0M659.3 212.6a4.85 4.85 0 1 0 9.70 0a4.85 4.85 0 1 0 -9.70 0M646.7 228.9a4.85 4.85 0 1 0 9.70 0a4.85 4.85 0 1 0 -9.70 0M640.8 219.4a4.85 4.85 0 1 0 9.70 0a4.85 4.85 0 1 0 -9.70 0M638.1 213.8a4.85 4.85 0 1 0 9.70 0a4.85 4.85 0 1 0 -9.70 0M675.5 195.5a4.85 4.85 0 1 0 9.70 0a4.85 4.85 0 1 0 -9.70 0M654.6 207.8a4.85 4.85 0 1 0 9.70 0a4.85 4.85 0 1 0 -9.70 0M662.6 206.7a4.85 4.85 0 1 0 9.70 0a4.85 4.85 0 1 0 -9.70 0M691.3 190.2a4.85 4.85 0 1 0 9.70 0a4.85 4.85 0 1 0 -9.70 0M672.7 205.0a4.85 4.85 0 1 0 9.70 0a4.85 4.85 0 1 0 -9.70 0M683.8 203.6a4.85 4.85 0 1 0 9.70 0a4.85 4.85 0 1 0 -9.70 0M680.9 198.8a4.85 4.85 0 1 0 9.70 0a4.85 4.85 0 1 0 -9.70 0M692.4 187.8a4.85 4.85 0 1 0 9.70 0a4.85 4.85 0 1 0 -9.70 0M639.2 229.9a4.85 4.85 0 1 0 9.70 0a4.85 4.85 0 1 0 -9.70 0M658.2 213.7a4.85 4.85 0 1 0 9.70 0a4.85 4.85 0 1 0 -9.70 0M692.1 193.4a4.85 4.85 0 1 0 9.70 0a4.85 4.85 0 1 0 -9.70 0M663.0 203.8a4.85 4.85 0 1 0 9.70 0a4.85 4.85 0 1 0 -9.70 0M692.0 188.9a4.85 4.85 0 1 0 9.70 0a4.85 4.85 0 1 0 -9.70 0M646.2 214.1a4.85 4.85 0 1 0 9.70 0a4.85 4.85 0 1 0 -9.70 0M638.8 226.1a4.85 4.85 0 1 0 9.70 0a4.85 4.85 0 1 0 -9.70 0M688.9 192.7a4.85 4.85 0 1 0 9.70 0a4.85 4.85 0 1 0 -9.70 0M659.8 200.0a4.85 4.85 0 1 0 9.70 0a4.85 4.85 0 1 0 -9.70 0M665.6 205.9a4.85 4.85 0 1 0 9.70 0a4.85 4.85 0 1 0 -9.70 0M691.3 192.3a4.85 4.85 0 1 0 9.70 0a4.85 4.85 0 1 0 -9.70 0M648.3 209.7a4.85 4.85 0 1 0 9.70 0a4.85 4.85 0 1 0 -9.70 0M693.2 197.4a4.85 4.85 0 1 0 9.70 0a4.85 4.85 0 1 0 -9.70 0M658.9 203.8a4.85 4.85 0 1 0 9.70 0a4.85 4.85 0 1 0 -9.70 0M650.0 215.6a4.85 4.85 0 1 0 9.70 0a4.85 4.85 0 1 0 -9.70 0M649.2 216.9a4.85 4.85 0 1 0 9.70 0a4.85 4.85 0 1 0 -9.70 0M666.3 208.9a4.85 4.85 0 1 0 9.70 0a4.85 4.85 0 1 0 -9.70 0M663.2 204.2a4.85 4.85 0 1 0 9.70 0a4.85 4.85 0 1 0 -9.70 0M688.3 198.7a4.85 4.85 0 1 0 9.70 0a4.85 4.85 0 1 0 -9.70 0M638.2 221.4a4.85 4.85 0 1 0 9.70 0a4.85 4.85 0 1 0 -9.70 0M637.8 224.7a4.85 4.85 0 1 0 9.70 0a4.85 4.85 0 1 0 -9.70 0M644.3 219.7a4.85 4.85 0 1 0 9.70 0a4.85 4.85 0 1 0 -9.70 0M671.5 202.9a4.85 4.85 0 1 0 9.70 0a4.85 4.85 0 1 0 -9.70 0M682.0 199.1a4.85 4.85 0 1 0 9.70 0a4.85 4.85 0 1 0 -9.70 0M663.9 205.4a4.85 4.85 0 1 0 9.70 0a4.85 4.85 0 1 0 -9.70 0M672.0 203.4a4.85 4.85 0 1 0 9.70 0a4.85 4.85 0 1 0 -9.70 0M673.7 198.6a4.85 4.85 0 1 0 9.70 0a4.85 4.85 0 1 0 -9.70 0M636.3 231.4a4.85 4.85 0 1 0 9.70 0a4.85 4.85 0 1 0 -9.70 0M649.9 212.4a4.85 4.85 0 1 0 9.70 0a4.85 4.85 0 1 0 -9.70 0M695.0 189.9a4.85 4.85 0 1 0 9.70 0a4.85 4.85 0 1 0 -9.70 0M655.0 216.8a4.85 4.85 0 1 0 9.70 0a4.85 4.85 0 1 0 -9.70 0M691.9 192.6a4.85 4.85 0 1 0 9.70 0a4.85 4.85 0 1 0 -9.70 0M664.7 205.9a4.85 4.85 0 1 0 9.70 0a4.85 4.85 0 1 0 -9.70 0M648.5 223.7a4.85 4.85 0 1 0 9.70 0a4.85 4.85 0 1 0 -9.70 0M635.3 233.4a4.85 4.85 0 1 0 9.70 0a4.85 4.85 0 1 0 -9.70 0M648.2 216.3a4.85 4.85 0 1 0 9.70 0a4.85 4.85 0 1 0 -9.70 0M654.4 210.6a4.85 4.85 0 1 0 9.70 0a4.85 4.85 0 1 0 -9.70 0M661.5 218.3a4.85 4.85 0 1 0 9.70 0a4.85 4.85 0 1 0 -9.70 0M662.0 212.4a4.85 4.85 0 1 0 9.70 0a4.85 4.85 0 1 0 -9.70 0M668.1 208.5a4.85 4.85 0 1 0 9.70 0a4.85 4.85 0 1 0 -9.70 0M663.6 209.1a4.85 4.85 0 1 0 9.70 0a4.85 4.85 0 1 0 -9.70 0M637.1 227.3a4.85 4.85 0 1 0 9.70 0a4.85 4.85 0 1 0 -9.70 0M651.2 218.2a4.85 4.85 0 1 0 9.70 0a4.85 4.85 0 1 0 -9.70 0M692.9 192.0a4.85 4.85 0 1 0 9.70 0a4.85 4.85 0 1 0 -9.70 0M636.8 223.7a4.85 4.85 0 1 0 9.70 0a4.85 4.85 0 1 0 -9.70 0M679.2 195.7a4.85 4.85 0 1 0 9.70 0a4.85 4.85 0 1 0 -9.70 0M663.7 213.0a4.85 4.85 0 1 0 9.70 0a4.85 4.85 0 1 0 -9.70 0M677.6 201.8a4.85 4.85 0 1 0 9.70 0a4.85 4.85 0 1 0 -9.70 0M655.1 208.8a4.85 4.85 0 1 0 9.70 0a4.85 4.85 0 1 0 -9.70 0M657.4 206.5a4.85 4.85 0 1 0 9.70 0a4.85 4.85 0 1 0 -9.70 0M666.2 202.7a4.85 4.85 0 1 0 9.70 0a4.85 4.85 0 1 0 -9.70 0M689.7 202.9a4.85 4.85 0 1 0 9.70 0a4.85 4.85 0 1 0 -9.70 0M654.9 217.8a4.85 4.85 0 1 0 9.70 0a4.85 4.85 0 1 0 -9.70 0M640.3 223.1a4.85 4.85 0 1 0 9.70 0a4.85 4.85 0 1 0 -9.70 0M637.4 226.9a4.85 4.85 0 1 0 9.70 0a4.85 4.85 0 1 0 -9.70 0M730.4 178.3a4.85 4.85 0 1 0 9.70 0a4.85 4.85 0 1 0 -9.70 0M767.8 143.0a4.85 4.85 0 1 0 9.70 0a4.85 4.85 0 1 0 -9.70 0M718.5 181.4a4.85 4.85 0 1 0 9.70 0a4.85 4.85 0 1 0 -9.70 0M770.9 138.1a4.85 4.85 0 1 0 9.70 0a4.85 4.85 0 1 0 -9.70 0M770.3 140.4a4.85 4.85 0 1 0 9.70 0a4.85 4.85 0 1 0 -9.70 0M778.0 143.3a4.85 4.85 0 1 0 9.70 0a4.85 4.85 0 1 0 -9.70 0M743.6 157.3a4.85 4.85 0 1 0 9.70 0a4.85 4.85 0 1 0 -9.70 0M717.4 191.8a4.85 4.85 0 1 0 9.70 0a4.85 4.85 0 1 0 -9.70 0M758.3 145.2a4.85 4.85 0 1 0 9.70 0a4.85 4.85 0 1 0 -9.70 0M786.2 143.2a4.85 4.85 0 1 0 9.70 0a4.85 4.85 0 1 0 -9.70 0M726.1 176.1a4.85 4.85 0 1 0 9.70 0a4.85 4.85 0 1 0 -9.70 0M697.2 193.6a4.85 4.85 0 1 0 9.70 0a4.85 4.85 0 1 0 -9.70 0M713.6 184.7a4.85 4.85 0 1 0 9.70 0a4.85 4.85 0 1 0 -9.70 0M788.4 138.6a4.85 4.85 0 1 0 9.70 0a4.85 4.85 0 1 0 -9.70 0M695.8 192.6a4.85 4.85 0 1 0 9.70 0a4.85 4.85 0 1 0 -9.70 0M700.5 187.4a4.85 4.85 0 1 0 9.70 0a4.85 4.85 0 1 0 -9.70 0M705.0 184.1a4.85 4.85 0 1 0 9.70 0a4.85 4.85 0 1 0 -9.70 0M784.3 130.6a4.85 4.85 0 1 0 9.70 0a4.85 4.85 0 1 0 -9.70 0M733.5 161.3a4.85 4.85 0 1 0 9.70 0a4.85 4.85 0 1 0 -9.70 0M764.3 151.4a4.85 4.85 0 1 0 9.70 0a4.85 4.85 0 1 0 -9.70 0M765.7 145.0a4.85 4.85 0 1 0 9.70 0a4.85 4.85 0 1 0 -9.70 0M738.6 169.2a4.85 4.85 0 1 0 9.70 0a4.85 4.85 0 1 0 -9.70 0M768.4 158.6a4.85 4.85 0 1 0 9.70 0a4.85 4.85 0 1 0 -9.70 0M741.3 162.7a4.85 4.85 0 1 0 9.70 0a4.85 4.85 0 1 0 -9.70 0M749.3 169.5a4.85 4.85 0 1 0 9.70 0a4.85 4.85 0 1 0 -9.70 0M725.8 178.6a4.85 4.85 0 1 0 9.70 0a4.85 4.85 0 1 0 -9.70 0M695.3 190.0a4.85 4.85 0 1 0 9.70 0a4.85 4.85 0 1 0 -9.70 0M754.5 161.7a4.85 4.85 0 1 0 9.70 0a4.85 4.85 0 1 0 -9.70 0M721.7 182.9a4.85 4.85 0 1 0 9.70 0a4.85 4.85 0 1 0 -9.70 0M722.7 175.0a4.85 4.85 0 1 0 9.70 0a4.85 4.85 0 1 0 -9.70 0M783.0 132.4a4.85 4.85 0 1 0 9.70 0a4.85 4.85 0 1 0 -9.70 0M731.3 176.2a4.85 4.85 0 1 0 9.70 0a4.85 4.85 0 1 0 -9.70 0M705.4 188.8a4.85 4.85 0 1 0 9.70 0a4.85 4.85 0 1 0 -9.70 0M758.2 153.8a4.85 4.85 0 1 0 9.70 0a4.85 4.85 0 1 0 -9.70 0M749.0 162.2a4.85 4.85 0 1 0 9.70 0a4.85 4.85 0 1 0 -9.70 0M700.9 190.7a4.85 4.85 0 1 0 9.70 0a4.85 4.85 0 1 0 -9.70 0M730.0 163.7a4.85 4.85 0 1 0 9.70 0a4.85 4.85 0 1 0 -9.70 0M756.3 159.0a4.85 4.85 0 1 0 9.70 0a4.85 4.85 0 1 0 -9.70 0M723.1 177.8a4.85 4.85 0 1 0 9.70 0a4.85 4.85 0 1 0 -9.70 0M793.8 142.6a4.85 4.85 0 1 0 9.70 0a4.85 4.85 0 1 0 -9.70 0M775.0 139.9a4.85 4.85 0 1 0 9.70 0a4.85 4.85 0 1 0 -9.70 0M745.6 166.9a4.85 4.85 0 1 0 9.70 0a4.85 4.85 0 1 0 -9.70 0M786.7 130.9a4.85 4.85 0 1 0 9.70 0a4.85 4.85 0 1 0 -9.70 0M698.6 192.0a4.85 4.85 0 1 0 9.70 0a4.85 4.85 0 1 0 -9.70 0M717.6 179.9a4.85 4.85 0 1 0 9.70 0a4.85 4.85 0 1 0 -9.70 0M786.6 136.0a4.85 4.85 0 1 0 9.70 0a4.85 4.85 0 1 0 -9.70 0M746.0 164.6a4.85 4.85 0 1 0 9.70 0a4.85 4.85 0 1 0 -9.70 0M712.2 188.5a4.85 4.85 0 1 0 9.70 0a4.85 4.85 0 1 0 -9.70 0M752.2 152.7a4.85 4.85 0 1 0 9.70 0a4.85 4.85 0 1 0 -9.70 0M768.2 157.4a4.85 4.85 0 1 0 9.70 0a4.85 4.85 0 1 0 -9.70 0M755.5 166.9a4.85 4.85 0 1 0 9.70 0a4.85 4.85 0 1 0 -9.70 0M699.7 186.6a4.85 4.85 0 1 0 9.70 0a4.85 4.85 0 1 0 -9.70 0M698.8 194.7a4.85 4.85 0 1 0 9.70 0a4.85 4.85 0 1 0 -9.70 0M735.9 169.7a4.85 4.85 0 1 0 9.70 0a4.85 4.85 0 1 0 -9.70 0M696.8 195.7a4.85 4.85 0 1 0 9.70 0a4.85 4.85 0 1 0 -9.70 0M703.6 184.4a4.85 4.85 0 1 0 9.70 0a4.85 4.85 0 1 0 -9.70 0M759.4 160.7a4.85 4.85 0 1 0 9.70 0a4.85 4.85 0 1 0 -9.70 0M739.0 169.9a4.85 4.85 0 1 0 9.70 0a4.85 4.85 0 1 0 -9.70 0M703.7 189.0a4.85 4.85 0 1 0 9.70 0a4.85 4.85 0 1 0 -9.70 0M782.8 141.6a4.85 4.85 0 1 0 9.70 0a4.85 4.85 0 1 0 -9.70 0M732.0 172.6a4.85 4.85 0 1 0 9.70 0a4.85 4.85 0 1 0 -9.70 0M783.5 142.7a4.85 4.85 0 1 0 9.70 0a4.85 4.85 0 1 0 -9.70 0M756.1 156.2a4.85 4.85 0 1 0 9.70 0a4.85 4.85 0 1 0 -9.70 0M757.2 163.5a4.85 4.85 0 1 0 9.70 0a4.85 4.85 0 1 0 -9.70 0M737.6 162.3a4.85 4.85 0 1 0 9.70 0a4.85 4.85 0 1 0 -9.70 0M762.3 144.2a4.85 4.85 0 1 0 9.70 0a4.85 4.85 0 1 0 -9.70 0M719.5 180.8a4.85 4.85 0 1 0 9.70 0a4.85 4.85 0 1 0 -9.70 0M720.9 181.5a4.85 4.85 0 1 0 9.70 0a4.85 4.85 0 1 0 -9.70 0M782.6 135.9a4.85 4.85 0 1 0 9.70 0a4.85 4.85 0 1 0 -9.70 0M715.5 177.5a4.85 4.85 0 1 0 9.70 0a4.85 4.85 0 1 0 -9.70 0M733.8 172.5a4.85 4.85 0 1 0 9.70 0a4.85 4.85 0 1 0 -9.70 0M769.6 143.4a4.85 4.85 0 1 0 9.70 0a4.85 4.85 0 1 0 -9.70 0M728.2 171.6a4.85 4.85 0 1 0 9.70 0a4.85 4.85 0 1 0 -9.70 0M731.7 176.7a4.85 4.85 0 1 0 9.70 0a4.85 4.85 0 1 0 -9.70 0M786.1 140.9a4.85 4.85 0 1 0 9.70 0a4.85 4.85 0 1 0 -9.70 0M715.8 192.4a4.85 4.85 0 1 0 9.70 0a4.85 4.85 0 1 0 -9.70 0M719.3 166.2a4.85 4.85 0 1 0 9.70 0a4.85 4.85 0 1 0 -9.70 0M783.8 143.4a4.85 4.85 0 1 0 9.70 0a4.85 4.85 0 1 0 -9.70 0M722.7 170.3a4.85 4.85 0 1 0 9.70 0a4.85 4.85 0 1 0 -9.70 0M728.2 170.9a4.85 4.85 0 1 0 9.70 0a4.85 4.85 0 1 0 -9.70 0M783.3 139.4a4.85 4.85 0 1 0 9.70 0a4.85 4.85 0 1 0 -9.70 0M727.3 174.5a4.85 4.85 0 1 0 9.70 0a4.85 4.85 0 1 0 -9.70 0M794.8 132.6a4.85 4.85 0 1 0 9.70 0a4.85 4.85 0 1 0 -9.70 0M777.3 139.3a4.85 4.85 0 1 0 9.70 0a4.85 4.85 0 1 0 -9.70 0M779.8 139.0a4.85 4.85 0 1 0 9.70 0a4.85 4.85 0 1 0 -9.70 0M717.7 177.2a4.85 4.85 0 1 0 9.70 0a4.85 4.85 0 1 0 -9.70 0M716.9 182.1a4.85 4.85 0 1 0 9.70 0a4.85 4.85 0 1 0 -9.70 0M770.4 150.0a4.85 4.85 0 1 0 9.70 0a4.85 4.85 0 1 0 -9.70 0M777.8 141.5a4.85 4.85 0 1 0 9.70 0a4.85 4.85 0 1 0 -9.70 0M717.6 179.9a4.85 4.85 0 1 0 9.70 0a4.85 4.85 0 1 0 -9.70 0M715.7 187.2a4.85 4.85 0 1 0 9.70 0a4.85 4.85 0 1 0 -9.70 0M719.5 183.8a4.85 4.85 0 1 0 9.70 0a4.85 4.85 0 1 0 -9.70 0M708.9 198.2a4.85 4.85 0 1 0 9.70 0a4.85 4.85 0 1 0 -9.70 0M737.3 178.9a4.85 4.85 0 1 0 9.70 0a4.85 4.85 0 1 0 -9.70 0M745.4 159.8a4.85 4.85 0 1 0 9.70 0a4.85 4.85 0 1 0 -9.70 0M758.0 154.9a4.85 4.85 0 1 0 9.70 0a4.85 4.85 0 1 0 -9.70 0M700.7 179.2a4.85 4.85 0 1 0 9.70 0a4.85 4.85 0 1 0 -9.70 0M714.4 175.8a4.85 4.85 0 1 0 9.70 0a4.85 4.85 0 1 0 -9.70 0M706.9 191.7a4.85 4.85 0 1 0 9.70 0a4.85 4.85 0 1 0 -9.70 0M722.2 178.7a4.85 4.85 0 1 0 9.70 0a4.85 4.85 0 1 0 -9.70 0M713.7 180.4a4.85 4.85 0 1 0 9.70 0a4.85 4.85 0 1 0 -9.70 0M788.8 129.5a4.85 4.85 0 1 0 9.70 0a4.85 4.85 0 1 0 -9.70 0M732.5 169.3a4.85 4.85 0 1 0 9.70 0a4.85 4.85 0 1 0 -9.70 0M709.0 182.0a4.85 4.85 0 1 0 9.70 0a4.85 4.85 0 1 0 -9.70 0M761.8 147.5a4.85 4.85 0 1 0 9.70 0a4.85 4.85 0 1 0 -9.70 0M792.4 126.3a4.85 4.85 0 1 0 9.70 0a4.85 4.85 0 1 0 -9.70 0M774.6 140.0a4.85 4.85 0 1 0 9.70 0a4.85 4.85 0 1 0 -9.70 0M760.0 149.5a4.85 4.85 0 1 0 9.70 0a4.85 4.85 0 1 0 -9.70 0M733.0 171.2a4.85 4.85 0 1 0 9.70 0a4.85 4.85 0 1 0 -9.70 0M735.5 178.3a4.85 4.85 0 1 0 9.70 0a4.85 4.85 0 1 0 -9.70 0M725.4 172.3a4.85 4.85 0 1 0 9.70 0a4.85 4.85 0 1 0 -9.70 0M775.8 146.3a4.85 4.85 0 1 0 9.70 0a4.85 4.85 0 1 0 -9.70 0M775.5 134.7a4.85 4.85 0 1 0 9.70 0a4.85 4.85 0 1 0 -9.70 0M744.1 153.5a4.85 4.85 0 1 0 9.70 0a4.85 4.85 0 1 0 -9.70 0M781.3 143.7a4.85 4.85 0 1 0 9.70 0a4.85 4.85 0 1 0 -9.70 0M760.4 144.3a4.85 4.85 0 1 0 9.70 0a4.85 4.85 0 1 0 -9.70 0M763.7 142.6a4.85 4.85 0 1 0 9.70 0a4.85 4.85 0 1 0 -9.70 0M722.0 169.6a4.85 4.85 0 1 0 9.70 0a4.85 4.85 0 1 0 -9.70 0M719.3 187.8a4.85 4.85 0 1 0 9.70 0a4.85 4.85 0 1 0 -9.70 0M717.9 174.9a4.85 4.85 0 1 0 9.70 0a4.85 4.85 0 1 0 -9.70 0M786.4 125.7a4.85 4.85 0 1 0 9.70 0a4.85 4.85 0 1 0 -9.70 0M775.2 144.6a4.85 4.85 0 1 0 9.70 0a4.85 4.85 0 1 0 -9.70 0M785.1 137.9a4.85 4.85 0 1 0 9.70 0a4.85 4.85 0 1 0 -9.70 0M777.4 143.1a4.85 4.85 0 1 0 9.70 0a4.85 4.85 0 1 0 -9.70 0M775.6 141.8a4.85 4.85 0 1 0 9.70 0a4.85 4.85 0 1 0 -9.70 0M738.8 153.8a4.85 4.85 0 1 0 9.70 0a4.85 4.85 0 1 0 -9.70 0M771.7 148.5a4.85 4.85 0 1 0 9.70 0a4.85 4.85 0 1 0 -9.70 0M711.8 189.8a4.85 4.85 0 1 0 9.70 0a4.85 4.85 0 1 0 -9.70 0M760.7 164.5a4.85 4.85 0 1 0 9.70 0a4.85 4.85 0 1 0 -9.70 0M699.4 186.9a4.85 4.85 0 1 0 9.70 0a4.85 4.85 0 1 0 -9.70 0M791.7 132.2a4.85 4.85 0 1 0 9.70 0a4.85 4.85 0 1 0 -9.70 0M783.1 134.7a4.85 4.85 0 1 0 9.70 0a4.85 4.85 0 1 0 -9.70 0M711.6 187.9a4.85 4.85 0 1 0 9.70 0a4.85 4.85 0 1 0 -9.70 0M772.0 145.0a4.85 4.85 0 1 0 9.70 0a4.85 4.85 0 1 0 -9.70 0M777.5 146.2a4.85 4.85 0 1 0 9.70 0a4.85 4.85 0 1 0 -9.70 0M699.4 184.1a4.85 4.85 0 1 0 9.70 0a4.85 4.85 0 1 0 -9.70 0M751.8 154.0a4.85 4.85 0 1 0 9.70 0a4.85 4.85 0 1 0 -9.70 0M737.2 164.4a4.85 4.85 0 1 0 9.70 0a4.85 4.85 0 1 0 -9.70 0M757.0 152.5a4.85 4.85 0 1 0 9.70 0a4.85 4.85 0 1 0 -9.70 0M783.8 142.2a4.85 4.85 0 1 0 9.70 0a4.85 4.85 0 1 0 -9.70 0M767.4 145.2a4.85 4.85 0 1 0 9.70 0a4.85 4.85 0 1 0 -9.70 0M716.3 173.3a4.85 4.85 0 1 0 9.70 0a4.85 4.85 0 1 0 -9.70 0M750.6 159.3a4.85 4.85 0 1 0 9.70 0a4.85 4.85 0 1 0 -9.70 0M751.3 154.7a4.85 4.85 0 1 0 9.70 0a4.85 4.85 0 1 0 -9.70 0M696.3 191.9a4.85 4.85 0 1 0 9.70 0a4.85 4.85 0 1 0 -9.70 0M708.3 179.9a4.85 4.85 0 1 0 9.70 0a4.85 4.85 0 1 0 -9.70 0M731.1 169.9a4.85 4.85 0 1 0 9.70 0a4.85 4.85 0 1 0 -9.70 0M713.0 176.8a4.85 4.85 0 1 0 9.70 0a4.85 4.85 0 1 0 -9.70 0M718.9 174.9a4.85 4.85 0 1 0 9.70 0a4.85 4.85 0 1 0 -9.70 0M762.8 154.8a4.85 4.85 0 1 0 9.70 0a4.85 4.85 0 1 0 -9.70 0M791.3 136.7a4.85 4.85 0 1 0 9.70 0a4.85 4.85 0 1 0 -9.70 0M741.0 170.1a4.85 4.85 0 1 0 9.70 0a4.85 4.85 0 1 0 -9.70 0M759.8 152.7a4.85 4.85 0 1 0 9.70 0a4.85 4.85 0 1 0 -9.70 0M771.3 152.4a4.85 4.85 0 1 0 9.70 0a4.85 4.85 0 1 0 -9.70 0M762.4 157.1a4.85 4.85 0 1 0 9.70 0a4.85 4.85 0 1 0 -9.70 0M760.9 153.6a4.85 4.85 0 1 0 9.70 0a4.85 4.85 0 1 0 -9.70 0M695.3 180.5a4.85 4.85 0 1 0 9.70 0a4.85 4.85 0 1 0 -9.70 0M782.1 133.9a4.85 4.85 0 1 0 9.70 0a4.85 4.85 0 1 0 -9.70 0M711.3 194.1a4.85 4.85 0 1 0 9.70 0a4.85 4.85 0 1 0 -9.70 0M713.2 179.5a4.85 4.85 0 1 0 9.70 0a4.85 4.85 0 1 0 -9.70 0M746.1 162.1a4.85 4.85 0 1 0 9.70 0a4.85 4.85 0 1 0 -9.70 0M753.8 160.9a4.85 4.85 0 1 0 9.70 0a4.85 4.85 0 1 0 -9.70 0M770.7 162.0a4.85 4.85 0 1 0 9.70 0a4.85 4.85 0 1 0 -9.70 0M724.4 181.5a4.85 4.85 0 1 0 9.70 0a4.85 4.85 0 1 0 -9.70 0M789.7 131.9a4.85 4.85 0 1 0 9.70 0a4.85 4.85 0 1 0 -9.70 0M758.0 145.8a4.85 4.85 0 1 0 9.70 0a4.85 4.85 0 1 0 -9.70 0M779.6 135.2a4.85 4.85 0 1 0 9.70 0a4.85 4.85 0 1 0 -9.70 0M742.9 168.6a4.85 4.85 0 1 0 9.70 0a4.85 4.85 0 1 0 -9.70 0M702.3 190.5a4.85 4.85 0 1 0 9.70 0a4.85 4.85 0 1 0 -9.70 0M696.4 189.3a4.85 4.85 0 1 0 9.70 0a4.85 4.85 0 1 0 -9.70 0M759.2 152.8a4.85 4.85 0 1 0 9.70 0a4.85 4.85 0 1 0 -9.70 0M737.8 161.7a4.85 4.85 0 1 0 9.70 0a4.85 4.85 0 1 0 -9.70 0M739.2 184.0a4.85 4.85 0 1 0 9.70 0a4.85 4.85 0 1 0 -9.70 0M727.7 174.9a4.85 4.85 0 1 0 9.70 0a4.85 4.85 0 1 0 -9.70 0M713.0 184.2a4.85 4.85 0 1 0 9.70 0a4.85 4.85 0 1 0 -9.70 0M742.5 170.3a4.85 4.85 0 1 0 9.70 0a4.85 4.85 0 1 0 -9.70 0M720.6 180.9a4.85 4.85 0 1 0 9.70 0a4.85 4.85 0 1 0 -9.70 0M784.4 140.8a4.85 4.85 0 1 0 9.70 0a4.85 4.85 0 1 0 -9.70 0M713.0 185.5a4.85 4.85 0 1 0 9.70 0a4.85 4.85 0 1 0 -9.70 0M791.9 128.3a4.85 4.85 0 1 0 9.70 0a4.85 4.85 0 1 0 -9.70 0M781.2 136.8a4.85 4.85 0 1 0 9.70 0a4.85 4.85 0 1 0 -9.70 0M733.5 164.6a4.85 4.85 0 1 0 9.70 0a4.85 4.85 0 1 0 -9.70 0M772.4 148.5a4.85 4.85 0 1 0 9.70 0a4.85 4.85 0 1 0 -9.70 0M753.2 166.7a4.85 4.85 0 1 0 9.70 0a4.85 4.85 0 1 0 -9.70 0M741.7 164.3a4.85 4.85 0 1 0 9.70 0a4.85 4.85 0 1 0 -9.70 0M776.3 144.2a4.85 4.85 0 1 0 9.70 0a4.85 4.85 0 1 0 -9.70 0M778.2 132.3a4.85 4.85 0 1 0 9.70 0a4.85 4.85 0 1 0 -9.70 0M715.3 180.7a4.85 4.85 0 1 0 9.70 0a4.85 4.85 0 1 0 -9.70 0M785.8 132.1a4.85 4.85 0 1 0 9.70 0a4.85 4.85 0 1 0 -9.70 0M698.4 198.6a4.85 4.85 0 1 0 9.70 0a4.85 4.85 0 1 0 -9.70 0M695.7 194.6a4.85 4.85 0 1 0 9.70 0a4.85 4.85 0 1 0 -9.70 0M743.5 155.9a4.85 4.85 0 1 0 9.70 0a4.85 4.85 0 1 0 -9.70 0M725.3 177.8a4.85 4.85 0 1 0 9.70 0a4.85 4.85 0 1 0 -9.70 0M737.4 168.4a4.85 4.85 0 1 0 9.70 0a4.85 4.85 0 1 0 -9.70 0M743.1 166.6a4.85 4.85 0 1 0 9.70 0a4.85 4.85 0 1 0 -9.70 0M742.0 171.3a4.85 4.85 0 1 0 9.70 0a4.85 4.85 0 1 0 -9.70 0M785.9 134.4a4.85 4.85 0 1 0 9.70 0a4.85 4.85 0 1 0 -9.70 0M787.0 129.2a4.85 4.85 0 1 0 9.70 0a4.85 4.85 0 1 0 -9.70 0M729.8 172.2a4.85 4.85 0 1 0 9.70 0a4.85 4.85 0 1 0 -9.70 0M723.9 179.5a4.85 4.85 0 1 0 9.70 0a4.85 4.85 0 1 0 -9.70 0M760.5 141.6a4.85 4.85 0 1 0 9.70 0a4.85 4.85 0 1 0 -9.70 0M715.0 176.8a4.85 4.85 0 1 0 9.70 0a4.85 4.85 0 1 0 -9.70 0M735.2 170.3a4.85 4.85 0 1 0 9.70 0a4.85 4.85 0 1 0 -9.70 0M766.9 149.4a4.85 4.85 0 1 0 9.70 0a4.85 4.85 0 1 0 -9.70 0M695.7 181.2a4.85 4.85 0 1 0 9.70 0a4.85 4.85 0 1 0 -9.70 0M772.3 141.4a4.85 4.85 0 1 0 9.70 0a4.85 4.85 0 1 0 -9.70 0M768.5 151.5a4.85 4.85 0 1 0 9.70 0a4.85 4.85 0 1 0 -9.70 0M733.9 167.8a4.85 4.85 0 1 0 9.70 0a4.85 4.85 0 1 0 -9.70 0M719.9 173.8a4.85 4.85 0 1 0 9.70 0a4.85 4.85 0 1 0 -9.70 0M749.2 172.5a4.85 4.85 0 1 0 9.70 0a4.85 4.85 0 1 0 -9.70 0M724.7 185.5a4.85 4.85 0 1 0 9.70 0a4.85 4.85 0 1 0 -9.70 0M777.3 135.3a4.85 4.85 0 1 0 9.70 0a4.85 4.85 0 1 0 -9.70 0M754.2 157.2a4.85 4.85 0 1 0 9.70 0a4.85 4.85 0 1 0 -9.70 0M725.8 168.7a4.85 4.85 0 1 0 9.70 0a4.85 4.85 0 1 0 -9.70 0M775.9 135.1a4.85 4.85 0 1 0 9.70 0a4.85 4.85 0 1 0 -9.70 0M755.9 157.2a4.85 4.85 0 1 0 9.70 0a4.85 4.85 0 1 0 -9.70 0M708.3 192.7a4.85 4.85 0 1 0 9.70 0a4.85 4.85 0 1 0 -9.70 0M736.6 170.4a4.85 4.85 0 1 0 9.70 0a4.85 4.85 0 1 0 -9.70 0M744.1 167.7a4.85 4.85 0 1 0 9.70 0a4.85 4.85 0 1 0 -9.70 0M789.6 127.8a4.85 4.85 0 1 0 9.70 0a4.85 4.85 0 1 0 -9.70 0M727.2 170.6a4.85 4.85 0 1 0 9.70 0a4.85 4.85 0 1 0 -9.70 0M740.0 170.2a4.85 4.85 0 1 0 9.70 0a4.85 4.85 0 1 0 -9.70 0M792.8 129.4a4.85 4.85 0 1 0 9.70 0a4.85 4.85 0 1 0 -9.70 0M737.8 172.0a4.85 4.85 0 1 0 9.70 0a4.85 4.85 0 1 0 -9.70 0M777.9 142.4a4.85 4.85 0 1 0 9.70 0a4.85 4.85 0 1 0 -9.70 0M704.8 184.5a4.85 4.85 0 1 0 9.70 0a4.85 4.85 0 1 0 -9.70 0M734.5 170.4a4.85 4.85 0 1 0 9.70 0a4.85 4.85 0 1 0 -9.70 0M713.5 184.7a4.85 4.85 0 1 0 9.70 0a4.85 4.85 0 1 0 -9.70 0M783.5 141.1a4.85 4.85 0 1 0 9.70 0a4.85 4.85 0 1 0 -9.70 0M750.4 150.5a4.85 4.85 0 1 0 9.70 0a4.85 4.85 0 1 0 -9.70 0M717.0 171.6a4.85 4.85 0 1 0 9.70 0a4.85 4.85 0 1 0 -9.70 0M704.4 188.5a4.85 4.85 0 1 0 9.70 0a4.85 4.85 0 1 0 -9.70 0M737.2 165.8a4.85 4.85 0 1 0 9.70 0a4.85 4.85 0 1 0 -9.70 0M704.8 195.7a4.85 4.85 0 1 0 9.70 0a4.85 4.85 0 1 0 -9.70 0M743.7 171.8a4.85 4.85 0 1 0 9.70 0a4.85 4.85 0 1 0 -9.70 0M768.0 149.6a4.85 4.85 0 1 0 9.70 0a4.85 4.85 0 1 0 -9.70 0M726.2 181.8a4.85 4.85 0 1 0 9.70 0a4.85 4.85 0 1 0 -9.70 0M711.9 190.1a4.85 4.85 0 1 0 9.70 0a4.85 4.85 0 1 0 -9.70 0M731.3 174.1a4.85 4.85 0 1 0 9.70 0a4.85 4.85 0 1 0 -9.70 0M711.8 186.9a4.85 4.85 0 1 0 9.70 0a4.85 4.85 0 1 0 -9.70 0M779.5 132.7a4.85 4.85 0 1 0 9.70 0a4.85 4.85 0 1 0 -9.70 0M704.8 196.5a4.85 4.85 0 1 0 9.70 0a4.85 4.85 0 1 0 -9.70 0M769.2 154.1a4.85 4.85 0 1 0 9.70 0a4.85 4.85 0 1 0 -9.70 0M728.5 169.1a4.85 4.85 0 1 0 9.70 0a4.85 4.85 0 1 0 -9.70 0M768.0 143.4a4.85 4.85 0 1 0 9.70 0a4.85 4.85 0 1 0 -9.70 0M772.2 136.9a4.85 4.85 0 1 0 9.70 0a4.85 4.85 0 1 0 -9.70 0M708.7 187.5a4.85 4.85 0 1 0 9.70 0a4.85 4.85 0 1 0 -9.70 0M770.8 151.2a4.85 4.85 0 1 0 9.70 0a4.85 4.85 0 1 0 -9.70 0M789.7 126.8a4.85 4.85 0 1 0 9.70 0a4.85 4.85 0 1 0 -9.70 0M751.9 154.8a4.85 4.85 0 1 0 9.70 0a4.85 4.85 0 1 0 -9.70 0M759.6 159.5a4.85 4.85 0 1 0 9.70 0a4.85 4.85 0 1 0 -9.70 0M727.4 163.1a4.85 4.85 0 1 0 9.70 0a4.85 4.85 0 1 0 -9.70 0M712.6 181.5a4.85 4.85 0 1 0 9.70 0a4.85 4.85 0 1 0 -9.70 0M769.6 141.2a4.85 4.85 0 1 0 9.70 0a4.85 4.85 0 1 0 -9.70 0M777.2 141.6a4.85 4.85 0 1 0 9.70 0a4.85 4.85 0 1 0 -9.70 0M715.8 183.2a4.85 4.85 0 1 0 9.70 0a4.85 4.85 0 1 0 -9.70 0M706.5 182.6a4.85 4.85 0 1 0 9.70 0a4.85 4.85 0 1 0 -9.70 0M730.4 173.0a4.85 4.85 0 1 0 9.70 0a4.85 4.85 0 1 0 -9.70 0M757.8 154.8a4.85 4.85 0 1 0 9.70 0a4.85 4.85 0 1 0 -9.70 0M731.7 174.4a4.85 4.85 0 1 0 9.70 0a4.85 4.85 0 1 0 -9.70 0M791.6 131.7a4.85 4.85 0 1 0 9.70 0a4.85 4.85 0 1 0 -9.70 0M774.3 139.7a4.85 4.85 0 1 0 9.70 0a4.85 4.85 0 1 0 -9.70 0M786.8 148.9a4.85 4.85 0 1 0 9.70 0a4.85 4.85 0 1 0 -9.70 0M755.1 153.4a4.85 4.85 0 1 0 9.70 0a4.85 4.85 0 1 0 -9.70 0M770.7 157.9a4.85 4.85 0 1 0 9.70 0a4.85 4.85 0 1 0 -9.70 0M790.2 127.7a4.85 4.85 0 1 0 9.70 0a4.85 4.85 0 1 0 -9.70 0M698.7 192.7a4.85 4.85 0 1 0 9.70 0a4.85 4.85 0 1 0 -9.70 0M752.6 152.5a4.85 4.85 0 1 0 9.70 0a4.85 4.85 0 1 0 -9.70 0M713.9 182.7a4.85 4.85 0 1 0 9.70 0a4.85 4.85 0 1 0 -9.70 0M774.7 134.3a4.85 4.85 0 1 0 9.70 0a4.85 4.85 0 1 0 -9.70 0M718.4 180.2a4.85 4.85 0 1 0 9.70 0a4.85 4.85 0 1 0 -9.70 0M769.3 152.0a4.85 4.85 0 1 0 9.70 0a4.85 4.85 0 1 0 -9.70 0M728.4 178.3a4.85 4.85 0 1 0 9.70 0a4.85 4.85 0 1 0 -9.70 0M760.3 152.0a4.85 4.85 0 1 0 9.70 0a4.85 4.85 0 1 0 -9.70 0M763.0 148.3a4.85 4.85 0 1 0 9.70 0a4.85 4.85 0 1 0 -9.70 0M786.0 140.4a4.85 4.85 0 1 0 9.70 0a4.85 4.85 0 1 0 -9.70 0M782.4 124.7a4.85 4.85 0 1 0 9.70 0a4.85 4.85 0 1 0 -9.70 0M738.9 171.2a4.85 4.85 0 1 0 9.70 0a4.85 4.85 0 1 0 -9.70 0M764.1 152.2a4.85 4.85 0 1 0 9.70 0a4.85 4.85 0 1 0 -9.70 0M713.4 189.5a4.85 4.85 0 1 0 9.70 0a4.85 4.85 0 1 0 -9.70 0M705.0 181.6a4.85 4.85 0 1 0 9.70 0a4.85 4.85 0 1 0 -9.70 0M766.6 149.2a4.85 4.85 0 1 0 9.70 0a4.85 4.85 0 1 0 -9.70 0M785.8 141.5a4.85 4.85 0 1 0 9.70 0a4.85 4.85 0 1 0 -9.70 0M769.8 151.0a4.85 4.85 0 1 0 9.70 0a4.85 4.85 0 1 0 -9.70 0M746.8 159.4a4.85 4.85 0 1 0 9.70 0a4.85 4.85 0 1 0 -9.70 0M758.1 161.4a4.85 4.85 0 1 0 9.70 0a4.85 4.85 0 1 0 -9.70 0M768.2 151.0a4.85 4.85 0 1 0 9.70 0a4.85 4.85 0 1 0 -9.70 0M752.1 161.0a4.85 4.85 0 1 0 9.70 0a4.85 4.85 0 1 0 -9.70 0M731.5 172.5a4.85 4.85 0 1 0 9.70 0a4.85 4.85 0 1 0 -9.70 0M780.2 140.6a4.85 4.85 0 1 0 9.70 0a4.85 4.85 0 1 0 -9.70 0M732.1 174.0a4.85 4.85 0 1 0 9.70 0a4.85 4.85 0 1 0 -9.70 0M785.5 144.0a4.85 4.85 0 1 0 9.70 0a4.85 4.85 0 1 0 -9.70 0M775.1 148.1a4.85 4.85 0 1 0 9.70 0a4.85 4.85 0 1 0 -9.70 0M774.5 144.3a4.85 4.85 0 1 0 9.70 0a4.85 4.85 0 1 0 -9.70 0M778.5 150.1a4.85 4.85 0 1 0 9.70 0a4.85 4.85 0 1 0 -9.70 0M793.8 132.2a4.85 4.85 0 1 0 9.70 0a4.85 4.85 0 1 0 -9.70 0M794.1 128.3a4.85 4.85 0 1 0 9.70 0a4.85 4.85 0 1 0 -9.70 0M745.3 157.3a4.85 4.85 0 1 0 9.70 0a4.85 4.85 0 1 0 -9.70 0M732.9 171.9a4.85 4.85 0 1 0 9.70 0a4.85 4.85 0 1 0 -9.70 0M768.5 153.5a4.85 4.85 0 1 0 9.70 0a4.85 4.85 0 1 0 -9.70 0M791.9 130.3a4.85 4.85 0 1 0 9.70 0a4.85 4.85 0 1 0 -9.70 0M758.2 155.6a4.85 4.85 0 1 0 9.70 0a4.85 4.85 0 1 0 -9.70 0M697.7 187.6a4.85 4.85 0 1 0 9.70 0a4.85 4.85 0 1 0 -9.70 0M699.0 188.6a4.85 4.85 0 1 0 9.70 0a4.85 4.85 0 1 0 -9.70 0M741.6 170.1a4.85 4.85 0 1 0 9.70 0a4.85 4.85 0 1 0 -9.70 0M773.9 141.3a4.85 4.85 0 1 0 9.70 0a4.85 4.85 0 1 0 -9.70 0M783.9 138.2a4.85 4.85 0 1 0 9.70 0a4.85 4.85 0 1 0 -9.70 0M732.7 159.0a4.85 4.85 0 1 0 9.70 0a4.85 4.85 0 1 0 -9.70 0M746.9 165.0a4.85 4.85 0 1 0 9.70 0a4.85 4.85 0 1 0 -9.70 0M746.5 170.8a4.85 4.85 0 1 0 9.70 0a4.85 4.85 0 1 0 -9.70 0M704.6 177.8a4.85 4.85 0 1 0 9.70 0a4.85 4.85 0 1 0 -9.70 0M695.2 188.9a4.85 4.85 0 1 0 9.70 0a4.85 4.85 0 1 0 -9.70 0M747.5 162.6a4.85 4.85 0 1 0 9.70 0a4.85 4.85 0 1 0 -9.70 0M745.6 165.6a4.85 4.85 0 1 0 9.70 0a4.85 4.85 0 1 0 -9.70 0M781.5 138.0a4.85 4.85 0 1 0 9.70 0a4.85 4.85 0 1 0 -9.70 0M713.3 180.7a4.85 4.85 0 1 0 9.70 0a4.85 4.85 0 1 0 -9.70 0M780.4 150.8a4.85 4.85 0 1 0 9.70 0a4.85 4.85 0 1 0 -9.70 0M722.3 164.7a4.85 4.85 0 1 0 9.70 0a4.85 4.85 0 1 0 -9.70 0M749.1 164.0a4.85 4.85 0 1 0 9.70 0a4.85 4.85 0 1 0 -9.70 0M765.9 148.4a4.85 4.85 0 1 0 9.70 0a4.85 4.85 0 1 0 -9.70 0M709.7 180.6a4.85 4.85 0 1 0 9.70 0a4.85 4.85 0 1 0 -9.70 0M789.8 127.8a4.85 4.85 0 1 0 9.70 0a4.85 4.85 0 1 0 -9.70 0M790.9 143.8a4.85 4.85 0 1 0 9.70 0a4.85 4.85 0 1 0 -9.70 0M792.1 135.5a4.85 4.85 0 1 0 9.70 0a4.85 4.85 0 1 0 -9.70 0M695.4 195.2a4.85 4.85 0 1 0 9.70 0a4.85 4.85 0 1 0 -9.70 0M759.5 148.7a4.85 4.85 0 1 0 9.70 0a4.85 4.85 0 1 0 -9.70 0M762.3 146.6a4.85 4.85 0 1 0 9.70 0a4.85 4.85 0 1 0 -9.70 0M783.1 134.1a4.85 4.85 0 1 0 9.70 0a4.85 4.85 0 1 0 -9.70 0M715.3 181.5a4.85 4.85 0 1 0 9.70 0a4.85 4.85 0 1 0 -9.70 0M707.6 182.7a4.85 4.85 0 1 0 9.70 0a4.85 4.85 0 1 0 -9.70 0M776.1 138.4a4.85 4.85 0 1 0 9.70 0a4.85 4.85 0 1 0 -9.70 0M721.3 174.1a4.85 4.85 0 1 0 9.70 0a4.85 4.85 0 1 0 -9.70 0M701.8 180.6a4.85 4.85 0 1 0 9.70 0a4.85 4.85 0 1 0 -9.70 0M704.3 193.2a4.85 4.85 0 1 0 9.70 0a4.85 4.85 0 1 0 -9.70 0M759.7 158.3a4.85 4.85 0 1 0 9.70 0a4.85 4.85 0 1 0 -9.70 0M748.7 164.3a4.85 4.85 0 1 0 9.70 0a4.85 4.85 0 1 0 -9.70 0M769.9 138.4a4.85 4.85 0 1 0 9.70 0a4.85 4.85 0 1 0 -9.70 0M775.9 144.9a4.85 4.85 0 1 0 9.70 0a4.85 4.85 0 1 0 -9.70 0M695.4 187.9a4.85 4.85 0 1 0 9.70 0a4.85 4.85 0 1 0 -9.70 0M788.4 132.1a4.85 4.85 0 1 0 9.70 0a4.85 4.85 0 1 0 -9.70 0M783.1 136.3a4.85 4.85 0 1 0 9.70 0a4.85 4.85 0 1 0 -9.70 0M788.5 127.2a4.85 4.85 0 1 0 9.70 0a4.85 4.85 0 1 0 -9.70 0M772.0 144.8a4.85 4.85 0 1 0 9.70 0a4.85 4.85 0 1 0 -9.70 0M733.5 168.1a4.85 4.85 0 1 0 9.70 0a4.85 4.85 0 1 0 -9.70 0M720.0 173.8a4.85 4.85 0 1 0 9.70 0a4.85 4.85 0 1 0 -9.70 0M786.4 129.9a4.85 4.85 0 1 0 9.70 0a4.85 4.85 0 1 0 -9.70 0M737.2 177.7a4.85 4.85 0 1 0 9.70 0a4.85 4.85 0 1 0 -9.70 0M743.9 166.7a4.85 4.85 0 1 0 9.70 0a4.85 4.85 0 1 0 -9.70 0M765.0 148.2a4.85 4.85 0 1 0 9.70 0a4.85 4.85 0 1 0 -9.70 0M764.0 140.9a4.85 4.85 0 1 0 9.70 0a4.85 4.85 0 1 0 -9.70 0M764.5 143.0a4.85 4.85 0 1 0 9.70 0a4.85 4.85 0 1 0 -9.70 0M757.5 151.1a4.85 4.85 0 1 0 9.70 0a4.85 4.85 0 1 0 -9.70 0M746.0 165.2a4.85 4.85 0 1 0 9.70 0a4.85 4.85 0 1 0 -9.70 0M771.9 143.7a4.85 4.85 0 1 0 9.70 0a4.85 4.85 0 1 0 -9.70 0M734.7 181.3a4.85 4.85 0 1 0 9.70 0a4.85 4.85 0 1 0 -9.70 0M721.4 182.0a4.85 4.85 0 1 0 9.70 0a4.85 4.85 0 1 0 -9.70 0M786.1 138.0a4.85 4.85 0 1 0 9.70 0a4.85 4.85 0 1 0 -9.70 0M779.7 142.1a4.85 4.85 0 1 0 9.70 0a4.85 4.85 0 1 0 -9.70 0M766.9 143.4a4.85 4.85 0 1 0 9.70 0a4.85 4.85 0 1 0 -9.70 0M712.0 182.9a4.85 4.85 0 1 0 9.70 0a4.85 4.85 0 1 0 -9.70 0M699.7 188.2a4.85 4.85 0 1 0 9.70 0a4.85 4.85 0 1 0 -9.70 0M787.4 137.8a4.85 4.85 0 1 0 9.70 0a4.85 4.85 0 1 0 -9.70 0M789.4 145.0a4.85 4.85 0 1 0 9.70 0a4.85 4.85 0 1 0 -9.70 0M722.4 185.1a4.85 4.85 0 1 0 9.70 0a4.85 4.85 0 1 0 -9.70 0M758.1 155.5a4.85 4.85 0 1 0 9.70 0a4.85 4.85 0 1 0 -9.70 0M697.0 191.6a4.85 4.85 0 1 0 9.70 0a4.85 4.85 0 1 0 -9.70 0M734.5 173.6a4.85 4.85 0 1 0 9.70 0a4.85 4.85 0 1 0 -9.70 0M765.5 157.4a4.85 4.85 0 1 0 9.70 0a4.85 4.85 0 1 0 -9.70 0M731.3 185.9a4.85 4.85 0 1 0 9.70 0a4.85 4.85 0 1 0 -9.70 0M775.9 134.4a4.85 4.85 0 1 0 9.70 0a4.85 4.85 0 1 0 -9.70 0M786.4 140.0a4.85 4.85 0 1 0 9.70 0a4.85 4.85 0 1 0 -9.70 0M708.9 180.3a4.85 4.85 0 1 0 9.70 0a4.85 4.85 0 1 0 -9.70 0M764.0 156.5a4.85 4.85 0 1 0 9.70 0a4.85 4.85 0 1 0 -9.70 0M732.8 170.4a4.85 4.85 0 1 0 9.70 0a4.85 4.85 0 1 0 -9.70 0M712.6 175.4a4.85 4.85 0 1 0 9.70 0a4.85 4.85 0 1 0 -9.70 0M730.1 181.5a4.85 4.85 0 1 0 9.70 0a4.85 4.85 0 1 0 -9.70 0M743.3 155.7a4.85 4.85 0 1 0 9.70 0a4.85 4.85 0 1 0 -9.70 0M784.7 135.1a4.85 4.85 0 1 0 9.70 0a4.85 4.85 0 1 0 -9.70 0M771.7 151.7a4.85 4.85 0 1 0 9.70 0a4.85 4.85 0 1 0 -9.70 0M695.7 194.8a4.85 4.85 0 1 0 9.70 0a4.85 4.85 0 1 0 -9.70 0M700.8 188.7a4.85 4.85 0 1 0 9.70 0a4.85 4.85 0 1 0 -9.70 0M794.5 135.3a4.85 4.85 0 1 0 9.70 0a4.85 4.85 0 1 0 -9.70 0M750.8 170.2a4.85 4.85 0 1 0 9.70 0a4.85 4.85 0 1 0 -9.70 0M756.2 159.7a4.85 4.85 0 1 0 9.70 0a4.85 4.85 0 1 0 -9.70 0M730.4 179.2a4.85 4.85 0 1 0 9.70 0a4.85 4.85 0 1 0 -9.70 0M778.3 135.0a4.85 4.85 0 1 0 9.70 0a4.85 4.85 0 1 0 -9.70 0M750.9 157.3a4.85 4.85 0 1 0 9.70 0a4.85 4.85 0 1 0 -9.70 0M754.4 160.4a4.85 4.85 0 1 0 9.70 0a4.85 4.85 0 1 0 -9.70 0M720.1 173.4a4.85 4.85 0 1 0 9.70 0a4.85 4.85 0 1 0 -9.70 0M772.8 139.3a4.85 4.85 0 1 0 9.70 0a4.85 4.85 0 1 0 -9.70 0M716.6 189.6a4.85 4.85 0 1 0 9.70 0a4.85 4.85 0 1 0 -9.70 0M708.9 189.5a4.85 4.85 0 1 0 9.70 0a4.85 4.85 0 1 0 -9.70 0M754.9 154.7a4.85 4.85 0 1 0 9.70 0a4.85 4.85 0 1 0 -9.70 0M778.4 140.1a4.85 4.85 0 1 0 9.70 0a4.85 4.85 0 1 0 -9.70 0M724.5 178.1a4.85 4.85 0 1 0 9.70 0a4.85 4.85 0 1 0 -9.70 0M725.4 175.1a4.85 4.85 0 1 0 9.70 0a4.85 4.85 0 1 0 -9.70 0M710.1 186.2a4.85 4.85 0 1 0 9.70 0a4.85 4.85 0 1 0 -9.70 0M755.5 159.8a4.85 4.85 0 1 0 9.70 0a4.85 4.85 0 1 0 -9.70 0M772.2 148.8a4.85 4.85 0 1 0 9.70 0a4.85 4.85 0 1 0 -9.70 0M707.7 179.6a4.85 4.85 0 1 0 9.70 0a4.85 4.85 0 1 0 -9.70 0M748.7 168.4a4.85 4.85 0 1 0 9.70 0a4.85 4.85 0 1 0 -9.70 0M749.1 165.5a4.85 4.85 0 1 0 9.70 0a4.85 4.85 0 1 0 -9.70 0M705.8 196.0a4.85 4.85 0 1 0 9.70 0a4.85 4.85 0 1 0 -9.70 0M748.2 158.7a4.85 4.85 0 1 0 9.70 0a4.85 4.85 0 1 0 -9.70 0M722.3 172.9a4.85 4.85 0 1 0 9.70 0a4.85 4.85 0 1 0 -9.70 0M715.1 185.7a4.85 4.85 0 1 0 9.70 0a4.85 4.85 0 1 0 -9.70 0M793.7 139.7a4.85 4.85 0 1 0 9.70 0a4.85 4.85 0 1 0 -9.70 0M704.2 194.9a4.85 4.85 0 1 0 9.70 0a4.85 4.85 0 1 0 -9.70 0M729.5 168.7a4.85 4.85 0 1 0 9.70 0a4.85 4.85 0 1 0 -9.70 0M757.0 163.1a4.85 4.85 0 1 0 9.70 0a4.85 4.85 0 1 0 -9.70 0M735.6 169.2a4.85 4.85 0 1 0 9.70 0a4.85 4.85 0 1 0 -9.70 0M696.9 186.8a4.85 4.85 0 1 0 9.70 0a4.85 4.85 0 1 0 -9.70 0M781.8 145.6a4.85 4.85 0 1 0 9.70 0a4.85 4.85 0 1 0 -9.70 0M719.1 179.1a4.85 4.85 0 1 0 9.70 0a4.85 4.85 0 1 0 -9.70 0M736.4 168.3a4.85 4.85 0 1 0 9.70 0a4.85 4.85 0 1 0 -9.70 0M786.0 138.9a4.85 4.85 0 1 0 9.70 0a4.85 4.85 0 1 0 -9.70 0M792.1 124.1a4.85 4.85 0 1 0 9.70 0a4.85 4.85 0 1 0 -9.70 0M786.6 140.0a4.85 4.85 0 1 0 9.70 0a4.85 4.85 0 1 0 -9.70 0M736.3 167.7a4.85 4.85 0 1 0 9.70 0a4.85 4.85 0 1 0 -9.70 0M769.6 148.2a4.85 4.85 0 1 0 9.70 0a4.85 4.85 0 1 0 -9.70 0M837.8 111.6a4.85 4.85 0 1 0 9.70 0a4.85 4.85 0 1 0 -9.70 0M836.1 109.4a4.85 4.85 0 1 0 9.70 0a4.85 4.85 0 1 0 -9.70 0M811.3 120.3a4.85 4.85 0 1 0 9.70 0a4.85 4.85 0 1 0 -9.70 0M801.5 123.2a4.85 4.85 0 1 0 9.70 0a4.85 4.85 0 1 0 -9.70 0M801.9 120.0a4.85 4.85 0 1 0 9.70 0a4.85 4.85 0 1 0 -9.70 0M815.6 122.0a4.85 4.85 0 1 0 9.70 0a4.85 4.85 0 1 0 -9.70 0M836.8 111.5a4.85 4.85 0 1 0 9.70 0a4.85 4.85 0 1 0 -9.70 0M799.0 127.4a4.85 4.85 0 1 0 9.70 0a4.85 4.85 0 1 0 -9.70 0M816.6 130.9a4.85 4.85 0 1 0 9.70 0a4.85 4.85 0 1 0 -9.70 0M812.9 125.7a4.85 4.85 0 1 0 9.70 0a4.85 4.85 0 1 0 -9.70 0M839.8 107.4a4.85 4.85 0 1 0 9.70 0a4.85 4.85 0 1 0 -9.70 0M802.8 131.8a4.85 4.85 0 1 0 9.70 0a4.85 4.85 0 1 0 -9.70 0M827.9 99.4a4.85 4.85 0 1 0 9.70 0a4.85 4.85 0 1 0 -9.70 0M811.3 118.0a4.85 4.85 0 1 0 9.70 0a4.85 4.85 0 1 0 -9.70 0M827.5 112.8a4.85 4.85 0 1 0 9.70 0a4.85 4.85 0 1 0 -9.70 0M836.3 103.3a4.85 4.85 0 1 0 9.70 0a4.85 4.85 0 1 0 -9.70 0M836.4 107.1a4.85 4.85 0 1 0 9.70 0a4.85 4.85 0 1 0 -9.70 0M837.4 109.9a4.85 4.85 0 1 0 9.70 0a4.85 4.85 0 1 0 -9.70 0M809.8 119.6a4.85 4.85 0 1 0 9.70 0a4.85 4.85 0 1 0 -9.70 0M808.9 129.6a4.85 4.85 0 1 0 9.70 0a4.85 4.85 0 1 0 -9.70 0M801.3 130.5a4.85 4.85 0 1 0 9.70 0a4.85 4.85 0 1 0 -9.70 0M807.9 118.0a4.85 4.85 0 1 0 9.70 0a4.85 4.85 0 1 0 -9.70 0M801.1 125.5a4.85 4.85 0 1 0 9.70 0a4.85 4.85 0 1 0 -9.70 0M834.4 103.9a4.85 4.85 0 1 0 9.70 0a4.85 4.85 0 1 0 -9.70 0M797.5 126.4a4.85 4.85 0 1 0 9.70 0a4.85 4.85 0 1 0 -9.70 0M804.7 131.8a4.85 4.85 0 1 0 9.70 0a4.85 4.85 0 1 0 -9.70 0M834.7 110.4a4.85 4.85 0 1 0 9.70 0a4.85 4.85 0 1 0 -9.70 0M833.6 103.0a4.85 4.85 0 1 0 9.70 0a4.85 4.85 0 1 0 -9.70 0M843.8 103.5a4.85 4.85 0 1 0 9.70 0a4.85 4.85 0 1 0 -9.70 0M814.3 115.9a4.85 4.85 0 1 0 9.70 0a4.85 4.85 0 1 0 -9.70 0M797.4 127.9a4.85 4.85 0 1 0 9.70 0a4.85 4.85 0 1 0 -9.70 0M835.6 113.8a4.85 4.85 0 1 0 9.70 0a4.85 4.85 0 1 0 -9.70 0M809.5 117.6a4.85 4.85 0 1 0 9.70 0a4.85 4.85 0 1 0 -9.70 0M833.8 110.2a4.85 4.85 0 1 0 9.70 0a4.85 4.85 0 1 0 -9.70 0M796.1 139.1a4.85 4.85 0 1 0 9.70 0a4.85 4.85 0 1 0 -9.70 0M796.9 119.8a4.85 4.85 0 1 0 9.70 0a4.85 4.85 0 1 0 -9.70 0M825.1 114.7a4.85 4.85 0 1 0 9.70 0a4.85 4.85 0 1 0 -9.70 0M829.4 114.3a4.85 4.85 0 1 0 9.70 0a4.85 4.85 0 1 0 -9.70 0M823.2 127.5a4.85 4.85 0 1 0 9.70 0a4.85 4.85 0 1 0 -9.70 0M821.8 118.3a4.85 4.85 0 1 0 9.70 0a4.85 4.85 0 1 0 -9.70 0M825.0 112.4a4.85 4.85 0 1 0 9.70 0a4.85 4.85 0 1 0 -9.70 0M801.7 136.4a4.85 4.85 0 1 0 9.70 0a4.85 4.85 0 1 0 -9.70 0M798.3 129.9a4.85 4.85 0 1 0 9.70 0a4.85 4.85 0 1 0 -9.70 0M812.6 133.6a4.85 4.85 0 1 0 9.70 0a4.85 4.85 0 1 0 -9.70 0M822.5 110.3a4.85 4.85 0 1 0 9.70 0a4.85 4.85 0 1 0 -9.70 0M807.6 123.2a4.85 4.85 0 1 0 9.70 0a4.85 4.85 0 1 0 -9.70 0M804.1 120.0a4.85 4.85 0 1 0 9.70 0a4.85 4.85 0 1 0 -9.70 0M817.5 109.5a4.85 4.85 0 1 0 9.70 0a4.85 4.85 0 1 0 -9.70 0M815.6 123.3a4.85 4.85 0 1 0 9.70 0a4.85 4.85 0 1 0 -9.70 0M808.6 137.3a4.85 4.85 0 1 0 9.70 0a4.85 4.85 0 1 0 -9.70 0M841.5 99.0a4.85 4.85 0 1 0 9.70 0a4.85 4.85 0 1 0 -9.70 0M842.3 108.3a4.85 4.85 0 1 0 9.70 0a4.85 4.85 0 1 0 -9.70 0M797.5 139.7a4.85 4.85 0 1 0 9.70 0a4.85 4.85 0 1 0 -9.70 0M819.2 114.9a4.85 4.85 0 1 0 9.70 0a4.85 4.85 0 1 0 -9.70 0M807.0 128.2a4.85 4.85 0 1 0 9.70 0a4.85 4.85 0 1 0 -9.70 0M812.0 111.5a4.85 4.85 0 1 0 9.70 0a4.85 4.85 0 1 0 -9.70 0M796.6 124.9a4.85 4.85 0 1 0 9.70 0a4.85 4.85 0 1 0 -9.70 0M799.2 138.4a4.85 4.85 0 1 0 9.70 0a4.85 4.85 0 1 0 -9.70 0M796.8 128.6a4.85 4.85 0 1 0 9.70 0a4.85 4.85 0 1 0 -9.70 0M801.4 129.7a4.85 4.85 0 1 0 9.70 0a4.85 4.85 0 1 0 -9.70 0M827.6 108.1a4.85 4.85 0 1 0 9.70 0a4.85 4.85 0 1 0 -9.70 0M799.1 128.7a4.85 4.85 0 1 0 9.70 0a4.85 4.85 0 1 0 -9.70 0M839.4 98.7a4.85 4.85 0 1 0 9.70 0a4.85 4.85 0 1 0 -9.70 0M835.3 104.3a4.85 4.85 0 1 0 9.70 0a4.85 4.85 0 1 0 -9.70 0M808.6 110.4a4.85 4.85 0 1 0 9.70 0a4.85 4.85 0 1 0 -9.70 0M829.7 108.4a4.85 4.85 0 1 0 9.70 0a4.85 4.85 0 1 0 -9.70 0M842.7 106.7a4.85 4.85 0 1 0 9.70 0a4.85 4.85 0 1 0 -9.70 0M801.0 126.8a4.85 4.85 0 1 0 9.70 0a4.85 4.85 0 1 0 -9.70 0M823.2 119.4a4.85 4.85 0 1 0 9.70 0a4.85 4.85 0 1 0 -9.70 0M818.4 124.1a4.85 4.85 0 1 0 9.70 0a4.85 4.85 0 1 0 -9.70 0M810.7 121.0a4.85 4.85 0 1 0 9.70 0a4.85 4.85 0 1 0 -9.70 0M809.5 119.7a4.85 4.85 0 1 0 9.70 0a4.85 4.85 0 1 0 -9.70 0M799.5 129.0a4.85 4.85 0 1 0 9.70 0a4.85 4.85 0 1 0 -9.70 0M827.5 112.1a4.85 4.85 0 1 0 9.70 0a4.85 4.85 0 1 0 -9.70 0M805.0 130.2a4.85 4.85 0 1 0 9.70 0a4.85 4.85 0 1 0 -9.70 0M816.3 123.0a4.85 4.85 0 1 0 9.70 0a4.85 4.85 0 1 0 -9.70 0M841.6 106.8a4.85 4.85 0 1 0 9.70 0a4.85 4.85 0 1 0 -9.70 0M812.6 134.6a4.85 4.85 0 1 0 9.70 0a4.85 4.85 0 1 0 -9.70 0M811.0 132.2a4.85 4.85 0 1 0 9.70 0a4.85 4.85 0 1 0 -9.70 0M841.8 107.2a4.85 4.85 0 1 0 9.70 0a4.85 4.85 0 1 0 -9.70 0M824.3 120.6a4.85 4.85 0 1 0 9.70 0a4.85 4.85 0 1 0 -9.70 0M823.7 117.2a4.85 4.85 0 1 0 9.70 0a4.85 4.85 0 1 0 -9.70 0M806.3 135.5a4.85 4.85 0 1 0 9.70 0a4.85 4.85 0 1 0 -9.70 0M827.2 110.6a4.85 4.85 0 1 0 9.70 0a4.85 4.85 0 1 0 -9.70 0M814.1 114.0a4.85 4.85 0 1 0 9.70 0a4.85 4.85 0 1 0 -9.70 0M822.3 116.7a4.85 4.85 0 1 0 9.70 0a4.85 4.85 0 1 0 -9.70 0M815.0 118.0a4.85 4.85 0 1 0 9.70 0a4.85 4.85 0 1 0 -9.70 0M799.2 127.2a4.85 4.85 0 1 0 9.70 0a4.85 4.85 0 1 0 -9.70 0M839.0 101.9a4.85 4.85 0 1 0 9.70 0a4.85 4.85 0 1 0 -9.70 0M829.7 111.2a4.85 4.85 0 1 0 9.70 0a4.85 4.85 0 1 0 -9.70 0M843.1 111.7a4.85 4.85 0 1 0 9.70 0a4.85 4.85 0 1 0 -9.70 0M810.5 112.9a4.85 4.85 0 1 0 9.70 0a4.85 4.85 0 1 0 -9.70 0M809.2 131.8a4.85 4.85 0 1 0 9.70 0a4.85 4.85 0 1 0 -9.70 0M801.9 123.2a4.85 4.85 0 1 0 9.70 0a4.85 4.85 0 1 0 -9.70 0M810.4 118.1a4.85 4.85 0 1 0 9.70 0a4.85 4.85 0 1 0 -9.70 0M811.4 129.3a4.85 4.85 0 1 0 9.70 0a4.85 4.85 0 1 0 -9.70 0M804.3 127.8a4.85 4.85 0 1 0 9.70 0a4.85 4.85 0 1 0 -9.70 0M808.4 125.3a4.85 4.85 0 1 0 9.70 0a4.85 4.85 0 1 0 -9.70 0M809.9 122.3a4.85 4.85 0 1 0 9.70 0a4.85 4.85 0 1 0 -9.70 0M838.0 102.3a4.85 4.85 0 1 0 9.70 0a4.85 4.85 0 1 0 -9.70 0M817.5 126.1a4.85 4.85 0 1 0 9.70 0a4.85 4.85 0 1 0 -9.70 0M836.1 108.7a4.85 4.85 0 1 0 9.70 0a4.85 4.85 0 1 0 -9.70 0M797.6 123.6a4.85 4.85 0 1 0 9.70 0a4.85 4.85 0 1 0 -9.70 0M804.6 119.8a4.85 4.85 0 1 0 9.70 0a4.85 4.85 0 1 0 -9.70 0M842.8 98.2a4.85 4.85 0 1 0 9.70 0a4.85 4.85 0 1 0 -9.70 0M797.7 124.0a4.85 4.85 0 1 0 9.70 0a4.85 4.85 0 1 0 -9.70 0M798.6 129.2a4.85 4.85 0 1 0 9.70 0a4.85 4.85 0 1 0 -9.70 0M821.0 122.4a4.85 4.85 0 1 0 9.70 0a4.85 4.85 0 1 0 -9.70 0M809.6 116.8a4.85 4.85 0 1 0 9.70 0a4.85 4.85 0 1 0 -9.70 0M804.9 121.0a4.85 4.85 0 1 0 9.70 0a4.85 4.85 0 1 0 -9.70 0M825.6 119.3a4.85 4.85 0 1 0 9.70 0a4.85 4.85 0 1 0 -9.70 0M825.6 122.8a4.85 4.85 0 1 0 9.70 0a4.85 4.85 0 1 0 -9.70 0M804.6 123.0a4.85 4.85 0 1 0 9.70 0a4.85 4.85 0 1 0 -9.70 0M822.1 107.5a4.85 4.85 0 1 0 9.70 0a4.85 4.85 0 1 0 -9.70 0M817.9 121.7a4.85 4.85 0 1 0 9.70 0a4.85 4.85 0 1 0 -9.70 0M837.5 113.7a4.85 4.85 0 1 0 9.70 0a4.85 4.85 0 1 0 -9.70 0M798.6 125.2a4.85 4.85 0 1 0 9.70 0a4.85 4.85 0 1 0 -9.70 0M806.8 122.1a4.85 4.85 0 1 0 9.70 0a4.85 4.85 0 1 0 -9.70 0M823.4 118.2a4.85 4.85 0 1 0 9.70 0a4.85 4.85 0 1 0 -9.70 0M796.8 137.1a4.85 4.85 0 1 0 9.70 0a4.85 4.85 0 1 0 -9.70 0M837.4 98.7a4.85 4.85 0 1 0 9.70 0a4.85 4.85 0 1 0 -9.70 0M843.6 105.6a4.85 4.85 0 1 0 9.70 0a4.85 4.85 0 1 0 -9.70 0M811.6 114.3a4.85 4.85 0 1 0 9.70 0a4.85 4.85 0 1 0 -9.70 0M833.9 116.8a4.85 4.85 0 1 0 9.70 0a4.85 4.85 0 1 0 -9.70 0M807.6 122.4a4.85 4.85 0 1 0 9.70 0a4.85 4.85 0 1 0 -9.70 0M842.6 108.2a4.85 4.85 0 1 0 9.70 0a4.85 4.85 0 1 0 -9.70 0M805.7 126.2a4.85 4.85 0 1 0 9.70 0a4.85 4.85 0 1 0 -9.70 0M795.4 127.3a4.85 4.85 0 1 0 9.70 0a4.85 4.85 0 1 0 -9.70 0M798.6 129.6a4.85 4.85 0 1 0 9.70 0a4.85 4.85 0 1 0 -9.70 0M818.1 114.7a4.85 4.85 0 1 0 9.70 0a4.85 4.85 0 1 0 -9.70 0M797.1 127.4a4.85 4.85 0 1 0 9.70 0a4.85 4.85 0 1 0 -9.70 0M844.2 106.8a4.85 4.85 0 1 0 9.70 0a4.85 4.85 0 1 0 -9.70 0M826.7 120.3a4.85 4.85 0 1 0 9.70 0a4.85 4.85 0 1 0 -9.70 0M823.6 120.4a4.85 4.85 0 1 0 9.70 0a4.85 4.85 0 1 0 -9.70 0M826.5 108.9a4.85 4.85 0 1 0 9.70 0a4.85 4.85 0 1 0 -9.70 0M816.1 125.8a4.85 4.85 0 1 0 9.70 0a4.85 4.85 0 1 0 -9.70 0M839.4 116.4a4.85 4.85 0 1 0 9.70 0a4.85 4.85 0 1 0 -9.70 0M830.8 106.6a4.85 4.85 0 1 0 9.70 0a4.85 4.85 0 1 0 -9.70 0M816.7 114.0a4.85 4.85 0 1 0 9.70 0a4.85 4.85 0 1 0 -9.70 0M809.4 129.8a4.85 4.85 0 1 0 9.70 0a4.85 4.85 0 1 0 -9.70 0M802.4 122.8a4.85 4.85 0 1 0 9.70 0a4.85 4.85 0 1 0 -9.70 0M810.9 126.0a4.85 4.85 0 1 0 9.70 0a4.85 4.85 0 1 0 -9.70 0M812.8 127.7a4.85 4.85 0 1 0 9.70 0a4.85 4.85 0 1 0 -9.70 0M799.2 124.9a4.85 4.85 0 1 0 9.70 0a4.85 4.85 0 1 0 -9.70 0M841.4 110.2a4.85 4.85 0 1 0 9.70 0a4.85 4.85 0 1 0 -9.70 0M808.0 120.4a4.85 4.85 0 1 0 9.70 0a4.85 4.85 0 1 0 -9.70 0M822.2 116.8a4.85 4.85 0 1 0 9.70 0a4.85 4.85 0 1 0 -9.70 0M798.5 134.8a4.85 4.85 0 1 0 9.70 0a4.85 4.85 0 1 0 -9.70 0M822.8 110.6a4.85 4.85 0 1 0 9.70 0a4.85 4.85 0 1 0 -9.70 0M827.5 116.8a4.85 4.85 0 1 0 9.70 0a4.85 4.85 0 1 0 -9.70 0M799.1 129.6a4.85 4.85 0 1 0 9.70 0a4.85 4.85 0 1 0 -9.70 0M843.9 100.2a4.85 4.85 0 1 0 9.70 0a4.85 4.85 0 1 0 -9.70 0M803.3 119.4a4.85 4.85 0 1 0 9.70 0a4.85 4.85 0 1 0 -9.70 0M808.3 126.5a4.85 4.85 0 1 0 9.70 0a4.85 4.85 0 1 0 -9.70 0M832.0 110.1a4.85 4.85 0 1 0 9.70 0a4.85 4.85 0 1 0 -9.70 0M812.0 127.0a4.85 4.85 0 1 0 9.70 0a4.85 4.85 0 1 0 -9.70 0M839.0 114.3a4.85 4.85 0 1 0 9.70 0a4.85 4.85 0 1 0 -9.70 0M807.1 122.3a4.85 4.85 0 1 0 9.70 0a4.85 4.85 0 1 0 -9.70 0M810.8 119.2a4.85 4.85 0 1 0 9.70 0a4.85 4.85 0 1 0 -9.70 0M829.8 104.6a4.85 4.85 0 1 0 9.70 0a4.85 4.85 0 1 0 -9.70 0M838.2 107.5a4.85 4.85 0 1 0 9.70 0a4.85 4.85 0 1 0 -9.70 0M839.3 95.4a4.85 4.85 0 1 0 9.70 0a4.85 4.85 0 1 0 -9.70 0M809.6 127.9a4.85 4.85 0 1 0 9.70 0a4.85 4.85 0 1 0 -9.70 0M821.7 120.0a4.85 4.85 0 1 0 9.70 0a4.85 4.85 0 1 0 -9.70 0M815.7 118.7a4.85 4.85 0 1 0 9.70 0a4.85 4.85 0 1 0 -9.70 0M829.0 121.5a4.85 4.85 0 1 0 9.70 0a4.85 4.85 0 1 0 -9.70 0M806.5 121.7a4.85 4.85 0 1 0 9.70 0a4.85 4.85 0 1 0 -9.70 0M837.1 107.6a4.85 4.85 0 1 0 9.70 0a4.85 4.85 0 1 0 -9.70 0M830.8 110.2a4.85 4.85 0 1 0 9.70 0a4.85 4.85 0 1 0 -9.70 0M803.9 133.7a4.85 4.85 0 1 0 9.70 0a4.85 4.85 0 1 0 -9.70 0M810.9 124.2a4.85 4.85 0 1 0 9.70 0a4.85 4.85 0 1 0 -9.70 0M812.0 119.4a4.85 4.85 0 1 0 9.70 0a4.85 4.85 0 1 0 -9.70 0M841.7 101.2a4.85 4.85 0 1 0 9.70 0a4.85 4.85 0 1 0 -9.70 0M818.0 118.2a4.85 4.85 0 1 0 9.70 0a4.85 4.85 0 1 0 -9.70 0M826.0 109.8a4.85 4.85 0 1 0 9.70 0a4.85 4.85 0 1 0 -9.70 0M861.2 85.1a4.85 4.85 0 1 0 9.70 0a4.85 4.85 0 1 0 -9.70 0M861.9 88.7a4.85 4.85 0 1 0 9.70 0a4.85 4.85 0 1 0 -9.70 0M861.9 81.2a4.85 4.85 0 1 0 9.70 0a4.85 4.85 0 1 0 -9.70 0M862.3 74.5a4.85 4.85 0 1 0 9.70 0a4.85 4.85 0 1 0 -9.70 0M864.6 77.4a4.85 4.85 0 1 0 9.70 0a4.85 4.85 0 1 0 -9.70 0M871.7 77.2a4.85 4.85 0 1 0 9.70 0a4.85 4.85 0 1 0 -9.70 0M881.6 65.1a4.85 4.85 0 1 0 9.70 0a4.85 4.85 0 1 0 -9.70 0M881.4 80.0a4.85 4.85 0 1 0 9.70 0a4.85 4.85 0 1 0 -9.70 0M887.4 62.2a4.85 4.85 0 1 0 9.70 0a4.85 4.85 0 1 0 -9.70 0M886.7 66.6a4.85 4.85 0 1 0 9.70 0a4.85 4.85 0 1 0 -9.70 0M889.2 67.4a4.85 4.85 0 1 0 9.70 0a4.85 4.85 0 1 0 -9.70 0M889.9 69.3a4.85 4.85 0 1 0 9.70 0a4.85 4.85 0 1 0 -9.70 0M891.0 74.5a4.85 4.85 0 1 0 9.70 0a4.85 4.85 0 1 0 -9.70 0M888.5 71.3a4.85 4.85 0 1 0 9.70 0a4.85 4.85 0 1 0 -9.70 0M891.7 70.5a4.85 4.85 0 1 0 9.70 0a4.85 4.85 0 1 0 -9.70 0M888.1 65.8a4.85 4.85 0 1 0 9.70 0a4.85 4.85 0 1 0 -9.70 0M894.1 68.1a4.85 4.85 0 1 0 9.70 0a4.85 4.85 0 1 0 -9.70 0M895.8 76.8a4.85 4.85 0 1 0 9.70 0a4.85 4.85 0 1 0 -9.70 0M905.0 55.3a4.85 4.85 0 1 0 9.70 0a4.85 4.85 0 1 0 -9.70 0M904.6 60.7a4.85 4.85 0 1 0 9.70 0a4.85 4.85 0 1 0 -9.70 0M909.3 58.7a4.85 4.85 0 1 0 9.70 0a4.85 4.85 0 1 0 -9.70 0M914.5 55.5a4.85 4.85 0 1 0 9.70 0a4.85 4.85 0 1 0 -9.70 0M920.6 50.6a4.85 4.85 0 1 0 9.70 0a4.85 4.85 0 1 0 -9.70 0M926.7 52.2a4.85 4.85 0 1 0 9.70 0a4.85 4.85 0 1 0 -9.70 0M944.1 32.9a4.85 4.85 0 1 0 9.70 0a4.85 4.85 0 1 0 -9.70 0M852.6 100.5a4.85 4.85 0 1 0 9.70 0a4.85 4.85 0 1 0 -9.70 0M721.6 157.4a4.85 4.85 0 1 0 9.70 0a4.85 4.85 0 1 0 -9.70 0M568.6 284.0a4.85 4.85 0 1 0 9.70 0a4.85 4.85 0 1 0 -9.70 0" fill="#000"/>
</g>
<rect x="110.30" y="1.20" width="889.70" height="530.30" fill="none" stroke="#000" stroke-width="1.29"/>
<path d="M104.65 525.80H115.95M104.65 462.39H115.95M104.65 398.97H115.95M104.65 335.56H115.95M104.65 272.15H115.95M104.65 208.74H115.95M104.65 145.32H115.95M104.65 81.91H115.95M104.65 18.50H115.95M150.70 525.85V537.15M388.70 525.85V537.15M626.70 525.85V537.15M864.70 525.85V537.15" stroke="#000" stroke-width="4.7"/>
<path d="M113.83 531.50V534.73M127.64 531.50V534.73M139.81 531.50V534.73M222.35 531.50V534.73M264.25 531.50V534.73M293.99 531.50V534.73M317.05 531.50V534.73M335.90 531.50V534.73M351.83 531.50V534.73M365.64 531.50V534.73M377.81 531.50V534.73M460.35 531.50V534.73M502.25 531.50V534.73M531.99 531.50V534.73M555.05 531.50V534.73M573.90 531.50V534.73M589.83 531.50V534.73M603.64 531.50V534.73M615.81 531.50V534.73M698.35 531.50V534.73M740.25 531.50V534.73M769.99 531.50V534.73M793.05 531.50V534.73M811.90 531.50V534.73M827.83 531.50V534.73M841.64 531.50V534.73M853.81 531.50V534.73M936.35 531.50V534.73M978.25 531.50V534.73" stroke="#000" stroke-width="0.97"/>
<rect x="142.00" y="33.00" width="356.00" height="212.30" fill="#fff"/>
<g clip-path="url(#ci)">
<path d="M159.6 216.0V174.0M161.0 234.0V174.0M161.0 207.0V163.0M162.0 190.0V146.0M167.0 206.5V144.5M183.0 189.0V161.0M207.6 161.9V126.9M207.0 220.0V144.0M223.0 165.0V109.0M221.0 168.0V128.0M228.0 170.0V130.0M230.0 177.0V133.0M233.0 188.0V148.0M226.0 180.0V140.0M235.0 176.0V140.0M225.0 163.0V129.0M242.0 175.5V128.5M247.0 222.0V126.0M275.6 134.0V105.0M274.4 156.0V110.0M289.7 148.7V107.3M307.8 143.7V96.3M330.2 125.2V89.8M354.2 134.0V89.0M430.0 80.3V44.9" stroke="#000" stroke-width="3.2" fill="none"/>
<path d="M156.7 202.0 158.3 200.9 160.0 199.9 161.6 198.8 163.2 197.7 164.9 196.7 166.5 195.6 168.1 194.6 169.8 193.6 171.4 192.5 173.1 191.5 174.7 190.5 176.3 189.5 178.0 188.5 179.6 187.5 181.2 186.5 182.9 185.5 184.5 184.6 186.1 183.6 187.8 182.6 189.4 181.7 191.0 180.8 192.7 179.8 194.3 178.9 196.0 177.9 197.6 177.0 199.2 176.1 200.9 175.2 202.5 174.3 204.1 173.4 205.8 172.5 207.4 171.6 209.0 170.7 210.7 169.9 212.3 169.0 213.9 168.2 215.6 167.3 217.2 166.5 218.9 165.7 220.5 164.9 222.1 164.1 223.8 163.3 225.4 162.5 227.0 161.8 228.7 161.0 230.3 160.2 231.9 159.5 233.6 158.7 235.2 158.0 236.8 157.3 238.5 156.6 240.1 155.8 241.8 155.1 243.4 154.4 245.0 153.7 246.7 153.0 248.3 152.3 249.9 151.7 251.6 151.0 253.2 150.3 254.8 149.6 256.5 149.0 258.1 148.3 259.7 147.6 261.4 146.9 263.0 146.3 264.7 145.6 266.3 144.9 267.9 144.3 269.6 143.6 271.2 143.0 272.8 142.3 274.5 141.7 276.1 141.0 277.7 140.4 279.4 139.7 281.0 139.1 282.6 138.5 284.3 137.8 285.9 137.2 287.6 136.6 289.2 136.0 290.8 135.4 292.5 134.8 294.1 134.2 295.7 133.6 297.4 133.0 299.0 132.4 300.6 131.9 302.3 131.3 303.9 130.8 305.5 130.2 307.2 129.7 308.8 129.1 310.5 128.6 312.1 128.1 313.7 127.6 315.4 127.1 317.0 126.6 318.6 126.0 320.3 125.5 321.9 125.0 323.5 124.5 325.2 124.0 326.8 123.5 328.4 123.0 330.1 122.4 331.7 121.9 333.4 121.4 335.0 120.9 336.6 120.4 338.3 119.9 339.9 119.4 341.5 118.9 343.2 118.4 344.8 118.0 346.4 117.5 348.1 117.0 349.7 116.6 351.3 116.1 353.0 115.7 354.6 115.3 356.3 114.8 357.9 114.4 359.5 114.0 361.2 113.7 362.8 113.3 364.4 112.9 366.1 112.6 367.7 112.3 369.3 111.9 371.0 111.7 372.6 111.4 374.2 111.1 375.9 110.9 377.5 110.6 379.2 110.4 380.8 110.2 382.4 110.0 384.1 109.9 385.7 109.7 387.3 109.5 389.0 109.3 390.6 109.1 392.2 109.0 393.9 108.8 395.5 108.6 397.1 108.5 398.8 108.3 400.4 108.2 402.1 108.0 403.7 107.9 405.3 107.7 407.0 107.6 408.6 107.4 410.2 107.3 411.9 107.2 413.5 107.0 415.1 106.9 416.8 106.8 418.4 106.7 420.0 106.5 421.7 106.4 423.3 106.3 425.0 106.2 426.6 106.1 428.2 106.0 429.9 105.9 431.5 105.8 433.1 105.7 434.8 105.6 436.4 105.5 438.0 105.4 439.7 105.4 441.3 105.3 442.9 105.2 444.6 105.1 446.2 105.1 447.9 105.0 449.5 105.0 451.1 104.9 452.8 104.9 454.4 104.8 456.0 104.8 457.7 104.7 459.3 104.7 460.9 104.6 462.6 104.6 464.2 104.5 465.8 104.5 467.5 104.5 469.1 104.4 470.8 104.4 472.4 104.4 474.0 104.3 475.7 104.3 477.3 104.3 478.9 104.3 480.6 104.3 482.2 104.3" stroke="#ff0000" stroke-width="4.85" fill="none" stroke-linecap="square" stroke-linejoin="round"/>
<path d="M156.7 199.1 158.3 198.0 160.0 196.8 161.6 195.7 163.2 194.5 164.9 193.4 166.5 192.3 168.1 191.1 169.8 190.0 171.4 188.9 173.1 187.8 174.7 186.7 176.3 185.6 178.0 184.5 179.6 183.4 181.2 182.3 182.9 181.2 184.5 180.1 186.1 179.0 187.8 178.0 189.4 176.9 191.0 175.8 192.7 174.8 194.3 173.7 196.0 172.7 197.6 171.6 199.2 170.6 200.9 169.6 202.5 168.5 204.1 167.5 205.8 166.5 207.4 165.5 209.0 164.4 210.7 163.4 212.3 162.4 213.9 161.4 215.6 160.4 217.2 159.4 218.9 158.5 220.5 157.5 222.1 156.5 223.8 155.5 225.4 154.6 227.0 153.6 228.7 152.6 230.3 151.7 231.9 150.7 233.6 149.8 235.2 148.8 236.8 147.9 238.5 146.9 240.1 146.0 241.8 145.1 243.4 144.1 245.0 143.2 246.7 142.3 248.3 141.4 249.9 140.5 251.6 139.6 253.2 138.7 254.8 137.8 256.5 136.9 258.1 136.0 259.7 135.1 261.4 134.2 263.0 133.3 264.7 132.5 266.3 131.6 267.9 130.7 269.6 129.9 271.2 129.0 272.8 128.1 274.5 127.3 276.1 126.4 277.7 125.6 279.4 124.7 281.0 123.9 282.6 123.1 284.3 122.2 285.9 121.4 287.6 120.6 289.2 119.8 290.8 118.9 292.5 118.1 294.1 117.3 295.7 116.5 297.4 115.7 299.0 114.9 300.6 114.1 302.3 113.3 303.9 112.5 305.5 111.7 307.2 111.0 308.8 110.2 310.5 109.4 312.1 108.6 313.7 107.9 315.4 107.1 317.0 106.3 318.6 105.6 320.3 104.8 321.9 104.0 323.5 103.3 325.2 102.5 326.8 101.8 328.4 101.1 330.1 100.3 331.7 99.6 333.4 98.8 335.0 98.1 336.6 97.4 338.3 96.7 339.9 95.9 341.5 95.2 343.2 94.5 344.8 93.8 346.4 93.1 348.1 92.4 349.7 91.7 351.3 91.0 353.0 90.3 354.6 89.6 356.3 88.9 357.9 88.2 359.5 87.5 361.2 86.8 362.8 86.1 364.4 85.4 366.1 84.8 367.7 84.1 369.3 83.4 371.0 82.8 372.6 82.1 374.2 81.4 375.9 80.8 377.5 80.1 379.2 79.4 380.8 78.8 382.4 78.1 384.1 77.5 385.7 76.8 387.3 76.2 389.0 75.6 390.6 74.9 392.2 74.3 393.9 73.6 395.5 73.0 397.1 72.4 398.8 71.7 400.4 71.1 402.1 70.5 403.7 69.9 405.3 69.3 407.0 68.6 408.6 68.0 410.2 67.4 411.9 66.8 413.5 66.2 415.1 65.6 416.8 65.0 418.4 64.4 420.0 63.8 421.7 63.2 423.3 62.6 425.0 62.0 426.6 61.4 428.2 60.8 429.9 60.2 431.5 59.6 433.1 59.1 434.8 58.5 436.4 57.9 438.0 57.3 439.7 56.7 441.3 56.2 442.9 55.6 444.6 55.0 446.2 54.5 447.9 53.9 449.5 53.3 451.1 52.8 452.8 52.2 454.4 51.6 456.0 51.1 457.7 50.5 459.3 50.0 460.9 49.4 462.6 48.9 464.2 48.3 465.8 47.8 467.5 47.2 469.1 46.7 470.8 46.1 472.4 45.6 474.0 45.0 475.7 44.5 477.3 44.0 478.9 43.4 480.6 42.9 482.2 42.3" stroke="#0000ff" stroke-width="4.85" fill="none" stroke-dasharray="4.85 8.00" stroke-dashoffset="2" stroke-linejoin="round"/>
<path d="M156.7 196.9 158.3 196.5 160.0 196.2 161.6 196.1 163.2 196.1 164.9 194.5 166.5 192.9 168.1 191.3 169.8 189.7 171.4 188.1 173.1 186.5 174.7 184.9 176.3 183.3 178.0 181.7 179.6 180.1 181.2 178.5 182.9 176.9 184.5 175.3 186.1 173.7 187.8 172.1 189.4 170.8 191.0 169.6 192.7 168.4 194.3 167.2 196.0 166.0 197.6 164.9 199.2 163.7 200.9 162.5 202.5 161.4 204.1 160.2 205.8 159.0 207.4 157.9 209.0 156.7 210.7 155.5 212.3 154.4 213.9 153.2 215.6 152.0 217.2 150.9 218.9 150.2 220.5 149.4 222.1 148.6 223.8 147.9 225.4 147.1 227.0 146.4 228.7 145.6 230.3 144.8 231.9 144.1 233.6 143.3 235.2 142.6 236.8 141.8 238.5 141.0 240.1 140.3 241.8 139.8 243.4 139.3 245.0 138.8 246.7 138.3 248.3 137.9 249.9 137.4 251.6 136.9 253.2 136.4 254.8 135.9 256.5 135.5 258.1 135.0 259.7 134.5 261.4 134.0 263.0 133.6 264.7 133.1 266.3 132.7 267.9 132.2 269.6 131.8 271.2 131.3 272.8 130.9 274.5 130.4 276.1 129.9 277.7 129.5 279.4 129.0 281.0 128.6 282.6 128.1 284.3 127.7 285.9 127.2 287.6 126.7 289.2 126.3 290.8 125.8 292.5 125.4 294.1 124.9 295.7 124.4 297.4 124.0 299.0 123.5 300.6 123.0 302.3 122.6 303.9 122.2 305.5 121.7 307.2 121.3 308.8 120.8 310.5 120.4 312.1 119.9 313.7 119.5 315.4 119.1 317.0 118.6 318.6 118.1 320.3 117.4 321.9 116.8 323.5 116.2 325.2 115.6 326.8 114.9 328.4 114.3 330.1 113.7 331.7 113.0 333.4 112.4 335.0 111.8 336.6 111.2 338.3 110.5 339.9 109.9 341.5 109.3 343.2 108.6 344.8 108.0 346.4 107.4 348.1 106.7 349.7 106.1 351.3 105.5 353.0 104.9 354.6 104.2 356.3 103.6 357.9 103.0 359.5 102.3 361.2 101.7 362.8 101.1 364.4 100.5 366.1 99.8 367.7 99.2 369.3 98.6 371.0 97.9 372.6 97.3 374.2 96.7 375.9 96.1 377.5 94.9 379.2 93.8 380.8 92.6 382.4 91.4 384.1 90.2 385.7 89.3 387.3 88.3 389.0 87.3 390.6 86.4 392.2 85.4 393.9 84.4 395.5 83.5 397.1 82.5 398.8 81.5 400.4 80.6 402.1 79.6 403.7 78.6 405.3 77.7 407.0 76.7 408.6 75.8 410.2 74.8 411.9 73.9 413.5 72.9 415.1 72.0 416.8 71.0 418.4 70.1 420.0 69.1 421.7 68.1 423.3 67.1 425.0 66.1 426.6 65.1 428.2 64.1 429.9 63.1 431.5 62.1 433.1 61.1 434.8 60.5 436.4 59.9 438.0 59.3 439.7 58.6 441.3 58.0 442.9 57.4 444.6 56.8 446.2 56.2 447.9 55.6 449.5 55.0 451.1 54.3 452.8 53.7 454.4 53.1 456.0 52.8 457.7 52.6 459.3 52.4 460.9 52.2 462.6 52.0 464.2 51.7 465.8 51.7 467.5 51.8 469.1 51.9 470.8 52.0 472.4 52.0 474.0 52.1 475.7 52.2 477.3 52.3 478.9 52.4 480.6 52.7 482.2 53.0" stroke="#800080" stroke-width="4.85" fill="none" stroke-dasharray="31.04 7.76 4.85 7.76" stroke-dashoffset="2.5" stroke-linejoin="round"/>
<path d="M325.74 245.30V33.00" stroke="#008000" stroke-width="3.19" fill="none" stroke-dasharray="11.78 5.10"/>
<path d="M154.7 195.0a4.85 4.85 0 1 0 9.70 0a4.85 4.85 0 1 0 -9.70 0M156.2 204.0a4.85 4.85 0 1 0 9.70 0a4.85 4.85 0 1 0 -9.70 0M156.2 185.0a4.85 4.85 0 1 0 9.70 0a4.85 4.85 0 1 0 -9.70 0M157.2 168.0a4.85 4.85 0 1 0 9.70 0a4.85 4.85 0 1 0 -9.70 0M162.2 175.5a4.85 4.85 0 1 0 9.70 0a4.85 4.85 0 1 0 -9.70 0M178.2 175.0a4.85 4.85 0 1 0 9.70 0a4.85 4.85 0 1 0 -9.70 0M202.8 144.4a4.85 4.85 0 1 0 9.70 0a4.85 4.85 0 1 0 -9.70 0M202.2 182.0a4.85 4.85 0 1 0 9.70 0a4.85 4.85 0 1 0 -9.70 0M218.1 137.0a4.85 4.85 0 1 0 9.70 0a4.85 4.85 0 1 0 -9.70 0M216.2 148.0a4.85 4.85 0 1 0 9.70 0a4.85 4.85 0 1 0 -9.70 0M223.2 150.0a4.85 4.85 0 1 0 9.70 0a4.85 4.85 0 1 0 -9.70 0M225.2 155.0a4.85 4.85 0 1 0 9.70 0a4.85 4.85 0 1 0 -9.70 0M228.1 168.0a4.85 4.85 0 1 0 9.70 0a4.85 4.85 0 1 0 -9.70 0M221.2 160.0a4.85 4.85 0 1 0 9.70 0a4.85 4.85 0 1 0 -9.70 0M230.2 158.0a4.85 4.85 0 1 0 9.70 0a4.85 4.85 0 1 0 -9.70 0M220.2 146.0a4.85 4.85 0 1 0 9.70 0a4.85 4.85 0 1 0 -9.70 0M237.2 152.0a4.85 4.85 0 1 0 9.70 0a4.85 4.85 0 1 0 -9.70 0M242.2 174.0a4.85 4.85 0 1 0 9.70 0a4.85 4.85 0 1 0 -9.70 0M270.8 119.5a4.85 4.85 0 1 0 9.70 0a4.85 4.85 0 1 0 -9.70 0M269.5 133.0a4.85 4.85 0 1 0 9.70 0a4.85 4.85 0 1 0 -9.70 0M284.8 128.0a4.85 4.85 0 1 0 9.70 0a4.85 4.85 0 1 0 -9.70 0M302.9 120.0a4.85 4.85 0 1 0 9.70 0a4.85 4.85 0 1 0 -9.70 0M325.3 107.5a4.85 4.85 0 1 0 9.70 0a4.85 4.85 0 1 0 -9.70 0M349.3 111.5a4.85 4.85 0 1 0 9.70 0a4.85 4.85 0 1 0 -9.70 0M425.1 62.6a4.85 4.85 0 1 0 9.70 0a4.85 4.85 0 1 0 -9.70 0" fill="#000"/>
</g>
<rect x="142.00" y="33.00" width="356.00" height="212.30" fill="none" stroke="#000" stroke-width="1.29"/>
<path d="M156.70 239.65V250.95M265.20 239.65V250.95M373.70 239.65V250.95M482.20 239.65V250.95M492.35 186.90H503.65M492.35 122.60H503.65M492.35 58.30H503.65" stroke="#000" stroke-width="4.7"/>
<rect x="632.30" y="297.80" width="353.50" height="219.10" rx="5.8" ry="5.8" fill="#fff" stroke="#cccccc" stroke-width="1.29"/>
<path d="M643.20 321.20H701.30" stroke="#ff0000" stroke-width="4.85" stroke-linecap="square"/>
<path d="M643.20 363.30H701.30" stroke="#0000ff" stroke-width="4.85" stroke-dasharray="4.85 8.00"/>
<path d="M643.20 405.50H701.30" stroke="#800080" stroke-width="4.85" stroke-dasharray="31.04 7.76 4.85 7.76"/>
<path d="M643.20 447.50H701.30" stroke="#008000" stroke-width="3.23" stroke-dasharray="11.95 5.17"/>
<path d="M672.25 475.1V504" stroke="#000" stroke-width="3.2"/><circle cx="672.25" cy="489.4" r="4.85" fill="#000"/>
<text transform="translate(55.86 536.80) scale(0.9617 1)" x="-1.49 17.22 27.22" y="0" font-size="30.73">7.5</text>
<text transform="translate(38.22 473.39) scale(0.9805 1)" x="-2.57 16.40 34.79 44.62" y="0" font-size="30.83">10.0</text>
<text transform="translate(38.22 409.97) scale(0.9509 1)" x="-2.37 16.77 36.01 46.16" y="0" font-size="30.83">12.5</text>
<text transform="translate(38.22 346.56) scale(0.9625 1)" x="-2.45 16.75 35.52 45.61" y="0" font-size="30.83">15.0</text>
<text transform="translate(38.22 283.15) scale(0.9583 1)" x="-2.40 16.94 35.71 45.76" y="0" font-size="30.73">17.5</text>
<text transform="translate(37.15 219.74) scale(0.9826 1)" x="-1.74 17.43 35.79 45.59" y="0" font-size="30.83">20.0</text>
<text transform="translate(37.15 156.32) scale(0.9535 1)" x="-1.53 17.82 37.01 47.12" y="0" font-size="30.83">22.5</text>
<text transform="translate(37.15 92.91) scale(0.9649 1)" x="-1.62 17.78 36.52 46.58" y="0" font-size="30.83">25.0</text>
<text transform="translate(37.15 29.50) scale(0.9579 1)" x="-1.56 18.04 36.82 46.87" y="0" font-size="30.83">27.5</text>
<text transform="translate(118.99 564.30) scale(0.9706 1)" x="-2.51 16.65" y="0" font-size="30.83">10</text>
<text transform="translate(155.40 553.10) scale(1.0839 1)" x="-0.44 13.69" y="0" font-size="21.58">−3</text>
<text transform="translate(356.99 564.30) scale(0.9706 1)" x="-2.51 16.65" y="0" font-size="30.83">10</text>
<text transform="translate(393.40 553.10) scale(1.0882 1)" x="-0.47 13.34" y="0" font-size="21.58">−2</text>
<text transform="translate(594.99 564.30) scale(0.9706 1)" x="-2.51 16.65" y="0" font-size="30.83">10</text>
<text transform="translate(631.40 553.10) scale(1.0910 1)" x="-0.46 13.43" y="0" font-size="21.51">−1</text>
<text transform="translate(842.19 564.30) scale(0.9706 1)" x="-2.51 16.65" y="0" font-size="30.83">10</text>
<text transform="translate(877.64 553.10) scale(0.9917 1)" x="-0.84" y="0" font-size="21.58">0</text>
<text transform="translate(499.00 599.60) scale(1.0102 1)" x="-3.53 17.05 34.42 51.90 67.11 85.01 93.37 103.41" y="0" font-size="30.41">Redshift</text>
<text transform="translate(136.83 278.10) scale(0.9751 1)" x="-2.54 16.08 25.99" y="0" font-size="30.83">1.0</text>
<text transform="translate(245.33 278.10) scale(0.9516 1)" x="-2.35 16.60 26.75" y="0" font-size="30.73">1.5</text>
<text transform="translate(352.76 278.10) scale(0.9783 1)" x="-1.71 17.10 26.96" y="0" font-size="30.83">2.0</text>
<text transform="translate(461.26 278.10) scale(0.9524 1)" x="-1.52 17.68 27.81" y="0" font-size="30.83">2.5</text>
<text transform="translate(263.40 312.20) scale(1.0137 1)" x="-3.53 17.05 34.42 51.90 67.11 85.01 93.37 103.41" y="0" font-size="30.41">Redshift</text>
<text transform="translate(511.42 197.80) scale(0.9457 1)" x="-1.47 18.32" y="0" font-size="30.83">25</text>
<text transform="translate(511.42 133.50) scale(0.9914 1)" x="-1.80 17.20" y="0" font-size="30.83">26</text>
<text transform="translate(511.42 69.20) scale(0.9630 1)" x="-1.60 17.90" y="0" font-size="30.83">27</text>
<text transform="translate(725.85 331.00) scale(0.9889 1)" x="-2.86 16.75 24.89 42.92 61.69 87.64 107.40 118.01 125.38 140.59 149.41 167.71 176.45" y="0" font-size="30.41">Kinematic Fit</text>
<text transform="translate(725.85 373.10) scale(0.9401 1)" x="-3.50 15.95 34.41 43.27 58.47 68.68 87.48 96.63" y="0" font-size="30.41">Poly Fit</text>
<text transform="translate(724.63 415.20) scale(0.9033 1)" x="-1.48 22.38 42.66 51.09 70.39 79.95" y="0" font-size="30.41">GP Fit</text>
<text transform="translate(724.91 457.50) scale(0.9839 1)" x="-2.66 16.46 38.42 47.54 70.27 88.96 107.03 123.94 133.24 154.42 172.38 190.43 206.20 224.55 233.23 243.61" y="0" font-size="30.41">SN H0pe Redshift</text>
<text transform="translate(724.91 499.40) scale(0.9403 1)" x="-2.24 18.02 39.98 50.61 59.22 76.14 87.80 107.39 128.80 157.89 176.79 185.51" y="0" font-size="30.41">SN Ia Sample</text>
<g transform="translate(22.00 456.51) rotate(-90)">
<text transform="translate(4.51 0.00) scale(0.9456 1)" x="-2.40 17.65 39.07 55.47 75.02" y="0" font-size="30.83">SALT2</text>
<text transform="translate(102.11 0.00) scale(1.0853 1)" x="-0.50" y="0" font-size="30.21" font-style="italic">m</text>
<text transform="translate(129.88 5.00) scale(0.9376 1)" x="-0.66" y="0" font-size="21.51" font-style="italic">B</text>
<text transform="translate(153.67 0.00) scale(0.9754 1)" x="-2.58 9.07 29.40 49.68 59.40 84.44 103.90 123.01 141.59 150.61 161.64 180.38 199.21 218.26" y="0" font-size="30.41">(AB Magnitude)</text>
</g>
<g transform="translate(572.70 211.01) rotate(-90)">
<text transform="translate(1.91 0.00) scale(0.9456 1)" x="-2.40 17.65 39.07 55.47 75.02" y="0" font-size="30.83">SALT2</text>
<text transform="translate(100.81 0.00) scale(1.0853 1)" x="-0.50" y="0" font-size="30.21" font-style="italic">m</text>
<text transform="translate(128.58 5.30) scale(0.9376 1)" x="-0.66" y="0" font-size="21.51" font-style="italic">B</text>
</g>
</svg></body></html>
